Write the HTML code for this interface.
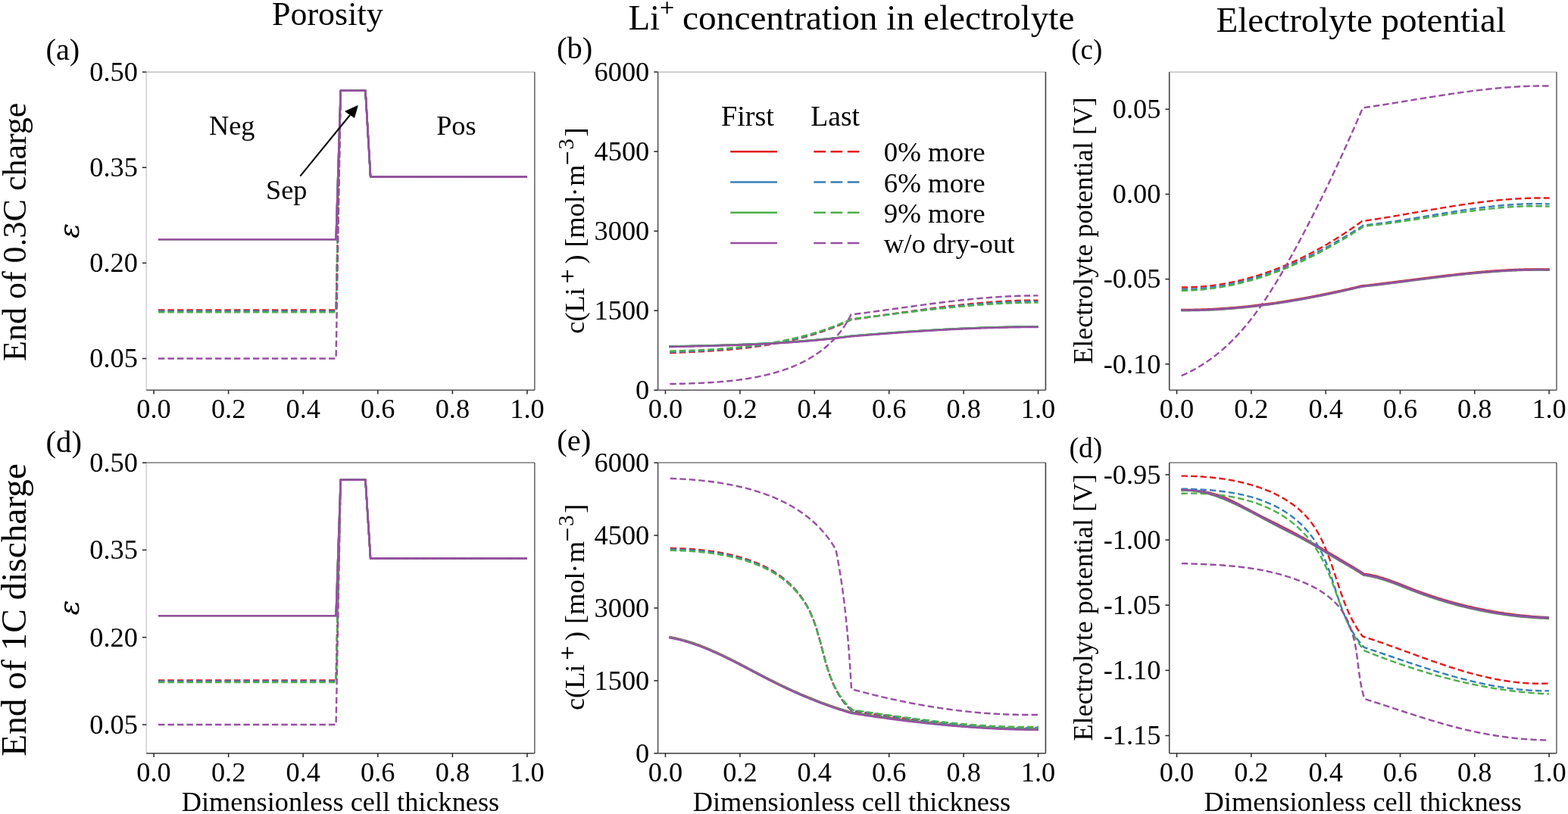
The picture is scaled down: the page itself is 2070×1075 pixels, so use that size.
<!DOCTYPE html><html><head><meta charset="utf-8"><title>Figure</title>
<style>html,body{margin:0;padding:0;background:#fff;}svg{display:block;}</style></head><body>
<svg width="2070" height="1075" viewBox="0 0 2070 1075">
<rect width="2070" height="1075" fill="#fff"/>
<path d="M208.97,316.09 L443.59,316.09 L449.70,119.82 L482.42,119.82 L489.13,233.43 L695.94,233.43" fill="none" stroke="#e41a1c" stroke-width="2.4" stroke-linejoin="round"/>
<path d="M208.97,409.42 L443.59,409.42 L449.70,119.82 L482.42,119.82 L489.13,233.43 L695.94,233.43" fill="none" stroke="#e41a1c" stroke-width="2.4" stroke-linejoin="round" stroke-dasharray="8.4 4.1"/>
<path d="M208.97,316.09 L443.59,316.09 L449.70,119.82 L482.42,119.82 L489.13,233.43 L695.94,233.43" fill="none" stroke="#377eb8" stroke-width="2.4" stroke-linejoin="round"/>
<path d="M208.97,410.85 L443.59,410.85 L449.70,119.82 L482.42,119.82 L489.13,233.43 L695.94,233.43" fill="none" stroke="#377eb8" stroke-width="2.4" stroke-linejoin="round" stroke-dasharray="8.4 4.1"/>
<path d="M208.97,316.09 L443.59,316.09 L449.70,119.82 L482.42,119.82 L489.13,233.43 L695.94,233.43" fill="none" stroke="#4daf4a" stroke-width="2.4" stroke-linejoin="round"/>
<path d="M208.97,412.37 L443.59,412.37 L449.70,119.82 L482.42,119.82 L489.13,233.43 L695.94,233.43" fill="none" stroke="#4daf4a" stroke-width="2.4" stroke-linejoin="round" stroke-dasharray="8.4 4.1"/>
<path d="M208.97,316.09 L443.59,316.09 L449.70,119.82 L482.42,119.82 L489.13,233.43 L695.94,233.43" fill="none" stroke="#984ea3" stroke-width="2.4" stroke-linejoin="round"/>
<path d="M208.97,473.50 L443.59,473.50 L449.70,119.82 L482.42,119.82 L489.13,233.43 L695.94,233.43" fill="none" stroke="#984ea3" stroke-width="2.4" stroke-linejoin="round" stroke-dasharray="8.4 4.1"/>
<path d="M208.97,813.11 L443.59,813.11 L449.70,633.70 L482.42,633.70 L489.13,737.55 L695.94,737.55" fill="none" stroke="#e41a1c" stroke-width="2.4" stroke-linejoin="round"/>
<path d="M208.97,898.43 L443.59,898.43 L449.70,633.70 L482.42,633.70 L489.13,737.55 L695.94,737.55" fill="none" stroke="#e41a1c" stroke-width="2.4" stroke-linejoin="round" stroke-dasharray="8.4 4.1"/>
<path d="M208.97,813.11 L443.59,813.11 L449.70,633.70 L482.42,633.70 L489.13,737.55 L695.94,737.55" fill="none" stroke="#377eb8" stroke-width="2.4" stroke-linejoin="round"/>
<path d="M208.97,899.73 L443.59,899.73 L449.70,633.70 L482.42,633.70 L489.13,737.55 L695.94,737.55" fill="none" stroke="#377eb8" stroke-width="2.4" stroke-linejoin="round" stroke-dasharray="8.4 4.1"/>
<path d="M208.97,813.11 L443.59,813.11 L449.70,633.70 L482.42,633.70 L489.13,737.55 L695.94,737.55" fill="none" stroke="#4daf4a" stroke-width="2.4" stroke-linejoin="round"/>
<path d="M208.97,901.12 L443.59,901.12 L449.70,633.70 L482.42,633.70 L489.13,737.55 L695.94,737.55" fill="none" stroke="#4daf4a" stroke-width="2.4" stroke-linejoin="round" stroke-dasharray="8.4 4.1"/>
<path d="M208.97,813.11 L443.59,813.11 L449.70,633.70 L482.42,633.70 L489.13,737.55 L695.94,737.55" fill="none" stroke="#984ea3" stroke-width="2.4" stroke-linejoin="round"/>
<path d="M208.97,957.00 L443.59,957.00 L449.70,633.70 L482.42,633.70 L489.13,737.55 L695.94,737.55" fill="none" stroke="#984ea3" stroke-width="2.4" stroke-linejoin="round" stroke-dasharray="8.4 4.1"/>
<path d="M883.10,457.60 L885.11,457.56 L887.12,457.52 L889.13,457.49 L891.14,457.45 L893.15,457.41 L895.16,457.37 L897.17,457.33 L899.19,457.29 L901.20,457.25 L903.21,457.21 L905.22,457.17 L907.23,457.13 L909.24,457.08 L911.25,457.04 L913.26,457.00 L915.27,456.95 L917.29,456.91 L919.30,456.87 L921.31,456.82 L923.32,456.77 L925.33,456.73 L927.34,456.68 L929.36,456.63 L931.37,456.58 L933.38,456.53 L935.39,456.48 L937.40,456.43 L939.41,456.38 L941.42,456.32 L943.44,456.27 L945.45,456.21 L947.46,456.16 L949.47,456.10 L951.48,456.04 L953.49,455.98 L955.51,455.92 L957.52,455.86 L959.53,455.79 L961.54,455.73 L963.55,455.66 L965.56,455.60 L967.57,455.53 L969.59,455.46 L971.60,455.39 L973.61,455.32 L975.62,455.24 L977.63,455.17 L979.64,455.09 L981.65,455.01 L983.66,454.93 L985.67,454.85 L987.68,454.77 L989.69,454.68 L991.70,454.60 L993.71,454.51 L995.72,454.42 L997.73,454.33 L999.74,454.24 L1001.75,454.14 L1003.76,454.05 L1005.77,453.95 L1007.78,453.85 L1009.79,453.75 L1011.80,453.64 L1013.81,453.54 L1015.82,453.43 L1017.83,453.32 L1019.84,453.21 L1021.85,453.09 L1023.85,452.98 L1025.86,452.86 L1027.87,452.74 L1029.88,452.62 L1031.89,452.49 L1033.89,452.36 L1035.90,452.23 L1037.91,452.10 L1039.92,451.97 L1041.92,451.83 L1043.93,451.70 L1045.94,451.55 L1047.94,451.41 L1049.95,451.27 L1051.95,451.12 L1053.96,450.97 L1055.97,450.81 L1057.97,450.66 L1059.98,450.50 L1061.98,450.34 L1063.98,450.18 L1065.99,450.01 L1067.99,449.84 L1070.00,449.67 L1072.00,449.49 L1074.00,449.32 L1076.01,449.14 L1078.01,448.95 L1080.01,448.77 L1082.02,448.58 L1084.02,448.39 L1086.02,448.19 L1088.02,448.00 L1090.02,447.80 L1092.02,447.59 L1094.02,447.39 L1096.02,447.18 L1098.03,446.96 L1100.02,446.75 L1102.02,446.53 L1104.02,446.31 L1106.02,446.08 L1108.02,445.85 L1110.02,445.62 L1112.02,445.38 L1114.02,445.15 L1116.01,444.90 L1118.01,444.66 L1120.01,444.41 L1122.00,444.16 L1124.00,443.90 L1124.00,443.90 L1126.00,443.73 L1128.00,443.56 L1130.00,443.39 L1132.00,443.22 L1134.00,443.05 L1136.00,442.89 L1138.00,442.72 L1140.00,442.55 L1142.00,442.39 L1144.00,442.22 L1146.00,442.06 L1148.00,441.90 L1150.00,441.74 L1152.00,441.57 L1154.01,441.41 L1156.01,441.26 L1158.01,441.10 L1160.01,440.94 L1162.01,440.78 L1164.01,440.63 L1166.01,440.47 L1168.01,440.32 L1170.01,440.17 L1172.02,440.02 L1174.02,439.86 L1176.02,439.72 L1178.02,439.57 L1180.02,439.42 L1182.02,439.27 L1184.03,439.13 L1186.03,438.98 L1188.03,438.84 L1190.03,438.69 L1192.04,438.55 L1194.04,438.41 L1196.04,438.27 L1198.04,438.14 L1200.04,438.00 L1202.05,437.86 L1204.05,437.73 L1206.05,437.59 L1208.06,437.46 L1210.06,437.33 L1212.06,437.20 L1214.06,437.07 L1216.07,436.94 L1218.07,436.81 L1220.07,436.69 L1222.08,436.56 L1224.08,436.44 L1226.08,436.32 L1228.09,436.20 L1230.09,436.08 L1232.09,435.96 L1234.10,435.85 L1236.10,435.73 L1238.11,435.62 L1240.11,435.50 L1242.11,435.39 L1244.12,435.28 L1246.12,435.17 L1248.13,435.06 L1250.13,434.96 L1252.13,434.85 L1254.14,434.75 L1256.14,434.65 L1258.15,434.55 L1260.15,434.45 L1262.16,434.35 L1264.16,434.26 L1266.17,434.16 L1268.17,434.07 L1270.17,433.98 L1272.18,433.89 L1274.18,433.80 L1276.19,433.71 L1278.20,433.62 L1280.20,433.54 L1282.21,433.46 L1284.21,433.37 L1286.22,433.30 L1288.22,433.22 L1290.23,433.14 L1292.23,433.07 L1294.24,432.99 L1296.24,432.92 L1298.25,432.85 L1300.26,432.78 L1302.26,432.72 L1304.27,432.65 L1306.27,432.59 L1308.28,432.53 L1310.29,432.47 L1312.29,432.41 L1314.30,432.35 L1316.30,432.30 L1318.31,432.24 L1320.32,432.19 L1322.32,432.14 L1324.33,432.09 L1326.34,432.05 L1328.34,432.00 L1330.35,431.96 L1332.36,431.92 L1334.36,431.88 L1336.37,431.84 L1338.38,431.81 L1340.39,431.77 L1342.39,431.74 L1344.40,431.71 L1346.41,431.68 L1348.42,431.66 L1350.42,431.63 L1352.43,431.61 L1354.44,431.59 L1356.45,431.57 L1358.45,431.56 L1360.46,431.54 L1362.47,431.53 L1364.48,431.52 L1366.48,431.51 L1368.49,431.50 L1370.50,431.50" fill="none" stroke="#e41a1c" stroke-width="2.4" stroke-linejoin="round"/>
<path d="M884.30,466.00 L886.29,465.93 L888.28,465.86 L890.28,465.79 L892.28,465.71 L894.27,465.64 L896.27,465.56 L898.27,465.48 L900.27,465.40 L902.28,465.32 L904.28,465.24 L906.29,465.16 L908.29,465.07 L910.30,464.98 L912.31,464.89 L914.32,464.80 L916.33,464.70 L918.34,464.61 L920.35,464.51 L922.36,464.41 L924.37,464.30 L926.39,464.19 L928.40,464.08 L930.42,463.97 L932.43,463.85 L934.45,463.73 L936.46,463.61 L938.48,463.48 L940.50,463.36 L942.51,463.22 L944.53,463.09 L946.55,462.94 L948.57,462.80 L950.58,462.65 L952.60,462.50 L954.62,462.34 L956.64,462.18 L958.65,462.02 L960.67,461.85 L962.69,461.68 L964.70,461.50 L966.72,461.31 L968.73,461.13 L970.75,460.93 L972.76,460.74 L974.78,460.53 L976.79,460.33 L978.80,460.11 L980.81,459.89 L982.82,459.67 L984.83,459.44 L986.84,459.20 L988.85,458.96 L990.86,458.72 L992.87,458.46 L994.87,458.21 L996.88,457.94 L998.88,457.67 L1000.88,457.39 L1002.88,457.11 L1004.88,456.82 L1006.88,456.52 L1008.87,456.22 L1010.87,455.90 L1012.86,455.59 L1014.85,455.26 L1016.84,454.93 L1018.83,454.59 L1020.82,454.24 L1022.80,453.89 L1024.78,453.53 L1026.77,453.16 L1028.74,452.78 L1030.72,452.40 L1032.70,452.01 L1034.67,451.61 L1036.64,451.20 L1038.61,450.78 L1040.57,450.36 L1042.54,449.92 L1044.50,449.48 L1046.46,449.03 L1048.42,448.57 L1050.37,448.11 L1052.32,447.63 L1054.27,447.14 L1056.22,446.65 L1058.16,446.15 L1060.10,445.63 L1062.04,445.11 L1063.98,444.58 L1065.91,444.04 L1067.84,443.49 L1069.77,442.93 L1071.69,442.36 L1073.61,441.78 L1075.53,441.19 L1077.44,440.59 L1079.35,439.97 L1081.26,439.35 L1083.16,438.72 L1085.06,438.08 L1086.96,437.43 L1088.85,436.76 L1090.74,436.09 L1092.63,435.41 L1094.51,434.71 L1096.39,434.00 L1098.27,433.29 L1100.14,432.56 L1102.01,431.81 L1103.87,431.06 L1105.73,430.30 L1107.59,429.52 L1109.44,428.74 L1111.29,427.94 L1113.13,427.13 L1114.97,426.30 L1116.81,425.47 L1118.64,424.62 L1120.46,423.76 L1122.28,422.89 L1124.10,422.00 L1124.10,422.00 L1126.10,421.74 L1128.09,421.48 L1130.09,421.21 L1132.08,420.95 L1134.08,420.68 L1136.08,420.41 L1138.07,420.14 L1140.07,419.87 L1142.06,419.60 L1144.06,419.32 L1146.06,419.05 L1148.05,418.77 L1150.05,418.49 L1152.04,418.22 L1154.04,417.94 L1156.03,417.66 L1158.03,417.38 L1160.03,417.10 L1162.02,416.81 L1164.02,416.53 L1166.01,416.25 L1168.01,415.97 L1170.01,415.68 L1172.00,415.40 L1174.00,415.11 L1175.99,414.83 L1177.99,414.54 L1179.99,414.26 L1181.98,413.98 L1183.98,413.69 L1185.97,413.41 L1187.97,413.12 L1189.97,412.84 L1191.96,412.56 L1193.96,412.27 L1195.96,411.99 L1197.95,411.71 L1199.95,411.43 L1201.95,411.15 L1203.94,410.87 L1205.94,410.59 L1207.94,410.31 L1209.94,410.03 L1211.93,409.76 L1213.93,409.48 L1215.93,409.21 L1217.93,408.93 L1219.93,408.66 L1221.92,408.39 L1223.92,408.12 L1225.92,407.86 L1227.92,407.59 L1229.92,407.32 L1231.92,407.06 L1233.92,406.80 L1235.92,406.54 L1237.91,406.28 L1239.91,406.03 L1241.91,405.78 L1243.91,405.52 L1245.91,405.27 L1247.91,405.03 L1249.92,404.78 L1251.92,404.54 L1253.92,404.30 L1255.92,404.06 L1257.92,403.82 L1259.92,403.59 L1261.92,403.36 L1263.93,403.13 L1265.93,402.91 L1267.93,402.69 L1269.93,402.47 L1271.94,402.25 L1273.94,402.04 L1275.95,401.83 L1277.95,401.62 L1279.95,401.42 L1281.96,401.22 L1283.96,401.02 L1285.97,400.82 L1287.97,400.63 L1289.98,400.45 L1291.99,400.26 L1293.99,400.08 L1296.00,399.91 L1298.01,399.74 L1300.01,399.57 L1302.02,399.40 L1304.03,399.24 L1306.04,399.09 L1308.04,398.93 L1310.05,398.79 L1312.06,398.64 L1314.07,398.50 L1316.08,398.37 L1318.09,398.24 L1320.10,398.11 L1322.11,397.99 L1324.13,397.87 L1326.14,397.76 L1328.15,397.65 L1330.16,397.55 L1332.18,397.45 L1334.19,397.36 L1336.20,397.27 L1338.22,397.19 L1340.23,397.11 L1342.25,397.04 L1344.26,396.97 L1346.28,396.91 L1348.29,396.85 L1350.31,396.80 L1352.33,396.75 L1354.34,396.71 L1356.36,396.68 L1358.38,396.65 L1360.40,396.63 L1362.42,396.61 L1364.44,396.60 L1366.46,396.59 L1368.48,396.59 L1370.50,396.60" fill="none" stroke="#e41a1c" stroke-width="2.4" stroke-linejoin="round" stroke-dasharray="8.4 4.1"/>
<path d="M883.10,457.40 L885.11,457.36 L887.12,457.32 L889.13,457.29 L891.14,457.25 L893.15,457.21 L895.16,457.17 L897.17,457.13 L899.19,457.09 L901.20,457.05 L903.21,457.01 L905.22,456.97 L907.23,456.93 L909.24,456.88 L911.25,456.84 L913.26,456.80 L915.27,456.75 L917.29,456.71 L919.30,456.67 L921.31,456.62 L923.32,456.57 L925.33,456.53 L927.34,456.48 L929.36,456.43 L931.37,456.38 L933.38,456.33 L935.39,456.28 L937.40,456.23 L939.41,456.18 L941.42,456.12 L943.44,456.07 L945.45,456.01 L947.46,455.96 L949.47,455.90 L951.48,455.84 L953.49,455.78 L955.51,455.72 L957.52,455.66 L959.53,455.59 L961.54,455.53 L963.55,455.46 L965.56,455.40 L967.57,455.33 L969.59,455.26 L971.60,455.19 L973.61,455.12 L975.62,455.04 L977.63,454.97 L979.64,454.89 L981.65,454.81 L983.66,454.73 L985.67,454.65 L987.68,454.57 L989.69,454.48 L991.70,454.40 L993.71,454.31 L995.72,454.22 L997.73,454.13 L999.74,454.04 L1001.75,453.94 L1003.76,453.85 L1005.77,453.75 L1007.78,453.65 L1009.79,453.55 L1011.80,453.44 L1013.81,453.34 L1015.82,453.23 L1017.83,453.12 L1019.84,453.01 L1021.85,452.89 L1023.85,452.78 L1025.86,452.66 L1027.87,452.54 L1029.88,452.42 L1031.89,452.29 L1033.89,452.16 L1035.90,452.03 L1037.91,451.90 L1039.92,451.77 L1041.92,451.63 L1043.93,451.50 L1045.94,451.35 L1047.94,451.21 L1049.95,451.07 L1051.95,450.92 L1053.96,450.77 L1055.97,450.61 L1057.97,450.46 L1059.98,450.30 L1061.98,450.14 L1063.98,449.98 L1065.99,449.81 L1067.99,449.64 L1070.00,449.47 L1072.00,449.29 L1074.00,449.12 L1076.01,448.94 L1078.01,448.75 L1080.01,448.57 L1082.02,448.38 L1084.02,448.19 L1086.02,447.99 L1088.02,447.80 L1090.02,447.60 L1092.02,447.39 L1094.02,447.19 L1096.02,446.98 L1098.03,446.76 L1100.02,446.55 L1102.02,446.33 L1104.02,446.11 L1106.02,445.88 L1108.02,445.65 L1110.02,445.42 L1112.02,445.18 L1114.02,444.95 L1116.01,444.70 L1118.01,444.46 L1120.01,444.21 L1122.00,443.96 L1124.00,443.70 L1124.00,443.70 L1126.00,443.53 L1128.00,443.36 L1130.00,443.19 L1132.00,443.02 L1134.00,442.85 L1136.00,442.69 L1138.00,442.52 L1140.00,442.35 L1142.00,442.19 L1144.00,442.02 L1146.00,441.86 L1148.00,441.70 L1150.00,441.54 L1152.00,441.37 L1154.01,441.21 L1156.01,441.06 L1158.01,440.90 L1160.01,440.74 L1162.01,440.58 L1164.01,440.43 L1166.01,440.27 L1168.01,440.12 L1170.01,439.97 L1172.02,439.82 L1174.02,439.66 L1176.02,439.52 L1178.02,439.37 L1180.02,439.22 L1182.02,439.07 L1184.03,438.93 L1186.03,438.78 L1188.03,438.64 L1190.03,438.49 L1192.04,438.35 L1194.04,438.21 L1196.04,438.07 L1198.04,437.94 L1200.04,437.80 L1202.05,437.66 L1204.05,437.53 L1206.05,437.39 L1208.06,437.26 L1210.06,437.13 L1212.06,437.00 L1214.06,436.87 L1216.07,436.74 L1218.07,436.61 L1220.07,436.49 L1222.08,436.36 L1224.08,436.24 L1226.08,436.12 L1228.09,436.00 L1230.09,435.88 L1232.09,435.76 L1234.10,435.65 L1236.10,435.53 L1238.11,435.42 L1240.11,435.30 L1242.11,435.19 L1244.12,435.08 L1246.12,434.97 L1248.13,434.86 L1250.13,434.76 L1252.13,434.65 L1254.14,434.55 L1256.14,434.45 L1258.15,434.35 L1260.15,434.25 L1262.16,434.15 L1264.16,434.06 L1266.17,433.96 L1268.17,433.87 L1270.17,433.78 L1272.18,433.69 L1274.18,433.60 L1276.19,433.51 L1278.20,433.42 L1280.20,433.34 L1282.21,433.26 L1284.21,433.17 L1286.22,433.10 L1288.22,433.02 L1290.23,432.94 L1292.23,432.87 L1294.24,432.79 L1296.24,432.72 L1298.25,432.65 L1300.26,432.58 L1302.26,432.52 L1304.27,432.45 L1306.27,432.39 L1308.28,432.33 L1310.29,432.27 L1312.29,432.21 L1314.30,432.15 L1316.30,432.10 L1318.31,432.04 L1320.32,431.99 L1322.32,431.94 L1324.33,431.89 L1326.34,431.85 L1328.34,431.80 L1330.35,431.76 L1332.36,431.72 L1334.36,431.68 L1336.37,431.64 L1338.38,431.61 L1340.39,431.57 L1342.39,431.54 L1344.40,431.51 L1346.41,431.48 L1348.42,431.46 L1350.42,431.43 L1352.43,431.41 L1354.44,431.39 L1356.45,431.37 L1358.45,431.36 L1360.46,431.34 L1362.47,431.33 L1364.48,431.32 L1366.48,431.31 L1368.49,431.30 L1370.50,431.30" fill="none" stroke="#377eb8" stroke-width="2.4" stroke-linejoin="round"/>
<path d="M884.30,464.80 L886.29,464.74 L888.29,464.68 L890.28,464.62 L892.28,464.56 L894.28,464.49 L896.27,464.42 L898.27,464.36 L900.28,464.29 L902.28,464.21 L904.28,464.14 L906.29,464.06 L908.29,463.98 L910.30,463.90 L912.30,463.82 L914.31,463.73 L916.32,463.65 L918.33,463.56 L920.34,463.46 L922.35,463.36 L924.36,463.27 L926.37,463.16 L928.39,463.06 L930.40,462.95 L932.41,462.84 L934.43,462.72 L936.44,462.60 L938.45,462.48 L940.47,462.35 L942.48,462.22 L944.50,462.09 L946.51,461.95 L948.53,461.81 L950.54,461.67 L952.55,461.52 L954.57,461.36 L956.58,461.21 L958.60,461.04 L960.61,460.88 L962.62,460.70 L964.64,460.53 L966.65,460.35 L968.66,460.16 L970.67,459.97 L972.69,459.77 L974.70,459.57 L976.71,459.37 L978.72,459.15 L980.72,458.94 L982.73,458.72 L984.74,458.49 L986.75,458.25 L988.75,458.01 L990.75,457.77 L992.76,457.52 L994.76,457.26 L996.76,457.00 L998.76,456.73 L1000.76,456.45 L1002.76,456.17 L1004.75,455.88 L1006.75,455.58 L1008.74,455.28 L1010.74,454.97 L1012.73,454.66 L1014.72,454.33 L1016.70,454.01 L1018.69,453.67 L1020.67,453.33 L1022.66,452.97 L1024.64,452.62 L1026.62,452.25 L1028.59,451.88 L1030.57,451.50 L1032.54,451.11 L1034.52,450.71 L1036.49,450.31 L1038.45,449.89 L1040.42,449.47 L1042.38,449.05 L1044.34,448.61 L1046.30,448.16 L1048.26,447.71 L1050.21,447.25 L1052.16,446.78 L1054.11,446.30 L1056.06,445.81 L1058.00,445.31 L1059.95,444.81 L1061.89,444.29 L1063.82,443.77 L1065.76,443.24 L1067.69,442.69 L1069.61,442.14 L1071.54,441.58 L1073.46,441.01 L1075.38,440.43 L1077.30,439.84 L1079.21,439.24 L1081.12,438.63 L1083.03,438.01 L1084.93,437.38 L1086.83,436.74 L1088.73,436.09 L1090.63,435.42 L1092.52,434.75 L1094.40,434.07 L1096.29,433.38 L1098.17,432.68 L1100.05,431.96 L1101.92,431.24 L1103.79,430.50 L1105.65,429.75 L1107.52,428.99 L1109.38,428.22 L1111.23,427.44 L1113.08,426.65 L1114.93,425.85 L1116.77,425.03 L1118.61,424.20 L1120.44,423.37 L1122.27,422.51 L1124.10,421.65 L1124.10,421.65 L1126.10,421.40 L1128.09,421.16 L1130.09,420.91 L1132.09,420.66 L1134.08,420.41 L1136.08,420.16 L1138.08,419.91 L1140.07,419.65 L1142.07,419.40 L1144.07,419.14 L1146.06,418.88 L1148.06,418.63 L1150.06,418.37 L1152.05,418.11 L1154.05,417.85 L1156.05,417.59 L1158.05,417.33 L1160.04,417.07 L1162.04,416.80 L1164.04,416.54 L1166.03,416.28 L1168.03,416.01 L1170.03,415.75 L1172.02,415.49 L1174.02,415.22 L1176.02,414.96 L1178.01,414.70 L1180.01,414.43 L1182.01,414.17 L1184.01,413.90 L1186.00,413.64 L1188.00,413.38 L1190.00,413.11 L1192.00,412.85 L1193.99,412.59 L1195.99,412.33 L1197.99,412.07 L1199.99,411.81 L1201.98,411.55 L1203.98,411.29 L1205.98,411.03 L1207.98,410.77 L1209.98,410.52 L1211.98,410.26 L1213.97,410.01 L1215.97,409.76 L1217.97,409.50 L1219.97,409.25 L1221.97,409.00 L1223.97,408.75 L1225.97,408.51 L1227.97,408.26 L1229.97,408.02 L1231.97,407.78 L1233.97,407.54 L1235.97,407.30 L1237.97,407.06 L1239.97,406.82 L1241.97,406.59 L1243.97,406.36 L1245.97,406.13 L1247.97,405.90 L1249.97,405.67 L1251.97,405.45 L1253.98,405.23 L1255.98,405.01 L1257.98,404.79 L1259.98,404.58 L1261.98,404.37 L1263.99,404.16 L1265.99,403.95 L1267.99,403.74 L1270.00,403.54 L1272.00,403.34 L1274.00,403.15 L1276.01,402.95 L1278.01,402.76 L1280.01,402.57 L1282.02,402.39 L1284.02,402.21 L1286.03,402.03 L1288.03,401.85 L1290.04,401.68 L1292.05,401.51 L1294.05,401.35 L1296.06,401.19 L1298.06,401.03 L1300.07,400.87 L1302.08,400.72 L1304.09,400.57 L1306.09,400.43 L1308.10,400.29 L1310.11,400.15 L1312.12,400.02 L1314.13,399.89 L1316.13,399.76 L1318.14,399.64 L1320.15,399.52 L1322.16,399.41 L1324.17,399.30 L1326.18,399.20 L1328.20,399.10 L1330.21,399.00 L1332.22,398.91 L1334.23,398.83 L1336.24,398.74 L1338.25,398.67 L1340.27,398.59 L1342.28,398.52 L1344.29,398.46 L1346.31,398.40 L1348.32,398.35 L1350.34,398.30 L1352.35,398.26 L1354.37,398.22 L1356.38,398.19 L1358.40,398.16 L1360.41,398.13 L1362.43,398.12 L1364.45,398.10 L1366.46,398.10 L1368.48,398.10 L1370.50,398.10" fill="none" stroke="#377eb8" stroke-width="2.4" stroke-linejoin="round" stroke-dasharray="8.4 4.1"/>
<path d="M883.10,457.50 L885.11,457.46 L887.12,457.42 L889.13,457.39 L891.14,457.35 L893.15,457.31 L895.16,457.27 L897.17,457.23 L899.19,457.19 L901.20,457.15 L903.21,457.11 L905.22,457.07 L907.23,457.03 L909.24,456.98 L911.25,456.94 L913.26,456.90 L915.27,456.85 L917.29,456.81 L919.30,456.77 L921.31,456.72 L923.32,456.67 L925.33,456.63 L927.34,456.58 L929.36,456.53 L931.37,456.48 L933.38,456.43 L935.39,456.38 L937.40,456.33 L939.41,456.28 L941.42,456.22 L943.44,456.17 L945.45,456.11 L947.46,456.06 L949.47,456.00 L951.48,455.94 L953.49,455.88 L955.51,455.82 L957.52,455.76 L959.53,455.69 L961.54,455.63 L963.55,455.56 L965.56,455.50 L967.57,455.43 L969.59,455.36 L971.60,455.29 L973.61,455.22 L975.62,455.14 L977.63,455.07 L979.64,454.99 L981.65,454.91 L983.66,454.83 L985.67,454.75 L987.68,454.67 L989.69,454.58 L991.70,454.50 L993.71,454.41 L995.72,454.32 L997.73,454.23 L999.74,454.14 L1001.75,454.04 L1003.76,453.95 L1005.77,453.85 L1007.78,453.75 L1009.79,453.65 L1011.80,453.54 L1013.81,453.44 L1015.82,453.33 L1017.83,453.22 L1019.84,453.11 L1021.85,452.99 L1023.85,452.88 L1025.86,452.76 L1027.87,452.64 L1029.88,452.52 L1031.89,452.39 L1033.89,452.26 L1035.90,452.13 L1037.91,452.00 L1039.92,451.87 L1041.92,451.73 L1043.93,451.60 L1045.94,451.45 L1047.94,451.31 L1049.95,451.17 L1051.95,451.02 L1053.96,450.87 L1055.97,450.71 L1057.97,450.56 L1059.98,450.40 L1061.98,450.24 L1063.98,450.08 L1065.99,449.91 L1067.99,449.74 L1070.00,449.57 L1072.00,449.39 L1074.00,449.22 L1076.01,449.04 L1078.01,448.85 L1080.01,448.67 L1082.02,448.48 L1084.02,448.29 L1086.02,448.09 L1088.02,447.90 L1090.02,447.70 L1092.02,447.49 L1094.02,447.29 L1096.02,447.08 L1098.03,446.86 L1100.02,446.65 L1102.02,446.43 L1104.02,446.21 L1106.02,445.98 L1108.02,445.75 L1110.02,445.52 L1112.02,445.28 L1114.02,445.05 L1116.01,444.80 L1118.01,444.56 L1120.01,444.31 L1122.00,444.06 L1124.00,443.80 L1124.00,443.80 L1126.00,443.63 L1128.00,443.46 L1130.00,443.29 L1132.00,443.12 L1134.00,442.95 L1136.00,442.79 L1138.00,442.62 L1140.00,442.45 L1142.00,442.29 L1144.00,442.12 L1146.00,441.96 L1148.00,441.80 L1150.00,441.64 L1152.00,441.47 L1154.01,441.31 L1156.01,441.16 L1158.01,441.00 L1160.01,440.84 L1162.01,440.68 L1164.01,440.53 L1166.01,440.37 L1168.01,440.22 L1170.01,440.07 L1172.02,439.92 L1174.02,439.76 L1176.02,439.62 L1178.02,439.47 L1180.02,439.32 L1182.02,439.17 L1184.03,439.03 L1186.03,438.88 L1188.03,438.74 L1190.03,438.59 L1192.04,438.45 L1194.04,438.31 L1196.04,438.17 L1198.04,438.04 L1200.04,437.90 L1202.05,437.76 L1204.05,437.63 L1206.05,437.49 L1208.06,437.36 L1210.06,437.23 L1212.06,437.10 L1214.06,436.97 L1216.07,436.84 L1218.07,436.71 L1220.07,436.59 L1222.08,436.46 L1224.08,436.34 L1226.08,436.22 L1228.09,436.10 L1230.09,435.98 L1232.09,435.86 L1234.10,435.75 L1236.10,435.63 L1238.11,435.52 L1240.11,435.40 L1242.11,435.29 L1244.12,435.18 L1246.12,435.07 L1248.13,434.96 L1250.13,434.86 L1252.13,434.75 L1254.14,434.65 L1256.14,434.55 L1258.15,434.45 L1260.15,434.35 L1262.16,434.25 L1264.16,434.16 L1266.17,434.06 L1268.17,433.97 L1270.17,433.88 L1272.18,433.79 L1274.18,433.70 L1276.19,433.61 L1278.20,433.52 L1280.20,433.44 L1282.21,433.36 L1284.21,433.27 L1286.22,433.20 L1288.22,433.12 L1290.23,433.04 L1292.23,432.97 L1294.24,432.89 L1296.24,432.82 L1298.25,432.75 L1300.26,432.68 L1302.26,432.62 L1304.27,432.55 L1306.27,432.49 L1308.28,432.43 L1310.29,432.37 L1312.29,432.31 L1314.30,432.25 L1316.30,432.20 L1318.31,432.14 L1320.32,432.09 L1322.32,432.04 L1324.33,431.99 L1326.34,431.95 L1328.34,431.90 L1330.35,431.86 L1332.36,431.82 L1334.36,431.78 L1336.37,431.74 L1338.38,431.71 L1340.39,431.67 L1342.39,431.64 L1344.40,431.61 L1346.41,431.58 L1348.42,431.56 L1350.42,431.53 L1352.43,431.51 L1354.44,431.49 L1356.45,431.47 L1358.45,431.46 L1360.46,431.44 L1362.47,431.43 L1364.48,431.42 L1366.48,431.41 L1368.49,431.40 L1370.50,431.40" fill="none" stroke="#4daf4a" stroke-width="2.4" stroke-linejoin="round"/>
<path d="M884.30,463.60 L886.29,463.55 L888.29,463.50 L890.28,463.45 L892.28,463.40 L894.28,463.35 L896.28,463.29 L898.28,463.23 L900.28,463.17 L902.28,463.10 L904.28,463.04 L906.29,462.97 L908.29,462.90 L910.30,462.83 L912.30,462.75 L914.31,462.67 L916.32,462.59 L918.32,462.50 L920.33,462.42 L922.34,462.33 L924.35,462.23 L926.36,462.13 L928.37,462.03 L930.38,461.93 L932.39,461.82 L934.40,461.71 L936.42,461.60 L938.43,461.48 L940.44,461.35 L942.45,461.23 L944.46,461.10 L946.47,460.96 L948.49,460.83 L950.50,460.68 L952.51,460.54 L954.52,460.38 L956.53,460.23 L958.55,460.07 L960.56,459.90 L962.57,459.73 L964.58,459.56 L966.59,459.38 L968.60,459.19 L970.61,459.01 L972.61,458.81 L974.62,458.61 L976.63,458.41 L978.63,458.20 L980.64,457.98 L982.65,457.76 L984.65,457.53 L986.65,457.30 L988.66,457.06 L990.66,456.82 L992.66,456.57 L994.66,456.31 L996.66,456.05 L998.65,455.78 L1000.65,455.51 L1002.65,455.23 L1004.64,454.94 L1006.63,454.65 L1008.62,454.35 L1010.61,454.04 L1012.60,453.73 L1014.59,453.41 L1016.57,453.08 L1018.56,452.74 L1020.54,452.40 L1022.52,452.05 L1024.50,451.70 L1026.48,451.34 L1028.46,450.97 L1030.43,450.59 L1032.40,450.20 L1034.37,449.81 L1036.34,449.41 L1038.31,449.00 L1040.27,448.59 L1042.23,448.16 L1044.20,447.73 L1046.15,447.29 L1048.11,446.84 L1050.06,446.39 L1052.02,445.92 L1053.97,445.45 L1055.91,444.97 L1057.86,444.48 L1059.80,443.98 L1061.74,443.47 L1063.68,442.95 L1065.61,442.43 L1067.54,441.89 L1069.47,441.35 L1071.40,440.80 L1073.33,440.24 L1075.25,439.67 L1077.17,439.09 L1079.08,438.50 L1081.00,437.90 L1082.91,437.29 L1084.81,436.67 L1086.72,436.04 L1088.62,435.40 L1090.52,434.76 L1092.41,434.10 L1094.30,433.43 L1096.19,432.75 L1098.08,432.06 L1099.96,431.36 L1101.84,430.65 L1103.71,429.93 L1105.58,429.20 L1107.45,428.46 L1109.32,427.71 L1111.18,426.95 L1113.03,426.18 L1114.89,425.39 L1116.74,424.60 L1118.58,423.79 L1120.43,422.97 L1122.27,422.14 L1124.10,421.30 L1124.10,421.30 L1126.10,421.07 L1128.10,420.84 L1130.09,420.61 L1132.09,420.38 L1134.09,420.14 L1136.09,419.91 L1138.08,419.67 L1140.08,419.44 L1142.08,419.20 L1144.08,418.96 L1146.07,418.72 L1148.07,418.48 L1150.07,418.24 L1152.07,418.00 L1154.06,417.76 L1156.06,417.52 L1158.06,417.28 L1160.06,417.04 L1162.05,416.79 L1164.05,416.55 L1166.05,416.31 L1168.05,416.06 L1170.05,415.82 L1172.04,415.58 L1174.04,415.33 L1176.04,415.09 L1178.04,414.85 L1180.04,414.60 L1182.03,414.36 L1184.03,414.12 L1186.03,413.87 L1188.03,413.63 L1190.03,413.39 L1192.03,413.15 L1194.02,412.91 L1196.02,412.67 L1198.02,412.43 L1200.02,412.19 L1202.02,411.95 L1204.02,411.71 L1206.02,411.48 L1208.02,411.24 L1210.02,411.00 L1212.02,410.77 L1214.01,410.54 L1216.01,410.31 L1218.01,410.07 L1220.01,409.84 L1222.01,409.62 L1224.01,409.39 L1226.01,409.16 L1228.01,408.94 L1230.01,408.71 L1232.02,408.49 L1234.02,408.27 L1236.02,408.05 L1238.02,407.84 L1240.02,407.62 L1242.02,407.41 L1244.02,407.19 L1246.02,406.98 L1248.02,406.77 L1250.03,406.57 L1252.03,406.36 L1254.03,406.16 L1256.03,405.96 L1258.03,405.76 L1260.04,405.57 L1262.04,405.37 L1264.04,405.18 L1266.05,404.99 L1268.05,404.80 L1270.05,404.62 L1272.06,404.44 L1274.06,404.26 L1276.06,404.08 L1278.07,403.91 L1280.07,403.73 L1282.08,403.57 L1284.08,403.40 L1286.09,403.24 L1288.09,403.08 L1290.10,402.92 L1292.10,402.76 L1294.11,402.61 L1296.11,402.46 L1298.12,402.32 L1300.12,402.18 L1302.13,402.04 L1304.14,401.90 L1306.14,401.77 L1308.15,401.64 L1310.16,401.51 L1312.17,401.39 L1314.17,401.27 L1316.18,401.16 L1318.19,401.05 L1320.20,400.94 L1322.21,400.84 L1324.22,400.74 L1326.23,400.64 L1328.24,400.55 L1330.25,400.46 L1332.26,400.38 L1334.27,400.29 L1336.28,400.22 L1338.29,400.15 L1340.30,400.08 L1342.31,400.02 L1344.32,399.96 L1346.33,399.90 L1348.35,399.85 L1350.36,399.80 L1352.37,399.76 L1354.38,399.73 L1356.40,399.69 L1358.41,399.67 L1360.43,399.64 L1362.44,399.62 L1364.45,399.61 L1366.47,399.60 L1368.48,399.60 L1370.50,399.60" fill="none" stroke="#4daf4a" stroke-width="2.4" stroke-linejoin="round" stroke-dasharray="8.4 4.1"/>
<path d="M883.10,458.10 L885.11,458.06 L887.12,458.02 L889.13,457.99 L891.14,457.95 L893.15,457.91 L895.16,457.87 L897.17,457.83 L899.19,457.79 L901.20,457.75 L903.21,457.71 L905.22,457.67 L907.23,457.63 L909.24,457.58 L911.25,457.54 L913.26,457.50 L915.27,457.45 L917.29,457.41 L919.30,457.37 L921.31,457.32 L923.32,457.27 L925.33,457.23 L927.34,457.18 L929.36,457.13 L931.37,457.08 L933.38,457.03 L935.39,456.98 L937.40,456.93 L939.41,456.88 L941.42,456.82 L943.44,456.77 L945.45,456.71 L947.46,456.66 L949.47,456.60 L951.48,456.54 L953.49,456.48 L955.51,456.42 L957.52,456.36 L959.53,456.29 L961.54,456.23 L963.55,456.16 L965.56,456.10 L967.57,456.03 L969.59,455.96 L971.60,455.89 L973.61,455.82 L975.62,455.74 L977.63,455.67 L979.64,455.59 L981.65,455.51 L983.66,455.43 L985.67,455.35 L987.68,455.27 L989.69,455.18 L991.70,455.10 L993.71,455.01 L995.72,454.92 L997.73,454.83 L999.74,454.74 L1001.75,454.64 L1003.76,454.55 L1005.77,454.45 L1007.78,454.35 L1009.79,454.25 L1011.80,454.14 L1013.81,454.04 L1015.82,453.93 L1017.83,453.82 L1019.84,453.71 L1021.85,453.59 L1023.85,453.48 L1025.86,453.36 L1027.87,453.24 L1029.88,453.12 L1031.89,452.99 L1033.89,452.86 L1035.90,452.73 L1037.91,452.60 L1039.92,452.47 L1041.92,452.33 L1043.93,452.20 L1045.94,452.05 L1047.94,451.91 L1049.95,451.77 L1051.95,451.62 L1053.96,451.47 L1055.97,451.31 L1057.97,451.16 L1059.98,451.00 L1061.98,450.84 L1063.98,450.68 L1065.99,450.51 L1067.99,450.34 L1070.00,450.17 L1072.00,449.99 L1074.00,449.82 L1076.01,449.64 L1078.01,449.45 L1080.01,449.27 L1082.02,449.08 L1084.02,448.89 L1086.02,448.69 L1088.02,448.50 L1090.02,448.30 L1092.02,448.09 L1094.02,447.89 L1096.02,447.68 L1098.03,447.46 L1100.02,447.25 L1102.02,447.03 L1104.02,446.81 L1106.02,446.58 L1108.02,446.35 L1110.02,446.12 L1112.02,445.88 L1114.02,445.65 L1116.01,445.40 L1118.01,445.16 L1120.01,444.91 L1122.00,444.66 L1124.00,444.40 L1124.00,444.40 L1126.00,444.23 L1128.00,444.06 L1130.00,443.89 L1132.00,443.72 L1134.00,443.55 L1136.00,443.39 L1138.00,443.22 L1140.00,443.05 L1142.00,442.89 L1144.00,442.72 L1146.00,442.56 L1148.00,442.40 L1150.00,442.24 L1152.00,442.07 L1154.01,441.91 L1156.01,441.76 L1158.01,441.60 L1160.01,441.44 L1162.01,441.28 L1164.01,441.13 L1166.01,440.97 L1168.01,440.82 L1170.01,440.67 L1172.02,440.52 L1174.02,440.36 L1176.02,440.22 L1178.02,440.07 L1180.02,439.92 L1182.02,439.77 L1184.03,439.63 L1186.03,439.48 L1188.03,439.34 L1190.03,439.19 L1192.04,439.05 L1194.04,438.91 L1196.04,438.77 L1198.04,438.64 L1200.04,438.50 L1202.05,438.36 L1204.05,438.23 L1206.05,438.09 L1208.06,437.96 L1210.06,437.83 L1212.06,437.70 L1214.06,437.57 L1216.07,437.44 L1218.07,437.31 L1220.07,437.19 L1222.08,437.06 L1224.08,436.94 L1226.08,436.82 L1228.09,436.70 L1230.09,436.58 L1232.09,436.46 L1234.10,436.35 L1236.10,436.23 L1238.11,436.12 L1240.11,436.00 L1242.11,435.89 L1244.12,435.78 L1246.12,435.67 L1248.13,435.56 L1250.13,435.46 L1252.13,435.35 L1254.14,435.25 L1256.14,435.15 L1258.15,435.05 L1260.15,434.95 L1262.16,434.85 L1264.16,434.76 L1266.17,434.66 L1268.17,434.57 L1270.17,434.48 L1272.18,434.39 L1274.18,434.30 L1276.19,434.21 L1278.20,434.12 L1280.20,434.04 L1282.21,433.96 L1284.21,433.87 L1286.22,433.80 L1288.22,433.72 L1290.23,433.64 L1292.23,433.57 L1294.24,433.49 L1296.24,433.42 L1298.25,433.35 L1300.26,433.28 L1302.26,433.22 L1304.27,433.15 L1306.27,433.09 L1308.28,433.03 L1310.29,432.97 L1312.29,432.91 L1314.30,432.85 L1316.30,432.80 L1318.31,432.74 L1320.32,432.69 L1322.32,432.64 L1324.33,432.59 L1326.34,432.55 L1328.34,432.50 L1330.35,432.46 L1332.36,432.42 L1334.36,432.38 L1336.37,432.34 L1338.38,432.31 L1340.39,432.27 L1342.39,432.24 L1344.40,432.21 L1346.41,432.18 L1348.42,432.16 L1350.42,432.13 L1352.43,432.11 L1354.44,432.09 L1356.45,432.07 L1358.45,432.06 L1360.46,432.04 L1362.47,432.03 L1364.48,432.02 L1366.48,432.01 L1368.49,432.00 L1370.50,432.00" fill="none" stroke="#984ea3" stroke-width="2.4" stroke-linejoin="round"/>
<path d="M884.30,507.10 L886.18,507.06 L888.06,507.01 L889.96,506.97 L891.86,506.92 L893.77,506.88 L895.69,506.83 L897.61,506.78 L899.55,506.73 L901.49,506.68 L903.44,506.62 L905.39,506.57 L907.35,506.51 L909.32,506.44 L911.29,506.38 L913.27,506.31 L915.26,506.24 L917.25,506.17 L919.25,506.09 L921.25,506.00 L923.25,505.92 L925.26,505.83 L927.28,505.73 L929.29,505.63 L931.32,505.53 L933.34,505.42 L935.37,505.30 L937.40,505.18 L939.44,505.05 L941.47,504.92 L943.51,504.78 L945.55,504.64 L947.60,504.48 L949.64,504.33 L951.69,504.16 L953.73,503.99 L955.78,503.81 L957.83,503.62 L959.88,503.42 L961.93,503.22 L963.98,503.01 L966.03,502.79 L968.08,502.56 L970.12,502.32 L972.17,502.08 L974.22,501.82 L976.26,501.55 L978.30,501.28 L980.34,501.00 L982.38,500.70 L984.42,500.40 L986.45,500.08 L988.48,499.75 L990.51,499.42 L992.53,499.07 L994.55,498.71 L996.57,498.34 L998.58,497.96 L1000.59,497.56 L1002.59,497.16 L1004.59,496.74 L1006.58,496.31 L1008.57,495.87 L1010.56,495.41 L1012.53,494.94 L1014.50,494.46 L1016.47,493.96 L1018.43,493.45 L1020.38,492.93 L1022.32,492.39 L1024.26,491.84 L1026.19,491.27 L1028.11,490.69 L1030.03,490.09 L1031.94,489.48 L1033.83,488.86 L1035.72,488.21 L1037.60,487.55 L1039.48,486.88 L1041.34,486.19 L1043.19,485.48 L1045.04,484.76 L1046.87,484.02 L1048.69,483.27 L1050.50,482.49 L1052.31,481.70 L1054.10,480.89 L1055.88,480.06 L1057.64,479.22 L1059.40,478.36 L1061.15,477.48 L1062.88,476.58 L1064.60,475.66 L1066.31,474.72 L1068.00,473.76 L1069.68,472.79 L1071.35,471.79 L1073.01,470.78 L1074.65,469.74 L1076.27,468.69 L1077.89,467.61 L1079.48,466.51 L1081.07,465.40 L1082.64,464.26 L1084.19,463.10 L1085.73,461.92 L1087.25,460.71 L1088.76,459.49 L1090.25,458.24 L1091.72,456.97 L1093.18,455.68 L1094.62,454.37 L1096.04,453.03 L1097.45,451.67 L1098.83,450.29 L1100.20,448.88 L1101.56,447.45 L1102.89,445.99 L1104.21,444.52 L1105.50,443.01 L1106.78,441.49 L1108.04,439.93 L1109.28,438.36 L1110.50,436.75 L1111.70,435.13 L1112.87,433.47 L1114.03,431.80 L1115.17,430.09 L1116.29,428.36 L1117.38,426.60 L1118.46,424.82 L1119.51,423.01 L1120.54,421.17 L1121.55,419.31 L1122.54,417.42 L1123.50,415.50 L1123.50,415.50 L1125.49,415.25 L1127.47,415.00 L1129.46,414.75 L1131.44,414.49 L1133.43,414.24 L1135.41,413.98 L1137.40,413.72 L1139.38,413.46 L1141.37,413.20 L1143.35,412.94 L1145.34,412.67 L1147.32,412.41 L1149.31,412.14 L1151.29,411.87 L1153.28,411.60 L1155.26,411.33 L1157.25,411.06 L1159.23,410.79 L1161.22,410.52 L1163.20,410.25 L1165.19,409.97 L1167.17,409.70 L1169.16,409.43 L1171.15,409.15 L1173.13,408.88 L1175.12,408.60 L1177.10,408.32 L1179.09,408.05 L1181.07,407.77 L1183.06,407.50 L1185.04,407.22 L1187.03,406.94 L1189.01,406.67 L1191.00,406.39 L1192.98,406.12 L1194.97,405.84 L1196.96,405.57 L1198.94,405.29 L1200.93,405.02 L1202.91,404.75 L1204.90,404.48 L1206.89,404.20 L1208.87,403.93 L1210.86,403.66 L1212.85,403.39 L1214.83,403.13 L1216.82,402.86 L1218.81,402.59 L1220.79,402.33 L1222.78,402.06 L1224.77,401.80 L1226.76,401.54 L1228.74,401.28 L1230.73,401.02 L1232.72,400.77 L1234.71,400.51 L1236.70,400.26 L1238.68,400.01 L1240.67,399.76 L1242.66,399.51 L1244.65,399.26 L1246.64,399.02 L1248.63,398.78 L1250.62,398.54 L1252.61,398.30 L1254.60,398.06 L1256.59,397.83 L1258.58,397.60 L1260.57,397.37 L1262.56,397.15 L1264.55,396.92 L1266.54,396.70 L1268.53,396.48 L1270.53,396.27 L1272.52,396.06 L1274.51,395.85 L1276.50,395.64 L1278.50,395.44 L1280.49,395.23 L1282.48,395.04 L1284.47,394.84 L1286.47,394.65 L1288.46,394.46 L1290.46,394.28 L1292.45,394.10 L1294.45,393.92 L1296.44,393.75 L1298.44,393.58 L1300.43,393.41 L1302.43,393.25 L1304.42,393.09 L1306.42,392.93 L1308.42,392.78 L1310.42,392.64 L1312.41,392.49 L1314.41,392.35 L1316.41,392.22 L1318.41,392.09 L1320.41,391.96 L1322.41,391.84 L1324.41,391.72 L1326.41,391.61 L1328.41,391.50 L1330.41,391.40 L1332.41,391.30 L1334.41,391.21 L1336.41,391.12 L1338.41,391.03 L1340.41,390.95 L1342.42,390.88 L1344.42,390.81 L1346.42,390.74 L1348.43,390.69 L1350.43,390.63 L1352.44,390.58 L1354.44,390.54 L1356.45,390.50 L1358.45,390.47 L1360.46,390.45 L1362.47,390.42 L1364.48,390.41 L1366.48,390.40 L1368.49,390.40 L1370.50,390.40" fill="none" stroke="#984ea3" stroke-width="2.4" stroke-linejoin="round" stroke-dasharray="8.4 4.1"/>
<path d="M1559.10,408.90 L1561.11,408.91 L1563.12,408.92 L1565.14,408.92 L1567.15,408.91 L1569.16,408.90 L1571.17,408.88 L1573.18,408.86 L1575.19,408.83 L1577.20,408.80 L1579.21,408.76 L1581.21,408.72 L1583.22,408.67 L1585.23,408.61 L1587.24,408.55 L1589.24,408.49 L1591.25,408.41 L1593.26,408.34 L1595.26,408.26 L1597.27,408.17 L1599.27,408.08 L1601.27,407.98 L1603.28,407.88 L1605.28,407.77 L1607.28,407.65 L1609.29,407.54 L1611.29,407.41 L1613.29,407.28 L1615.29,407.15 L1617.29,407.01 L1619.29,406.87 L1621.29,406.72 L1623.29,406.57 L1625.29,406.41 L1627.29,406.25 L1629.29,406.08 L1631.28,405.91 L1633.28,405.73 L1635.28,405.55 L1637.27,405.36 L1639.27,405.17 L1641.26,404.98 L1643.26,404.78 L1645.25,404.57 L1647.25,404.36 L1649.24,404.15 L1651.23,403.93 L1653.23,403.71 L1655.22,403.48 L1657.21,403.25 L1659.20,403.02 L1661.19,402.78 L1663.18,402.53 L1665.17,402.28 L1667.16,402.03 L1669.15,401.77 L1671.13,401.51 L1673.12,401.25 L1675.11,400.98 L1677.09,400.71 L1679.08,400.43 L1681.07,400.15 L1683.05,399.86 L1685.03,399.57 L1687.02,399.28 L1689.00,398.98 L1690.98,398.68 L1692.97,398.38 L1694.95,398.07 L1696.93,397.76 L1698.91,397.44 L1700.89,397.12 L1702.87,396.80 L1704.85,396.47 L1706.83,396.14 L1708.80,395.80 L1710.78,395.46 L1712.76,395.12 L1714.73,394.78 L1716.71,394.43 L1718.68,394.08 L1720.66,393.72 L1722.63,393.36 L1724.61,393.00 L1726.58,392.64 L1728.55,392.27 L1730.52,391.89 L1732.49,391.52 L1734.46,391.14 L1736.43,390.76 L1738.40,390.37 L1740.37,389.99 L1742.34,389.59 L1744.31,389.20 L1746.27,388.80 L1748.24,388.40 L1750.21,388.00 L1752.17,387.59 L1754.14,387.18 L1756.10,386.77 L1758.06,386.36 L1760.03,385.94 L1761.99,385.52 L1763.95,385.09 L1765.91,384.67 L1767.87,384.24 L1769.83,383.81 L1771.79,383.37 L1773.75,382.94 L1775.71,382.50 L1777.66,382.06 L1779.62,381.61 L1781.58,381.16 L1783.53,380.71 L1785.49,380.26 L1787.44,379.81 L1789.39,379.35 L1791.35,378.89 L1793.30,378.43 L1795.25,377.97 L1797.20,377.50 L1797.20,377.50 L1799.20,377.28 L1801.20,377.05 L1803.20,376.83 L1805.19,376.60 L1807.19,376.37 L1809.19,376.13 L1811.19,375.90 L1813.19,375.66 L1815.18,375.43 L1817.18,375.19 L1819.18,374.95 L1821.18,374.71 L1823.17,374.46 L1825.17,374.22 L1827.17,373.97 L1829.16,373.73 L1831.16,373.48 L1833.16,373.23 L1835.15,372.98 L1837.15,372.73 L1839.15,372.48 L1841.14,372.23 L1843.14,371.97 L1845.14,371.72 L1847.13,371.47 L1849.13,371.21 L1851.13,370.96 L1853.12,370.70 L1855.12,370.45 L1857.12,370.19 L1859.11,369.94 L1861.11,369.68 L1863.10,369.43 L1865.10,369.17 L1867.10,368.92 L1869.09,368.66 L1871.09,368.41 L1873.09,368.16 L1875.08,367.90 L1877.08,367.65 L1879.08,367.40 L1881.07,367.15 L1883.07,366.90 L1885.07,366.65 L1887.07,366.40 L1889.06,366.15 L1891.06,365.90 L1893.06,365.66 L1895.05,365.41 L1897.05,365.17 L1899.05,364.93 L1901.05,364.69 L1903.05,364.45 L1905.04,364.21 L1907.04,363.97 L1909.04,363.74 L1911.04,363.51 L1913.04,363.27 L1915.04,363.05 L1917.04,362.82 L1919.04,362.59 L1921.04,362.37 L1923.03,362.15 L1925.03,361.93 L1927.03,361.71 L1929.04,361.50 L1931.04,361.29 L1933.04,361.08 L1935.04,360.87 L1937.04,360.67 L1939.04,360.47 L1941.04,360.27 L1943.04,360.07 L1945.05,359.88 L1947.05,359.69 L1949.05,359.50 L1951.05,359.32 L1953.06,359.14 L1955.06,358.96 L1957.06,358.79 L1959.07,358.62 L1961.07,358.45 L1963.08,358.29 L1965.08,358.13 L1967.09,357.97 L1969.09,357.82 L1971.10,357.67 L1973.10,357.53 L1975.11,357.39 L1977.12,357.25 L1979.13,357.12 L1981.13,356.99 L1983.14,356.87 L1985.15,356.75 L1987.16,356.63 L1989.17,356.52 L1991.18,356.41 L1993.19,356.31 L1995.20,356.22 L1997.21,356.12 L1999.22,356.04 L2001.23,355.95 L2003.24,355.87 L2005.26,355.80 L2007.27,355.73 L2009.28,355.67 L2011.29,355.61 L2013.31,355.56 L2015.32,355.51 L2017.34,355.47 L2019.35,355.44 L2021.37,355.41 L2023.39,355.38 L2025.40,355.36 L2027.42,355.35 L2029.44,355.34 L2031.46,355.34 L2033.48,355.35 L2035.50,355.36 L2037.52,355.37 L2039.54,355.39 L2041.56,355.42 L2043.58,355.46 L2045.60,355.50" fill="none" stroke="#e41a1c" stroke-width="2.4" stroke-linejoin="round"/>
<path d="M1559.80,379.50 L1561.83,379.51 L1563.85,379.50 L1565.87,379.48 L1567.89,379.44 L1569.91,379.39 L1571.93,379.33 L1573.94,379.25 L1575.95,379.17 L1577.96,379.07 L1579.97,378.95 L1581.98,378.82 L1583.98,378.68 L1585.98,378.53 L1587.98,378.36 L1589.98,378.19 L1591.97,377.99 L1593.97,377.79 L1595.96,377.57 L1597.95,377.34 L1599.93,377.10 L1601.92,376.85 L1603.90,376.58 L1605.88,376.31 L1607.86,376.02 L1609.83,375.71 L1611.80,375.40 L1613.77,375.08 L1615.74,374.74 L1617.70,374.39 L1619.67,374.03 L1621.63,373.66 L1623.58,373.27 L1625.54,372.88 L1627.49,372.47 L1629.44,372.05 L1631.39,371.62 L1633.33,371.18 L1635.28,370.73 L1637.21,370.27 L1639.15,369.79 L1641.08,369.31 L1643.02,368.81 L1644.94,368.31 L1646.87,367.79 L1648.79,367.26 L1650.71,366.72 L1652.63,366.18 L1654.54,365.62 L1656.45,365.05 L1658.36,364.47 L1660.27,363.88 L1662.17,363.28 L1664.07,362.67 L1665.96,362.05 L1667.86,361.42 L1669.75,360.78 L1671.64,360.13 L1673.52,359.47 L1675.40,358.80 L1677.28,358.13 L1679.15,357.44 L1681.02,356.74 L1682.89,356.03 L1684.76,355.32 L1686.62,354.59 L1688.48,353.86 L1690.33,353.12 L1692.18,352.36 L1694.03,351.60 L1695.88,350.83 L1697.72,350.05 L1699.56,349.27 L1701.39,348.47 L1703.22,347.66 L1705.05,346.85 L1706.88,346.03 L1708.70,345.20 L1710.51,344.36 L1712.33,343.51 L1714.14,342.66 L1715.95,341.80 L1717.75,340.92 L1719.55,340.04 L1721.34,339.16 L1723.14,338.26 L1724.92,337.36 L1726.71,336.45 L1728.49,335.53 L1730.27,334.61 L1732.04,333.67 L1733.81,332.73 L1735.57,331.79 L1737.34,330.83 L1739.09,329.87 L1740.85,328.90 L1742.60,327.92 L1744.34,326.94 L1746.09,325.95 L1747.82,324.95 L1749.56,323.95 L1751.29,322.94 L1753.01,321.92 L1754.74,320.90 L1756.45,319.87 L1758.17,318.83 L1759.88,317.79 L1761.58,316.74 L1763.28,315.68 L1764.98,314.62 L1766.67,313.55 L1768.36,312.48 L1770.05,311.40 L1771.73,310.31 L1773.40,309.22 L1775.07,308.12 L1776.74,307.02 L1778.40,305.91 L1780.06,304.80 L1781.71,303.68 L1783.36,302.55 L1785.01,301.42 L1786.65,300.29 L1788.28,299.15 L1789.91,298.00 L1791.54,296.85 L1793.16,295.70 L1794.78,294.53 L1796.39,293.37 L1798.00,292.20 L1798.00,292.20 L1799.99,291.91 L1801.98,291.62 L1803.97,291.33 L1805.96,291.03 L1807.95,290.73 L1809.94,290.43 L1811.93,290.12 L1813.92,289.81 L1815.90,289.50 L1817.89,289.19 L1819.88,288.87 L1821.87,288.55 L1823.86,288.23 L1825.84,287.91 L1827.83,287.58 L1829.82,287.26 L1831.80,286.93 L1833.79,286.60 L1835.78,286.26 L1837.76,285.93 L1839.75,285.59 L1841.74,285.26 L1843.72,284.92 L1845.71,284.58 L1847.70,284.24 L1849.68,283.90 L1851.67,283.55 L1853.66,283.21 L1855.64,282.87 L1857.63,282.52 L1859.61,282.18 L1861.60,281.83 L1863.59,281.49 L1865.57,281.14 L1867.56,280.79 L1869.54,280.45 L1871.53,280.10 L1873.52,279.76 L1875.50,279.41 L1877.49,279.07 L1879.48,278.72 L1881.46,278.38 L1883.45,278.03 L1885.44,277.69 L1887.42,277.35 L1889.41,277.01 L1891.40,276.67 L1893.38,276.33 L1895.37,275.99 L1897.36,275.66 L1899.35,275.32 L1901.34,274.99 L1903.32,274.66 L1905.31,274.33 L1907.30,274.00 L1909.29,273.68 L1911.28,273.36 L1913.27,273.03 L1915.26,272.72 L1917.25,272.40 L1919.24,272.09 L1921.23,271.77 L1923.22,271.47 L1925.21,271.16 L1927.20,270.86 L1929.20,270.56 L1931.19,270.26 L1933.18,269.97 L1935.17,269.67 L1937.17,269.39 L1939.16,269.10 L1941.15,268.82 L1943.15,268.55 L1945.14,268.27 L1947.14,268.01 L1949.13,267.74 L1951.13,267.48 L1953.13,267.22 L1955.12,266.97 L1957.12,266.72 L1959.12,266.48 L1961.12,266.24 L1963.11,266.00 L1965.11,265.77 L1967.11,265.55 L1969.11,265.33 L1971.12,265.11 L1973.12,264.90 L1975.12,264.70 L1977.12,264.50 L1979.12,264.31 L1981.13,264.12 L1983.13,263.93 L1985.14,263.76 L1987.14,263.59 L1989.15,263.42 L1991.15,263.26 L1993.16,263.11 L1995.17,262.96 L1997.18,262.82 L1999.19,262.69 L2001.20,262.56 L2003.21,262.44 L2005.22,262.32 L2007.23,262.22 L2009.24,262.12 L2011.26,262.02 L2013.27,261.94 L2015.28,261.86 L2017.30,261.78 L2019.32,261.72 L2021.33,261.66 L2023.35,261.61 L2025.37,261.57 L2027.39,261.54 L2029.41,261.51 L2031.43,261.49 L2033.45,261.48 L2035.47,261.48 L2037.50,261.49 L2039.52,261.50 L2041.55,261.53 L2043.57,261.56 L2045.60,261.60" fill="none" stroke="#e41a1c" stroke-width="2.4" stroke-linejoin="round" stroke-dasharray="8.4 4.1"/>
<path d="M1559.10,409.60 L1561.11,409.61 L1563.12,409.62 L1565.14,409.62 L1567.15,409.61 L1569.16,409.60 L1571.17,409.58 L1573.18,409.56 L1575.19,409.53 L1577.20,409.50 L1579.21,409.46 L1581.21,409.42 L1583.22,409.37 L1585.23,409.31 L1587.24,409.25 L1589.24,409.19 L1591.25,409.11 L1593.26,409.04 L1595.26,408.96 L1597.27,408.87 L1599.27,408.78 L1601.27,408.68 L1603.28,408.58 L1605.28,408.47 L1607.28,408.35 L1609.29,408.24 L1611.29,408.11 L1613.29,407.98 L1615.29,407.85 L1617.29,407.71 L1619.29,407.57 L1621.29,407.42 L1623.29,407.27 L1625.29,407.11 L1627.29,406.95 L1629.29,406.78 L1631.28,406.61 L1633.28,406.43 L1635.28,406.25 L1637.27,406.06 L1639.27,405.87 L1641.26,405.68 L1643.26,405.48 L1645.25,405.27 L1647.25,405.06 L1649.24,404.85 L1651.23,404.63 L1653.23,404.41 L1655.22,404.18 L1657.21,403.95 L1659.20,403.72 L1661.19,403.48 L1663.18,403.23 L1665.17,402.98 L1667.16,402.73 L1669.15,402.47 L1671.13,402.21 L1673.12,401.95 L1675.11,401.68 L1677.09,401.41 L1679.08,401.13 L1681.07,400.85 L1683.05,400.56 L1685.03,400.27 L1687.02,399.98 L1689.00,399.68 L1690.98,399.38 L1692.97,399.08 L1694.95,398.77 L1696.93,398.46 L1698.91,398.14 L1700.89,397.82 L1702.87,397.50 L1704.85,397.17 L1706.83,396.84 L1708.80,396.50 L1710.78,396.16 L1712.76,395.82 L1714.73,395.48 L1716.71,395.13 L1718.68,394.78 L1720.66,394.42 L1722.63,394.06 L1724.61,393.70 L1726.58,393.34 L1728.55,392.97 L1730.52,392.59 L1732.49,392.22 L1734.46,391.84 L1736.43,391.46 L1738.40,391.07 L1740.37,390.69 L1742.34,390.29 L1744.31,389.90 L1746.27,389.50 L1748.24,389.10 L1750.21,388.70 L1752.17,388.29 L1754.14,387.88 L1756.10,387.47 L1758.06,387.06 L1760.03,386.64 L1761.99,386.22 L1763.95,385.79 L1765.91,385.37 L1767.87,384.94 L1769.83,384.51 L1771.79,384.07 L1773.75,383.64 L1775.71,383.20 L1777.66,382.76 L1779.62,382.31 L1781.58,381.86 L1783.53,381.41 L1785.49,380.96 L1787.44,380.51 L1789.39,380.05 L1791.35,379.59 L1793.30,379.13 L1795.25,378.67 L1797.20,378.20 L1797.20,378.20 L1799.20,377.98 L1801.20,377.75 L1803.20,377.53 L1805.19,377.30 L1807.19,377.07 L1809.19,376.83 L1811.19,376.60 L1813.19,376.36 L1815.18,376.13 L1817.18,375.89 L1819.18,375.65 L1821.18,375.41 L1823.17,375.16 L1825.17,374.92 L1827.17,374.67 L1829.16,374.43 L1831.16,374.18 L1833.16,373.93 L1835.15,373.68 L1837.15,373.43 L1839.15,373.18 L1841.14,372.93 L1843.14,372.67 L1845.14,372.42 L1847.13,372.17 L1849.13,371.91 L1851.13,371.66 L1853.12,371.40 L1855.12,371.15 L1857.12,370.89 L1859.11,370.64 L1861.11,370.38 L1863.10,370.13 L1865.10,369.87 L1867.10,369.62 L1869.09,369.36 L1871.09,369.11 L1873.09,368.86 L1875.08,368.60 L1877.08,368.35 L1879.08,368.10 L1881.07,367.85 L1883.07,367.60 L1885.07,367.35 L1887.07,367.10 L1889.06,366.85 L1891.06,366.60 L1893.06,366.36 L1895.05,366.11 L1897.05,365.87 L1899.05,365.63 L1901.05,365.39 L1903.05,365.15 L1905.04,364.91 L1907.04,364.67 L1909.04,364.44 L1911.04,364.21 L1913.04,363.97 L1915.04,363.75 L1917.04,363.52 L1919.04,363.29 L1921.04,363.07 L1923.03,362.85 L1925.03,362.63 L1927.03,362.41 L1929.04,362.20 L1931.04,361.99 L1933.04,361.78 L1935.04,361.57 L1937.04,361.37 L1939.04,361.17 L1941.04,360.97 L1943.04,360.77 L1945.05,360.58 L1947.05,360.39 L1949.05,360.20 L1951.05,360.02 L1953.06,359.84 L1955.06,359.66 L1957.06,359.49 L1959.07,359.32 L1961.07,359.15 L1963.08,358.99 L1965.08,358.83 L1967.09,358.67 L1969.09,358.52 L1971.10,358.37 L1973.10,358.23 L1975.11,358.09 L1977.12,357.95 L1979.13,357.82 L1981.13,357.69 L1983.14,357.57 L1985.15,357.45 L1987.16,357.33 L1989.17,357.22 L1991.18,357.11 L1993.19,357.01 L1995.20,356.92 L1997.21,356.82 L1999.22,356.74 L2001.23,356.65 L2003.24,356.57 L2005.26,356.50 L2007.27,356.43 L2009.28,356.37 L2011.29,356.31 L2013.31,356.26 L2015.32,356.21 L2017.34,356.17 L2019.35,356.14 L2021.37,356.11 L2023.39,356.08 L2025.40,356.06 L2027.42,356.05 L2029.44,356.04 L2031.46,356.04 L2033.48,356.05 L2035.50,356.06 L2037.52,356.07 L2039.54,356.09 L2041.56,356.12 L2043.58,356.16 L2045.60,356.20" fill="none" stroke="#377eb8" stroke-width="2.4" stroke-linejoin="round"/>
<path d="M1559.80,382.10 L1561.84,382.08 L1563.88,382.05 L1565.91,382.01 L1567.94,381.95 L1569.97,381.88 L1572.00,381.80 L1574.02,381.70 L1576.04,381.59 L1578.06,381.47 L1580.08,381.34 L1582.09,381.19 L1584.10,381.03 L1586.11,380.86 L1588.12,380.67 L1590.12,380.48 L1592.12,380.27 L1594.11,380.05 L1596.11,379.81 L1598.10,379.57 L1600.09,379.31 L1602.07,379.04 L1604.06,378.76 L1606.04,378.47 L1608.02,378.17 L1609.99,377.85 L1611.96,377.52 L1613.93,377.19 L1615.90,376.84 L1617.86,376.48 L1619.83,376.10 L1621.78,375.72 L1623.74,375.33 L1625.69,374.92 L1627.64,374.51 L1629.59,374.08 L1631.54,373.65 L1633.48,373.20 L1635.42,372.74 L1637.35,372.27 L1639.29,371.80 L1641.22,371.31 L1643.15,370.81 L1645.07,370.30 L1647.00,369.78 L1648.92,369.25 L1650.83,368.72 L1652.75,368.17 L1654.66,367.61 L1656.57,367.04 L1658.47,366.46 L1660.38,365.88 L1662.28,365.28 L1664.17,364.68 L1666.07,364.06 L1667.96,363.44 L1669.85,362.81 L1671.74,362.17 L1673.62,361.52 L1675.50,360.86 L1677.38,360.19 L1679.25,359.51 L1681.13,358.83 L1683.00,358.13 L1684.86,357.43 L1686.73,356.72 L1688.59,356.00 L1690.44,355.27 L1692.30,354.54 L1694.15,353.80 L1696.00,353.05 L1697.85,352.29 L1699.69,351.52 L1701.53,350.75 L1703.37,349.96 L1705.21,349.17 L1707.04,348.38 L1708.87,347.57 L1710.70,346.76 L1712.52,345.94 L1714.34,345.12 L1716.16,344.28 L1717.97,343.44 L1719.79,342.59 L1721.60,341.74 L1723.40,340.88 L1725.21,340.01 L1727.01,339.14 L1728.80,338.26 L1730.60,337.37 L1732.39,336.48 L1734.18,335.58 L1735.97,334.67 L1737.75,333.76 L1739.53,332.84 L1741.31,331.92 L1743.08,330.99 L1744.86,330.05 L1746.62,329.11 L1748.39,328.16 L1750.15,327.21 L1751.91,326.25 L1753.67,325.29 L1755.42,324.32 L1757.18,323.34 L1758.92,322.36 L1760.67,321.38 L1762.41,320.39 L1764.15,319.39 L1765.89,318.39 L1767.62,317.39 L1769.35,316.38 L1771.08,315.37 L1772.81,314.35 L1774.53,313.33 L1776.25,312.30 L1777.96,311.27 L1779.67,310.23 L1781.38,309.19 L1783.09,308.15 L1784.80,307.10 L1786.50,306.05 L1788.20,304.99 L1789.89,303.93 L1791.58,302.87 L1793.27,301.80 L1794.96,300.73 L1796.64,299.66 L1798.32,298.58 L1800.00,297.50 L1800.00,297.50 L1802.00,297.30 L1804.00,297.08 L1806.00,296.87 L1808.00,296.64 L1809.99,296.42 L1811.99,296.18 L1813.99,295.94 L1815.98,295.70 L1817.98,295.45 L1819.97,295.20 L1821.97,294.94 L1823.96,294.68 L1825.95,294.41 L1827.95,294.14 L1829.94,293.87 L1831.93,293.59 L1833.92,293.31 L1835.91,293.02 L1837.90,292.73 L1839.89,292.44 L1841.88,292.14 L1843.87,291.85 L1845.86,291.54 L1847.85,291.24 L1849.84,290.93 L1851.83,290.62 L1853.82,290.31 L1855.81,289.99 L1857.80,289.68 L1859.78,289.36 L1861.77,289.04 L1863.76,288.71 L1865.75,288.39 L1867.73,288.06 L1869.72,287.74 L1871.71,287.41 L1873.69,287.08 L1875.68,286.75 L1877.67,286.42 L1879.65,286.09 L1881.64,285.75 L1883.62,285.42 L1885.61,285.09 L1887.60,284.76 L1889.58,284.42 L1891.57,284.09 L1893.56,283.76 L1895.54,283.42 L1897.53,283.09 L1899.51,282.76 L1901.50,282.43 L1903.49,282.10 L1905.47,281.77 L1907.46,281.45 L1909.45,281.12 L1911.43,280.80 L1913.42,280.47 L1915.41,280.15 L1917.40,279.83 L1919.38,279.52 L1921.37,279.20 L1923.36,278.89 L1925.35,278.58 L1927.34,278.27 L1929.33,277.97 L1931.31,277.66 L1933.30,277.36 L1935.29,277.07 L1937.28,276.78 L1939.27,276.49 L1941.26,276.20 L1943.26,275.92 L1945.25,275.64 L1947.24,275.37 L1949.23,275.10 L1951.22,274.83 L1953.22,274.57 L1955.21,274.31 L1957.20,274.06 L1959.20,273.81 L1961.19,273.56 L1963.19,273.33 L1965.19,273.09 L1967.18,272.86 L1969.18,272.64 L1971.18,272.42 L1973.17,272.21 L1975.17,272.01 L1977.17,271.81 L1979.17,271.61 L1981.17,271.43 L1983.17,271.24 L1985.18,271.07 L1987.18,270.90 L1989.18,270.74 L1991.19,270.59 L1993.19,270.44 L1995.20,270.30 L1997.20,270.16 L1999.21,270.04 L2001.22,269.92 L2003.22,269.81 L2005.23,269.71 L2007.24,269.61 L2009.25,269.53 L2011.26,269.45 L2013.28,269.38 L2015.29,269.32 L2017.30,269.26 L2019.32,269.22 L2021.34,269.18 L2023.35,269.16 L2025.37,269.14 L2027.39,269.13 L2029.41,269.13 L2031.43,269.14 L2033.45,269.16 L2035.47,269.20 L2037.50,269.24 L2039.52,269.29 L2041.55,269.35 L2043.57,269.42 L2045.60,269.50" fill="none" stroke="#377eb8" stroke-width="2.4" stroke-linejoin="round" stroke-dasharray="8.4 4.1"/>
<path d="M1559.10,410.20 L1561.11,410.21 L1563.12,410.22 L1565.14,410.22 L1567.15,410.21 L1569.16,410.20 L1571.17,410.18 L1573.18,410.16 L1575.19,410.13 L1577.20,410.10 L1579.21,410.06 L1581.21,410.02 L1583.22,409.97 L1585.23,409.91 L1587.24,409.85 L1589.24,409.79 L1591.25,409.71 L1593.26,409.64 L1595.26,409.56 L1597.27,409.47 L1599.27,409.38 L1601.27,409.28 L1603.28,409.18 L1605.28,409.07 L1607.28,408.95 L1609.29,408.84 L1611.29,408.71 L1613.29,408.58 L1615.29,408.45 L1617.29,408.31 L1619.29,408.17 L1621.29,408.02 L1623.29,407.87 L1625.29,407.71 L1627.29,407.55 L1629.29,407.38 L1631.28,407.21 L1633.28,407.03 L1635.28,406.85 L1637.27,406.66 L1639.27,406.47 L1641.26,406.28 L1643.26,406.08 L1645.25,405.87 L1647.25,405.66 L1649.24,405.45 L1651.23,405.23 L1653.23,405.01 L1655.22,404.78 L1657.21,404.55 L1659.20,404.32 L1661.19,404.08 L1663.18,403.83 L1665.17,403.58 L1667.16,403.33 L1669.15,403.07 L1671.13,402.81 L1673.12,402.55 L1675.11,402.28 L1677.09,402.01 L1679.08,401.73 L1681.07,401.45 L1683.05,401.16 L1685.03,400.87 L1687.02,400.58 L1689.00,400.28 L1690.98,399.98 L1692.97,399.68 L1694.95,399.37 L1696.93,399.06 L1698.91,398.74 L1700.89,398.42 L1702.87,398.10 L1704.85,397.77 L1706.83,397.44 L1708.80,397.10 L1710.78,396.76 L1712.76,396.42 L1714.73,396.08 L1716.71,395.73 L1718.68,395.38 L1720.66,395.02 L1722.63,394.66 L1724.61,394.30 L1726.58,393.94 L1728.55,393.57 L1730.52,393.19 L1732.49,392.82 L1734.46,392.44 L1736.43,392.06 L1738.40,391.67 L1740.37,391.29 L1742.34,390.89 L1744.31,390.50 L1746.27,390.10 L1748.24,389.70 L1750.21,389.30 L1752.17,388.89 L1754.14,388.48 L1756.10,388.07 L1758.06,387.66 L1760.03,387.24 L1761.99,386.82 L1763.95,386.39 L1765.91,385.97 L1767.87,385.54 L1769.83,385.11 L1771.79,384.67 L1773.75,384.24 L1775.71,383.80 L1777.66,383.36 L1779.62,382.91 L1781.58,382.46 L1783.53,382.01 L1785.49,381.56 L1787.44,381.11 L1789.39,380.65 L1791.35,380.19 L1793.30,379.73 L1795.25,379.27 L1797.20,378.80 L1797.20,378.80 L1799.20,378.58 L1801.20,378.35 L1803.20,378.13 L1805.19,377.90 L1807.19,377.67 L1809.19,377.43 L1811.19,377.20 L1813.19,376.96 L1815.18,376.73 L1817.18,376.49 L1819.18,376.25 L1821.18,376.01 L1823.17,375.76 L1825.17,375.52 L1827.17,375.27 L1829.16,375.03 L1831.16,374.78 L1833.16,374.53 L1835.15,374.28 L1837.15,374.03 L1839.15,373.78 L1841.14,373.53 L1843.14,373.27 L1845.14,373.02 L1847.13,372.77 L1849.13,372.51 L1851.13,372.26 L1853.12,372.00 L1855.12,371.75 L1857.12,371.49 L1859.11,371.24 L1861.11,370.98 L1863.10,370.73 L1865.10,370.47 L1867.10,370.22 L1869.09,369.96 L1871.09,369.71 L1873.09,369.46 L1875.08,369.20 L1877.08,368.95 L1879.08,368.70 L1881.07,368.45 L1883.07,368.20 L1885.07,367.95 L1887.07,367.70 L1889.06,367.45 L1891.06,367.20 L1893.06,366.96 L1895.05,366.71 L1897.05,366.47 L1899.05,366.23 L1901.05,365.99 L1903.05,365.75 L1905.04,365.51 L1907.04,365.27 L1909.04,365.04 L1911.04,364.81 L1913.04,364.57 L1915.04,364.35 L1917.04,364.12 L1919.04,363.89 L1921.04,363.67 L1923.03,363.45 L1925.03,363.23 L1927.03,363.01 L1929.04,362.80 L1931.04,362.59 L1933.04,362.38 L1935.04,362.17 L1937.04,361.97 L1939.04,361.77 L1941.04,361.57 L1943.04,361.37 L1945.05,361.18 L1947.05,360.99 L1949.05,360.80 L1951.05,360.62 L1953.06,360.44 L1955.06,360.26 L1957.06,360.09 L1959.07,359.92 L1961.07,359.75 L1963.08,359.59 L1965.08,359.43 L1967.09,359.27 L1969.09,359.12 L1971.10,358.97 L1973.10,358.83 L1975.11,358.69 L1977.12,358.55 L1979.13,358.42 L1981.13,358.29 L1983.14,358.17 L1985.15,358.05 L1987.16,357.93 L1989.17,357.82 L1991.18,357.71 L1993.19,357.61 L1995.20,357.52 L1997.21,357.42 L1999.22,357.34 L2001.23,357.25 L2003.24,357.17 L2005.26,357.10 L2007.27,357.03 L2009.28,356.97 L2011.29,356.91 L2013.31,356.86 L2015.32,356.81 L2017.34,356.77 L2019.35,356.74 L2021.37,356.71 L2023.39,356.68 L2025.40,356.66 L2027.42,356.65 L2029.44,356.64 L2031.46,356.64 L2033.48,356.65 L2035.50,356.66 L2037.52,356.67 L2039.54,356.69 L2041.56,356.72 L2043.58,356.76 L2045.60,356.80" fill="none" stroke="#4daf4a" stroke-width="2.4" stroke-linejoin="round"/>
<path d="M1559.80,383.80 L1561.84,383.77 L1563.89,383.74 L1565.93,383.68 L1567.97,383.62 L1570.00,383.54 L1572.03,383.45 L1574.06,383.35 L1576.09,383.23 L1578.12,383.11 L1580.14,382.97 L1582.16,382.82 L1584.18,382.65 L1586.19,382.47 L1588.20,382.29 L1590.21,382.08 L1592.22,381.87 L1594.23,381.65 L1596.23,381.41 L1598.23,381.16 L1600.23,380.90 L1602.22,380.63 L1604.21,380.35 L1606.20,380.05 L1608.19,379.75 L1610.17,379.43 L1612.16,379.10 L1614.13,378.76 L1616.11,378.41 L1618.08,378.05 L1620.06,377.68 L1622.02,377.29 L1623.99,376.90 L1625.95,376.49 L1627.91,376.08 L1629.87,375.65 L1631.83,375.22 L1633.78,374.77 L1635.73,374.31 L1637.67,373.84 L1639.62,373.36 L1641.56,372.88 L1643.50,372.38 L1645.44,371.87 L1647.37,371.35 L1649.30,370.82 L1651.23,370.28 L1653.15,369.74 L1655.07,369.18 L1656.99,368.61 L1658.91,368.04 L1660.82,367.45 L1662.74,366.85 L1664.64,366.25 L1666.55,365.64 L1668.45,365.01 L1670.35,364.38 L1672.25,363.74 L1674.14,363.09 L1676.04,362.43 L1677.92,361.76 L1679.81,361.09 L1681.69,360.40 L1683.57,359.71 L1685.45,359.01 L1687.32,358.30 L1689.20,357.58 L1691.06,356.85 L1692.93,356.11 L1694.79,355.37 L1696.65,354.62 L1698.51,353.86 L1700.36,353.09 L1702.22,352.32 L1704.06,351.53 L1705.91,350.74 L1707.75,349.94 L1709.59,349.14 L1711.43,348.32 L1713.26,347.50 L1715.09,346.68 L1716.92,345.84 L1718.74,345.00 L1720.56,344.15 L1722.38,343.29 L1724.20,342.43 L1726.01,341.56 L1727.82,340.68 L1729.63,339.79 L1731.43,338.90 L1733.23,338.00 L1735.03,337.10 L1736.82,336.19 L1738.61,335.27 L1740.40,334.35 L1742.18,333.42 L1743.97,332.48 L1745.75,331.54 L1747.52,330.59 L1749.29,329.64 L1751.06,328.68 L1752.83,327.71 L1754.59,326.74 L1756.35,325.76 L1758.11,324.78 L1759.86,323.79 L1761.62,322.80 L1763.36,321.80 L1765.11,320.80 L1766.85,319.79 L1768.59,318.77 L1770.32,317.75 L1772.05,316.73 L1773.78,315.70 L1775.51,314.66 L1777.23,313.62 L1778.95,312.58 L1780.66,311.53 L1782.38,310.47 L1784.09,309.41 L1785.79,308.35 L1787.49,307.28 L1789.19,306.21 L1790.89,305.14 L1792.58,304.06 L1794.27,302.97 L1795.96,301.89 L1797.64,300.79 L1799.32,299.70 L1801.00,298.60 L1801.00,298.60 L1802.99,298.41 L1804.98,298.22 L1806.97,298.02 L1808.96,297.82 L1810.95,297.61 L1812.94,297.40 L1814.92,297.18 L1816.91,296.95 L1818.90,296.73 L1820.88,296.49 L1822.87,296.25 L1824.86,296.01 L1826.84,295.77 L1828.83,295.52 L1830.81,295.26 L1832.80,295.00 L1834.78,294.74 L1836.76,294.48 L1838.75,294.21 L1840.73,293.94 L1842.71,293.66 L1844.70,293.38 L1846.68,293.10 L1848.66,292.82 L1850.64,292.53 L1852.62,292.24 L1854.61,291.95 L1856.59,291.66 L1858.57,291.36 L1860.55,291.06 L1862.53,290.76 L1864.51,290.46 L1866.49,290.16 L1868.47,289.85 L1870.45,289.55 L1872.43,289.24 L1874.41,288.93 L1876.39,288.62 L1878.37,288.31 L1880.35,288.00 L1882.33,287.69 L1884.31,287.38 L1886.29,287.07 L1888.27,286.75 L1890.25,286.44 L1892.23,286.13 L1894.21,285.82 L1896.19,285.51 L1898.17,285.19 L1900.15,284.88 L1902.13,284.57 L1904.11,284.26 L1906.09,283.96 L1908.07,283.65 L1910.05,283.34 L1912.03,283.04 L1914.01,282.74 L1915.99,282.43 L1917.97,282.14 L1919.95,281.84 L1921.94,281.54 L1923.92,281.25 L1925.90,280.96 L1927.88,280.67 L1929.86,280.38 L1931.85,280.10 L1933.83,279.82 L1935.81,279.54 L1937.79,279.27 L1939.78,279.00 L1941.76,278.73 L1943.75,278.46 L1945.73,278.20 L1947.71,277.94 L1949.70,277.69 L1951.68,277.44 L1953.67,277.20 L1955.66,276.95 L1957.64,276.72 L1959.63,276.49 L1961.62,276.26 L1963.60,276.03 L1965.59,275.82 L1967.58,275.60 L1969.57,275.40 L1971.56,275.19 L1973.55,275.00 L1975.54,274.80 L1977.53,274.62 L1979.52,274.44 L1981.51,274.26 L1983.51,274.10 L1985.50,273.93 L1987.49,273.78 L1989.49,273.63 L1991.48,273.49 L1993.48,273.35 L1995.47,273.22 L1997.47,273.10 L1999.47,272.99 L2001.47,272.88 L2003.46,272.78 L2005.46,272.68 L2007.46,272.60 L2009.46,272.52 L2011.46,272.45 L2013.47,272.39 L2015.47,272.34 L2017.47,272.29 L2019.48,272.25 L2021.48,272.23 L2023.49,272.21 L2025.49,272.20 L2027.50,272.19 L2029.51,272.20 L2031.52,272.22 L2033.53,272.24 L2035.54,272.28 L2037.55,272.32 L2039.56,272.38 L2041.57,272.44 L2043.59,272.52 L2045.60,272.60" fill="none" stroke="#4daf4a" stroke-width="2.4" stroke-linejoin="round" stroke-dasharray="8.4 4.1"/>
<path d="M1559.10,409.90 L1561.11,409.91 L1563.12,409.92 L1565.14,409.92 L1567.15,409.91 L1569.16,409.90 L1571.17,409.88 L1573.18,409.86 L1575.19,409.83 L1577.20,409.80 L1579.21,409.76 L1581.21,409.72 L1583.22,409.67 L1585.23,409.61 L1587.24,409.55 L1589.24,409.49 L1591.25,409.41 L1593.26,409.34 L1595.26,409.26 L1597.27,409.17 L1599.27,409.08 L1601.27,408.98 L1603.28,408.88 L1605.28,408.77 L1607.28,408.65 L1609.29,408.54 L1611.29,408.41 L1613.29,408.28 L1615.29,408.15 L1617.29,408.01 L1619.29,407.87 L1621.29,407.72 L1623.29,407.57 L1625.29,407.41 L1627.29,407.25 L1629.29,407.08 L1631.28,406.91 L1633.28,406.73 L1635.28,406.55 L1637.27,406.36 L1639.27,406.17 L1641.26,405.98 L1643.26,405.78 L1645.25,405.57 L1647.25,405.36 L1649.24,405.15 L1651.23,404.93 L1653.23,404.71 L1655.22,404.48 L1657.21,404.25 L1659.20,404.02 L1661.19,403.78 L1663.18,403.53 L1665.17,403.28 L1667.16,403.03 L1669.15,402.77 L1671.13,402.51 L1673.12,402.25 L1675.11,401.98 L1677.09,401.71 L1679.08,401.43 L1681.07,401.15 L1683.05,400.86 L1685.03,400.57 L1687.02,400.28 L1689.00,399.98 L1690.98,399.68 L1692.97,399.38 L1694.95,399.07 L1696.93,398.76 L1698.91,398.44 L1700.89,398.12 L1702.87,397.80 L1704.85,397.47 L1706.83,397.14 L1708.80,396.80 L1710.78,396.46 L1712.76,396.12 L1714.73,395.78 L1716.71,395.43 L1718.68,395.08 L1720.66,394.72 L1722.63,394.36 L1724.61,394.00 L1726.58,393.64 L1728.55,393.27 L1730.52,392.89 L1732.49,392.52 L1734.46,392.14 L1736.43,391.76 L1738.40,391.37 L1740.37,390.99 L1742.34,390.59 L1744.31,390.20 L1746.27,389.80 L1748.24,389.40 L1750.21,389.00 L1752.17,388.59 L1754.14,388.18 L1756.10,387.77 L1758.06,387.36 L1760.03,386.94 L1761.99,386.52 L1763.95,386.09 L1765.91,385.67 L1767.87,385.24 L1769.83,384.81 L1771.79,384.37 L1773.75,383.94 L1775.71,383.50 L1777.66,383.06 L1779.62,382.61 L1781.58,382.16 L1783.53,381.71 L1785.49,381.26 L1787.44,380.81 L1789.39,380.35 L1791.35,379.89 L1793.30,379.43 L1795.25,378.97 L1797.20,378.50 L1797.20,378.50 L1799.20,378.28 L1801.20,378.05 L1803.20,377.83 L1805.19,377.60 L1807.19,377.37 L1809.19,377.13 L1811.19,376.90 L1813.19,376.66 L1815.18,376.43 L1817.18,376.19 L1819.18,375.95 L1821.18,375.71 L1823.17,375.46 L1825.17,375.22 L1827.17,374.97 L1829.16,374.73 L1831.16,374.48 L1833.16,374.23 L1835.15,373.98 L1837.15,373.73 L1839.15,373.48 L1841.14,373.23 L1843.14,372.97 L1845.14,372.72 L1847.13,372.47 L1849.13,372.21 L1851.13,371.96 L1853.12,371.70 L1855.12,371.45 L1857.12,371.19 L1859.11,370.94 L1861.11,370.68 L1863.10,370.43 L1865.10,370.17 L1867.10,369.92 L1869.09,369.66 L1871.09,369.41 L1873.09,369.16 L1875.08,368.90 L1877.08,368.65 L1879.08,368.40 L1881.07,368.15 L1883.07,367.90 L1885.07,367.65 L1887.07,367.40 L1889.06,367.15 L1891.06,366.90 L1893.06,366.66 L1895.05,366.41 L1897.05,366.17 L1899.05,365.93 L1901.05,365.69 L1903.05,365.45 L1905.04,365.21 L1907.04,364.97 L1909.04,364.74 L1911.04,364.51 L1913.04,364.27 L1915.04,364.05 L1917.04,363.82 L1919.04,363.59 L1921.04,363.37 L1923.03,363.15 L1925.03,362.93 L1927.03,362.71 L1929.04,362.50 L1931.04,362.29 L1933.04,362.08 L1935.04,361.87 L1937.04,361.67 L1939.04,361.47 L1941.04,361.27 L1943.04,361.07 L1945.05,360.88 L1947.05,360.69 L1949.05,360.50 L1951.05,360.32 L1953.06,360.14 L1955.06,359.96 L1957.06,359.79 L1959.07,359.62 L1961.07,359.45 L1963.08,359.29 L1965.08,359.13 L1967.09,358.97 L1969.09,358.82 L1971.10,358.67 L1973.10,358.53 L1975.11,358.39 L1977.12,358.25 L1979.13,358.12 L1981.13,357.99 L1983.14,357.87 L1985.15,357.75 L1987.16,357.63 L1989.17,357.52 L1991.18,357.41 L1993.19,357.31 L1995.20,357.22 L1997.21,357.12 L1999.22,357.04 L2001.23,356.95 L2003.24,356.87 L2005.26,356.80 L2007.27,356.73 L2009.28,356.67 L2011.29,356.61 L2013.31,356.56 L2015.32,356.51 L2017.34,356.47 L2019.35,356.44 L2021.37,356.41 L2023.39,356.38 L2025.40,356.36 L2027.42,356.35 L2029.44,356.34 L2031.46,356.34 L2033.48,356.35 L2035.50,356.36 L2037.52,356.37 L2039.54,356.39 L2041.56,356.42 L2043.58,356.46 L2045.60,356.50" fill="none" stroke="#984ea3" stroke-width="2.4" stroke-linejoin="round"/>
<path d="M1559.81,496.11 L1561.66,495.30 L1563.51,494.47 L1565.34,493.62 L1567.17,492.76 L1568.97,491.88 L1570.77,490.99 L1572.55,490.07 L1574.32,489.14 L1576.07,488.20 L1577.82,487.24 L1579.55,486.26 L1581.27,485.27 L1582.97,484.26 L1584.67,483.23 L1586.35,482.19 L1588.02,481.14 L1589.68,480.07 L1591.33,478.98 L1592.96,477.88 L1594.59,476.77 L1596.20,475.64 L1597.80,474.50 L1599.39,473.34 L1600.97,472.17 L1602.53,470.98 L1604.09,469.78 L1605.63,468.57 L1607.17,467.35 L1608.69,466.11 L1610.21,464.86 L1611.71,463.59 L1613.20,462.32 L1614.68,461.03 L1616.16,459.73 L1617.62,458.41 L1619.07,457.09 L1620.51,455.75 L1621.94,454.40 L1623.36,453.04 L1624.78,451.67 L1626.18,450.29 L1627.57,448.89 L1628.96,447.49 L1630.33,446.07 L1631.70,444.64 L1633.06,443.21 L1634.40,441.76 L1635.74,440.30 L1637.07,438.83 L1638.39,437.36 L1639.71,435.87 L1641.01,434.37 L1642.31,432.87 L1643.60,431.35 L1644.87,429.83 L1646.15,428.30 L1647.41,426.76 L1648.66,425.21 L1649.91,423.65 L1651.15,422.08 L1652.39,420.51 L1653.61,418.93 L1654.83,417.34 L1656.04,415.74 L1657.24,414.14 L1658.44,412.52 L1659.62,410.90 L1660.81,409.28 L1661.98,407.65 L1663.15,406.01 L1664.31,404.36 L1665.47,402.71 L1666.61,401.05 L1667.76,399.39 L1668.89,397.72 L1670.02,396.04 L1671.15,394.36 L1672.26,392.67 L1673.38,390.98 L1674.48,389.29 L1675.58,387.58 L1676.68,385.88 L1677.77,384.17 L1678.85,382.45 L1679.93,380.73 L1681.00,379.01 L1682.07,377.28 L1683.13,375.55 L1684.19,373.82 L1685.24,372.08 L1686.29,370.34 L1687.34,368.59 L1688.38,366.85 L1689.41,365.10 L1690.44,363.34 L1691.47,361.59 L1692.49,359.83 L1693.51,358.07 L1694.52,356.31 L1695.53,354.55 L1696.54,352.78 L1697.54,351.02 L1698.54,349.25 L1699.54,347.48 L1700.53,345.71 L1701.52,343.94 L1702.51,342.17 L1703.49,340.39 L1704.47,338.62 L1705.45,336.85 L1706.42,335.08 L1707.39,333.30 L1708.36,331.53 L1709.33,329.76 L1710.29,327.98 L1711.26,326.21 L1712.21,324.44 L1713.17,322.67 L1714.12,320.90 L1715.07,319.12 L1716.02,317.35 L1716.97,315.58 L1717.91,313.81 L1718.85,312.03 L1719.79,310.26 L1720.73,308.49 L1721.66,306.72 L1722.59,304.94 L1723.52,303.17 L1724.45,301.40 L1725.37,299.62 L1726.30,297.85 L1727.22,296.08 L1728.13,294.30 L1729.05,292.53 L1729.96,290.75 L1730.87,288.98 L1731.78,287.20 L1732.69,285.43 L1733.59,283.65 L1734.50,281.88 L1735.40,280.10 L1736.30,278.32 L1737.19,276.54 L1738.09,274.77 L1738.98,272.99 L1739.87,271.21 L1740.76,269.43 L1741.64,267.65 L1742.53,265.87 L1743.41,264.09 L1744.29,262.30 L1745.17,260.52 L1746.04,258.74 L1746.92,256.95 L1747.79,255.17 L1748.66,253.38 L1749.53,251.60 L1750.40,249.81 L1751.27,248.02 L1752.13,246.24 L1752.99,244.45 L1753.85,242.66 L1754.71,240.87 L1755.57,239.07 L1756.42,237.28 L1757.28,235.49 L1758.13,233.69 L1758.98,231.90 L1759.83,230.10 L1760.68,228.31 L1761.52,226.51 L1762.37,224.71 L1763.21,222.91 L1764.05,221.11 L1764.89,219.30 L1765.73,217.50 L1766.57,215.70 L1767.40,213.89 L1768.24,212.09 L1769.07,210.28 L1769.90,208.47 L1770.73,206.66 L1771.56,204.85 L1772.39,203.03 L1773.22,201.22 L1774.04,199.41 L1774.87,197.59 L1775.69,195.77 L1776.51,193.95 L1777.33,192.13 L1778.15,190.31 L1778.97,188.49 L1779.78,186.66 L1780.60,184.84 L1781.42,183.01 L1782.23,181.18 L1783.04,179.35 L1783.85,177.52 L1784.66,175.68 L1785.47,173.85 L1786.28,172.01 L1787.09,170.17 L1787.90,168.33 L1788.70,166.49 L1789.51,164.65 L1790.31,162.81 L1791.11,160.96 L1791.92,159.11 L1792.72,157.26 L1793.52,155.41 L1794.32,153.56 L1795.12,151.70 L1795.92,149.85 L1796.71,147.99 L1797.51,146.13 L1798.31,144.26 L1799.10,142.40 L1799.10,142.40 L1801.09,142.12 L1803.08,141.83 L1805.06,141.54 L1807.05,141.24 L1809.04,140.95 L1811.03,140.65 L1813.02,140.35 L1815.00,140.05 L1816.99,139.74 L1818.98,139.44 L1820.96,139.13 L1822.95,138.82 L1824.94,138.51 L1826.92,138.20 L1828.91,137.88 L1830.90,137.57 L1832.88,137.25 L1834.87,136.93 L1836.86,136.61 L1838.84,136.29 L1840.83,135.97 L1842.82,135.65 L1844.80,135.33 L1846.79,135.01 L1848.77,134.68 L1850.76,134.36 L1852.75,134.04 L1854.73,133.71 L1856.72,133.39 L1858.71,133.06 L1860.69,132.73 L1862.68,132.41 L1864.66,132.08 L1866.65,131.76 L1868.64,131.43 L1870.62,131.11 L1872.61,130.79 L1874.60,130.46 L1876.58,130.14 L1878.57,129.82 L1880.56,129.49 L1882.55,129.17 L1884.53,128.85 L1886.52,128.53 L1888.51,128.22 L1890.50,127.90 L1892.48,127.58 L1894.47,127.27 L1896.46,126.96 L1898.45,126.64 L1900.44,126.33 L1902.43,126.03 L1904.42,125.72 L1906.41,125.41 L1908.40,125.11 L1910.39,124.81 L1912.38,124.51 L1914.37,124.22 L1916.36,123.92 L1918.35,123.63 L1920.34,123.34 L1922.33,123.05 L1924.32,122.77 L1926.31,122.49 L1928.30,122.21 L1930.30,121.93 L1932.29,121.66 L1934.28,121.38 L1936.28,121.12 L1938.27,120.85 L1940.26,120.59 L1942.26,120.33 L1944.25,120.08 L1946.25,119.83 L1948.24,119.58 L1950.24,119.34 L1952.24,119.10 L1954.23,118.86 L1956.23,118.63 L1958.23,118.40 L1960.22,118.17 L1962.22,117.95 L1964.22,117.74 L1966.22,117.53 L1968.22,117.32 L1970.22,117.12 L1972.22,116.92 L1974.22,116.72 L1976.22,116.53 L1978.22,116.35 L1980.23,116.17 L1982.23,116.00 L1984.23,115.83 L1986.24,115.66 L1988.24,115.50 L1990.25,115.35 L1992.25,115.20 L1994.26,115.06 L1996.26,114.92 L1998.27,114.79 L2000.28,114.66 L2002.29,114.54 L2004.29,114.43 L2006.30,114.32 L2008.31,114.22 L2010.32,114.12 L2012.34,114.03 L2014.35,113.95 L2016.36,113.87 L2018.37,113.80 L2020.39,113.73 L2022.40,113.68 L2024.41,113.62 L2026.43,113.58 L2028.45,113.54 L2030.46,113.51 L2032.48,113.49 L2034.50,113.47 L2036.52,113.46 L2038.54,113.46 L2040.56,113.47 L2042.58,113.48 L2044.60,113.50" fill="none" stroke="#984ea3" stroke-width="2.4" stroke-linejoin="round" stroke-dasharray="8.4 4.1"/>
<path d="M883.40,841.00 L885.37,841.35 L887.33,841.72 L889.28,842.11 L891.23,842.52 L893.17,842.95 L895.11,843.40 L897.04,843.87 L898.97,844.36 L900.90,844.87 L902.82,845.39 L904.73,845.93 L906.64,846.49 L908.55,847.06 L910.45,847.65 L912.34,848.25 L914.24,848.87 L916.12,849.51 L918.01,850.16 L919.89,850.83 L921.76,851.50 L923.64,852.20 L925.51,852.90 L927.37,853.62 L929.23,854.35 L931.09,855.10 L932.95,855.85 L934.80,856.62 L936.65,857.40 L938.49,858.19 L940.33,858.98 L942.17,859.79 L944.01,860.61 L945.84,861.44 L947.67,862.28 L949.50,863.12 L951.33,863.98 L953.15,864.84 L954.97,865.71 L956.79,866.59 L958.61,867.47 L960.42,868.36 L962.24,869.26 L964.05,870.16 L965.86,871.07 L967.66,871.98 L969.47,872.90 L971.27,873.82 L973.07,874.74 L974.88,875.67 L976.68,876.61 L978.47,877.54 L980.27,878.48 L982.07,879.42 L983.86,880.36 L985.66,881.30 L987.45,882.25 L989.24,883.19 L991.04,884.14 L992.83,885.08 L994.62,886.03 L996.41,886.97 L998.20,887.92 L999.99,888.86 L1001.78,889.80 L1003.57,890.74 L1005.36,891.67 L1007.15,892.61 L1008.95,893.54 L1010.74,894.46 L1012.53,895.38 L1014.32,896.30 L1016.11,897.21 L1017.91,898.12 L1019.70,899.03 L1021.49,899.93 L1023.29,900.82 L1025.09,901.71 L1026.89,902.59 L1028.68,903.47 L1030.48,904.34 L1032.29,905.21 L1034.09,906.08 L1035.89,906.93 L1037.70,907.79 L1039.51,908.64 L1041.32,909.48 L1043.13,910.31 L1044.94,911.15 L1046.76,911.97 L1048.58,912.79 L1050.40,913.61 L1052.22,914.42 L1054.04,915.22 L1055.87,916.02 L1057.70,916.81 L1059.53,917.60 L1061.37,918.38 L1063.20,919.16 L1065.04,919.93 L1066.89,920.69 L1068.73,921.45 L1070.58,922.20 L1072.44,922.95 L1074.29,923.69 L1076.15,924.42 L1078.02,925.15 L1079.88,925.87 L1081.75,926.59 L1083.63,927.30 L1085.51,928.00 L1087.39,928.70 L1089.27,929.39 L1091.16,930.07 L1093.06,930.75 L1094.96,931.42 L1096.86,932.09 L1098.77,932.75 L1100.68,933.40 L1102.59,934.04 L1104.52,934.68 L1106.44,935.31 L1108.37,935.94 L1110.31,936.56 L1112.25,937.17 L1114.19,937.78 L1116.14,938.37 L1118.10,938.97 L1120.06,939.55 L1122.03,940.13 L1124.00,940.70 L1124.00,940.70 L1125.98,941.01 L1127.96,941.31 L1129.93,941.62 L1131.91,941.92 L1133.89,942.23 L1135.87,942.53 L1137.85,942.83 L1139.83,943.12 L1141.81,943.42 L1143.79,943.71 L1145.77,944.00 L1147.75,944.30 L1149.73,944.58 L1151.71,944.87 L1153.69,945.16 L1155.67,945.44 L1157.65,945.72 L1159.63,946.00 L1161.62,946.28 L1163.60,946.56 L1165.58,946.83 L1167.56,947.10 L1169.55,947.38 L1171.53,947.65 L1173.51,947.91 L1175.50,948.18 L1177.48,948.44 L1179.46,948.70 L1181.45,948.96 L1183.43,949.22 L1185.42,949.48 L1187.40,949.73 L1189.38,949.98 L1191.37,950.23 L1193.35,950.48 L1195.34,950.72 L1197.33,950.97 L1199.31,951.21 L1201.30,951.45 L1203.28,951.69 L1205.27,951.92 L1207.26,952.15 L1209.25,952.38 L1211.23,952.61 L1213.22,952.84 L1215.21,953.06 L1217.20,953.29 L1219.18,953.51 L1221.17,953.72 L1223.16,953.94 L1225.15,954.15 L1227.14,954.36 L1229.13,954.57 L1231.12,954.78 L1233.11,954.98 L1235.10,955.18 L1237.09,955.38 L1239.08,955.58 L1241.07,955.77 L1243.06,955.97 L1245.05,956.16 L1247.04,956.34 L1249.03,956.53 L1251.02,956.71 L1253.01,956.89 L1255.01,957.07 L1257.00,957.24 L1258.99,957.41 L1260.98,957.58 L1262.98,957.75 L1264.97,957.92 L1266.96,958.08 L1268.96,958.24 L1270.95,958.40 L1272.94,958.55 L1274.94,958.70 L1276.93,958.85 L1278.93,959.00 L1280.92,959.14 L1282.92,959.28 L1284.91,959.42 L1286.91,959.56 L1288.90,959.69 L1290.90,959.82 L1292.89,959.95 L1294.89,960.07 L1296.89,960.19 L1298.88,960.31 L1300.88,960.43 L1302.88,960.54 L1304.88,960.65 L1306.87,960.76 L1308.87,960.86 L1310.87,960.97 L1312.87,961.06 L1314.86,961.16 L1316.86,961.25 L1318.86,961.34 L1320.86,961.43 L1322.86,961.51 L1324.86,961.60 L1326.86,961.67 L1328.86,961.75 L1330.86,961.82 L1332.86,961.89 L1334.86,961.96 L1336.86,962.02 L1338.86,962.08 L1340.86,962.14 L1342.86,962.19 L1344.86,962.24 L1346.87,962.29 L1348.87,962.33 L1350.87,962.37 L1352.87,962.41 L1354.87,962.44 L1356.88,962.47 L1358.88,962.50 L1360.88,962.53 L1362.89,962.55 L1364.89,962.57 L1366.89,962.58 L1368.90,962.59 L1370.90,962.60" fill="none" stroke="#e41a1c" stroke-width="2.4" stroke-linejoin="round"/>
<path d="M884.80,724.00 L886.75,724.03 L888.70,724.07 L890.67,724.12 L892.64,724.17 L894.61,724.23 L896.60,724.30 L898.58,724.37 L900.58,724.46 L902.58,724.55 L904.58,724.65 L906.59,724.76 L908.61,724.88 L910.63,725.01 L912.65,725.15 L914.67,725.30 L916.70,725.46 L918.73,725.62 L920.76,725.80 L922.80,725.99 L924.83,726.19 L926.87,726.40 L928.91,726.62 L930.95,726.86 L932.98,727.10 L935.02,727.36 L937.06,727.63 L939.10,727.91 L941.13,728.20 L943.17,728.51 L945.20,728.82 L947.23,729.16 L949.26,729.50 L951.28,729.86 L953.30,730.23 L955.32,730.62 L957.33,731.02 L959.34,731.44 L961.35,731.86 L963.35,732.31 L965.34,732.77 L967.33,733.24 L969.31,733.73 L971.29,734.24 L973.26,734.76 L975.22,735.30 L977.18,735.85 L979.13,736.42 L981.06,737.01 L983.00,737.61 L984.92,738.23 L986.83,738.87 L988.74,739.53 L990.63,740.20 L992.51,740.89 L994.39,741.60 L996.25,742.33 L998.10,743.07 L999.94,743.84 L1001.77,744.62 L1003.59,745.43 L1005.39,746.25 L1007.18,747.09 L1008.96,747.95 L1010.72,748.84 L1012.48,749.74 L1014.21,750.66 L1015.93,751.60 L1017.64,752.57 L1019.33,753.55 L1021.01,754.56 L1022.67,755.59 L1024.31,756.64 L1025.94,757.71 L1027.55,758.81 L1029.14,759.92 L1030.72,761.06 L1032.27,762.23 L1033.81,763.41 L1035.33,764.62 L1036.83,765.85 L1038.32,767.10 L1039.78,768.38 L1041.22,769.68 L1042.64,771.00 L1044.04,772.35 L1045.42,773.71 L1046.78,775.10 L1048.12,776.51 L1049.43,777.94 L1050.72,779.39 L1051.99,780.86 L1053.24,782.35 L1054.46,783.86 L1055.66,785.39 L1056.84,786.94 L1057.99,788.51 L1059.11,790.09 L1060.21,791.70 L1061.29,793.32 L1062.34,794.97 L1063.36,796.63 L1064.36,798.31 L1065.33,800.00 L1066.27,801.72 L1067.18,803.45 L1068.07,805.20 L1068.93,806.96 L1069.77,808.74 L1070.58,810.53 L1071.37,812.34 L1072.13,814.16 L1072.88,816.00 L1073.60,817.84 L1074.30,819.70 L1074.99,821.57 L1075.66,823.45 L1076.31,825.35 L1076.94,827.25 L1077.56,829.16 L1078.17,831.08 L1078.76,833.00 L1079.35,834.94 L1079.92,836.88 L1080.48,838.83 L1081.03,840.78 L1081.58,842.74 L1082.11,844.70 L1082.64,846.67 L1083.17,848.64 L1083.69,850.61 L1084.21,852.59 L1084.73,854.57 L1085.25,856.54 L1085.76,858.52 L1086.28,860.50 L1086.80,862.48 L1087.32,864.46 L1087.84,866.43 L1088.37,868.40 L1088.91,870.37 L1089.45,872.34 L1090.00,874.30 L1090.55,876.26 L1091.12,878.21 L1091.70,880.16 L1092.29,882.10 L1092.89,884.03 L1093.51,885.96 L1094.13,887.88 L1094.78,889.78 L1095.44,891.68 L1096.12,893.57 L1096.82,895.45 L1097.53,897.32 L1098.27,899.18 L1099.02,901.02 L1099.80,902.86 L1100.60,904.68 L1101.43,906.48 L1102.28,908.27 L1103.16,910.05 L1104.06,911.81 L1105.00,913.55 L1105.96,915.28 L1106.95,916.99 L1107.97,918.68 L1109.02,920.36 L1110.11,922.01 L1111.23,923.65 L1112.38,925.26 L1113.57,926.86 L1114.80,928.43 L1116.07,929.98 L1117.37,931.51 L1118.71,933.02 L1120.10,934.50 L1121.52,935.96 L1122.99,937.39 L1124.50,938.80 L1124.50,938.80 L1126.49,939.07 L1128.49,939.34 L1130.48,939.62 L1132.48,939.89 L1134.47,940.17 L1136.46,940.45 L1138.46,940.73 L1140.45,941.02 L1142.44,941.30 L1144.44,941.59 L1146.43,941.87 L1148.42,942.16 L1150.42,942.45 L1152.41,942.74 L1154.40,943.03 L1156.40,943.32 L1158.39,943.61 L1160.38,943.90 L1162.38,944.20 L1164.37,944.49 L1166.36,944.78 L1168.36,945.08 L1170.35,945.37 L1172.34,945.66 L1174.34,945.96 L1176.33,946.25 L1178.33,946.55 L1180.32,946.84 L1182.31,947.13 L1184.31,947.43 L1186.30,947.72 L1188.30,948.01 L1190.29,948.30 L1192.28,948.60 L1194.28,948.89 L1196.27,949.18 L1198.27,949.46 L1200.26,949.75 L1202.26,950.04 L1204.25,950.32 L1206.25,950.61 L1208.24,950.89 L1210.24,951.17 L1212.23,951.45 L1214.23,951.73 L1216.23,952.01 L1218.22,952.28 L1220.22,952.56 L1222.22,952.83 L1224.21,953.10 L1226.21,953.37 L1228.21,953.63 L1230.20,953.90 L1232.20,954.16 L1234.20,954.42 L1236.20,954.68 L1238.20,954.93 L1240.19,955.18 L1242.19,955.43 L1244.19,955.68 L1246.19,955.92 L1248.19,956.16 L1250.19,956.40 L1252.19,956.64 L1254.19,956.87 L1256.19,957.10 L1258.19,957.32 L1260.20,957.55 L1262.20,957.76 L1264.20,957.98 L1266.20,958.19 L1268.20,958.40 L1270.21,958.61 L1272.21,958.81 L1274.21,959.00 L1276.22,959.20 L1278.22,959.39 L1280.23,959.57 L1282.23,959.75 L1284.24,959.93 L1286.24,960.10 L1288.25,960.27 L1290.26,960.43 L1292.26,960.59 L1294.27,960.74 L1296.28,960.89 L1298.29,961.04 L1300.29,961.18 L1302.30,961.31 L1304.31,961.44 L1306.32,961.57 L1308.33,961.69 L1310.34,961.80 L1312.35,961.91 L1314.37,962.01 L1316.38,962.11 L1318.39,962.21 L1320.40,962.29 L1322.42,962.37 L1324.43,962.45 L1326.45,962.52 L1328.46,962.58 L1330.48,962.64 L1332.49,962.69 L1334.51,962.74 L1336.53,962.77 L1338.54,962.81 L1340.56,962.83 L1342.58,962.85 L1344.60,962.87 L1346.62,962.87 L1348.64,962.87 L1350.66,962.86 L1352.68,962.85 L1354.70,962.83 L1356.73,962.80 L1358.75,962.77 L1360.77,962.72 L1362.80,962.67 L1364.82,962.62 L1366.85,962.55 L1368.87,962.48 L1370.90,962.40" fill="none" stroke="#e41a1c" stroke-width="2.4" stroke-linejoin="round" stroke-dasharray="8.4 4.1"/>
<path d="M883.40,841.40 L885.37,841.75 L887.33,842.12 L889.28,842.51 L891.23,842.92 L893.17,843.35 L895.11,843.80 L897.04,844.27 L898.97,844.76 L900.90,845.27 L902.82,845.79 L904.73,846.33 L906.64,846.89 L908.55,847.46 L910.45,848.05 L912.34,848.65 L914.24,849.27 L916.12,849.91 L918.01,850.56 L919.89,851.23 L921.76,851.90 L923.64,852.60 L925.51,853.30 L927.37,854.02 L929.23,854.75 L931.09,855.50 L932.95,856.25 L934.80,857.02 L936.65,857.80 L938.49,858.59 L940.33,859.38 L942.17,860.19 L944.01,861.01 L945.84,861.84 L947.67,862.68 L949.50,863.52 L951.33,864.38 L953.15,865.24 L954.97,866.11 L956.79,866.99 L958.61,867.87 L960.42,868.76 L962.24,869.66 L964.05,870.56 L965.86,871.47 L967.66,872.38 L969.47,873.30 L971.27,874.22 L973.07,875.14 L974.88,876.07 L976.68,877.01 L978.47,877.94 L980.27,878.88 L982.07,879.82 L983.86,880.76 L985.66,881.70 L987.45,882.65 L989.24,883.59 L991.04,884.54 L992.83,885.48 L994.62,886.43 L996.41,887.37 L998.20,888.32 L999.99,889.26 L1001.78,890.20 L1003.57,891.14 L1005.36,892.07 L1007.15,893.01 L1008.95,893.94 L1010.74,894.86 L1012.53,895.78 L1014.32,896.70 L1016.11,897.61 L1017.91,898.52 L1019.70,899.43 L1021.49,900.33 L1023.29,901.22 L1025.09,902.11 L1026.89,902.99 L1028.68,903.87 L1030.48,904.74 L1032.29,905.61 L1034.09,906.48 L1035.89,907.33 L1037.70,908.19 L1039.51,909.04 L1041.32,909.88 L1043.13,910.71 L1044.94,911.55 L1046.76,912.37 L1048.58,913.19 L1050.40,914.01 L1052.22,914.82 L1054.04,915.62 L1055.87,916.42 L1057.70,917.21 L1059.53,918.00 L1061.37,918.78 L1063.20,919.56 L1065.04,920.33 L1066.89,921.09 L1068.73,921.85 L1070.58,922.60 L1072.44,923.35 L1074.29,924.09 L1076.15,924.82 L1078.02,925.55 L1079.88,926.27 L1081.75,926.99 L1083.63,927.70 L1085.51,928.40 L1087.39,929.10 L1089.27,929.79 L1091.16,930.47 L1093.06,931.15 L1094.96,931.82 L1096.86,932.49 L1098.77,933.15 L1100.68,933.80 L1102.59,934.44 L1104.52,935.08 L1106.44,935.71 L1108.37,936.34 L1110.31,936.96 L1112.25,937.57 L1114.19,938.18 L1116.14,938.77 L1118.10,939.37 L1120.06,939.95 L1122.03,940.53 L1124.00,941.10 L1124.00,941.10 L1125.98,941.41 L1127.96,941.71 L1129.93,942.02 L1131.91,942.32 L1133.89,942.63 L1135.87,942.93 L1137.85,943.23 L1139.83,943.52 L1141.81,943.82 L1143.79,944.11 L1145.77,944.40 L1147.75,944.70 L1149.73,944.98 L1151.71,945.27 L1153.69,945.56 L1155.67,945.84 L1157.65,946.12 L1159.63,946.40 L1161.62,946.68 L1163.60,946.96 L1165.58,947.23 L1167.56,947.50 L1169.55,947.78 L1171.53,948.05 L1173.51,948.31 L1175.50,948.58 L1177.48,948.84 L1179.46,949.10 L1181.45,949.36 L1183.43,949.62 L1185.42,949.88 L1187.40,950.13 L1189.38,950.38 L1191.37,950.63 L1193.35,950.88 L1195.34,951.12 L1197.33,951.37 L1199.31,951.61 L1201.30,951.85 L1203.28,952.09 L1205.27,952.32 L1207.26,952.55 L1209.25,952.78 L1211.23,953.01 L1213.22,953.24 L1215.21,953.46 L1217.20,953.69 L1219.18,953.91 L1221.17,954.12 L1223.16,954.34 L1225.15,954.55 L1227.14,954.76 L1229.13,954.97 L1231.12,955.18 L1233.11,955.38 L1235.10,955.58 L1237.09,955.78 L1239.08,955.98 L1241.07,956.17 L1243.06,956.37 L1245.05,956.56 L1247.04,956.74 L1249.03,956.93 L1251.02,957.11 L1253.01,957.29 L1255.01,957.47 L1257.00,957.64 L1258.99,957.81 L1260.98,957.98 L1262.98,958.15 L1264.97,958.32 L1266.96,958.48 L1268.96,958.64 L1270.95,958.80 L1272.94,958.95 L1274.94,959.10 L1276.93,959.25 L1278.93,959.40 L1280.92,959.54 L1282.92,959.68 L1284.91,959.82 L1286.91,959.96 L1288.90,960.09 L1290.90,960.22 L1292.89,960.35 L1294.89,960.47 L1296.89,960.59 L1298.88,960.71 L1300.88,960.83 L1302.88,960.94 L1304.88,961.05 L1306.87,961.16 L1308.87,961.26 L1310.87,961.37 L1312.87,961.46 L1314.86,961.56 L1316.86,961.65 L1318.86,961.74 L1320.86,961.83 L1322.86,961.91 L1324.86,962.00 L1326.86,962.07 L1328.86,962.15 L1330.86,962.22 L1332.86,962.29 L1334.86,962.36 L1336.86,962.42 L1338.86,962.48 L1340.86,962.54 L1342.86,962.59 L1344.86,962.64 L1346.87,962.69 L1348.87,962.73 L1350.87,962.77 L1352.87,962.81 L1354.87,962.84 L1356.88,962.87 L1358.88,962.90 L1360.88,962.93 L1362.89,962.95 L1364.89,962.97 L1366.89,962.98 L1368.90,962.99 L1370.90,963.00" fill="none" stroke="#377eb8" stroke-width="2.4" stroke-linejoin="round"/>
<path d="M884.80,725.40 L886.74,725.44 L888.69,725.48 L890.65,725.53 L892.61,725.58 L894.58,725.64 L896.56,725.71 L898.55,725.79 L900.54,725.87 L902.54,725.97 L904.54,726.07 L906.55,726.18 L908.56,726.30 L910.58,726.42 L912.60,726.56 L914.63,726.71 L916.66,726.86 L918.69,727.03 L920.72,727.21 L922.76,727.39 L924.80,727.59 L926.84,727.80 L928.88,728.01 L930.92,728.24 L932.97,728.49 L935.01,728.74 L937.05,729.00 L939.09,729.28 L941.13,729.57 L943.17,729.87 L945.21,730.18 L947.25,730.51 L949.28,730.85 L951.32,731.21 L953.34,731.57 L955.37,731.95 L957.39,732.35 L959.41,732.76 L961.42,733.18 L963.43,733.62 L965.43,734.08 L967.43,734.55 L969.42,735.03 L971.41,735.53 L973.39,736.04 L975.36,736.58 L977.32,737.12 L979.28,737.69 L981.23,738.27 L983.17,738.87 L985.10,739.48 L987.02,740.12 L988.94,740.77 L990.84,741.43 L992.74,742.12 L994.62,742.82 L996.49,743.55 L998.35,744.29 L1000.20,745.05 L1002.04,745.83 L1003.87,746.62 L1005.68,747.44 L1007.48,748.28 L1009.27,749.14 L1011.04,750.02 L1012.80,750.92 L1014.54,751.83 L1016.27,752.77 L1017.99,753.74 L1019.69,754.72 L1021.37,755.72 L1023.04,756.75 L1024.69,757.79 L1026.32,758.86 L1027.94,759.96 L1029.54,761.07 L1031.12,762.21 L1032.69,763.37 L1034.23,764.55 L1035.76,765.76 L1037.26,766.99 L1038.75,768.25 L1040.22,769.52 L1041.66,770.82 L1043.09,772.14 L1044.49,773.49 L1045.88,774.85 L1047.24,776.24 L1048.58,777.65 L1049.89,779.08 L1051.19,780.53 L1052.46,782.01 L1053.70,783.50 L1054.93,785.01 L1056.13,786.54 L1057.30,788.10 L1058.45,789.67 L1059.57,791.26 L1060.67,792.87 L1061.74,794.50 L1062.79,796.14 L1063.81,797.81 L1064.80,799.49 L1065.76,801.19 L1066.70,802.91 L1067.61,804.65 L1068.49,806.40 L1069.34,808.17 L1070.17,809.95 L1070.98,811.75 L1071.76,813.56 L1072.52,815.39 L1073.25,817.23 L1073.97,819.08 L1074.67,820.94 L1075.35,822.82 L1076.01,824.71 L1076.66,826.60 L1077.29,828.51 L1077.90,830.42 L1078.50,832.35 L1079.09,834.28 L1079.67,836.22 L1080.24,838.16 L1080.80,840.11 L1081.35,842.07 L1081.89,844.03 L1082.43,846.00 L1082.96,847.97 L1083.49,849.94 L1084.01,851.92 L1084.53,853.89 L1085.05,855.87 L1085.57,857.85 L1086.08,859.83 L1086.61,861.81 L1087.13,863.79 L1087.65,865.77 L1088.19,867.74 L1088.72,869.71 L1089.26,871.68 L1089.81,873.65 L1090.37,875.61 L1090.94,877.56 L1091.52,879.51 L1092.11,881.45 L1092.71,883.39 L1093.33,885.32 L1093.96,887.24 L1094.60,889.15 L1095.27,891.05 L1095.94,892.95 L1096.64,894.83 L1097.36,896.70 L1098.10,898.56 L1098.86,900.41 L1099.64,902.24 L1100.44,904.06 L1101.27,905.87 L1102.13,907.67 L1103.01,909.44 L1103.91,911.21 L1104.85,912.95 L1105.82,914.68 L1106.81,916.39 L1107.84,918.09 L1108.90,919.76 L1109.99,921.42 L1111.12,923.06 L1112.28,924.67 L1113.48,926.27 L1114.72,927.84 L1115.99,929.39 L1117.31,930.92 L1118.66,932.43 L1120.06,933.91 L1121.49,935.36 L1122.97,936.79 L1124.50,938.20 L1124.50,938.20 L1126.49,938.48 L1128.49,938.75 L1130.48,939.03 L1132.47,939.31 L1134.46,939.60 L1136.46,939.88 L1138.45,940.16 L1140.44,940.45 L1142.43,940.73 L1144.43,941.02 L1146.42,941.30 L1148.41,941.59 L1150.41,941.87 L1152.40,942.16 L1154.39,942.45 L1156.38,942.73 L1158.38,943.02 L1160.37,943.31 L1162.36,943.59 L1164.36,943.88 L1166.35,944.17 L1168.35,944.45 L1170.34,944.74 L1172.33,945.03 L1174.33,945.31 L1176.32,945.60 L1178.31,945.88 L1180.31,946.16 L1182.30,946.45 L1184.30,946.73 L1186.29,947.01 L1188.29,947.29 L1190.28,947.57 L1192.28,947.85 L1194.27,948.13 L1196.27,948.41 L1198.26,948.68 L1200.26,948.96 L1202.26,949.23 L1204.25,949.50 L1206.25,949.77 L1208.24,950.04 L1210.24,950.31 L1212.24,950.57 L1214.23,950.84 L1216.23,951.10 L1218.23,951.36 L1220.23,951.62 L1222.22,951.88 L1224.22,952.13 L1226.22,952.38 L1228.22,952.63 L1230.22,952.88 L1232.21,953.13 L1234.21,953.37 L1236.21,953.61 L1238.21,953.85 L1240.21,954.09 L1242.21,954.33 L1244.21,954.56 L1246.21,954.79 L1248.21,955.01 L1250.21,955.24 L1252.22,955.46 L1254.22,955.67 L1256.22,955.89 L1258.22,956.10 L1260.22,956.31 L1262.23,956.51 L1264.23,956.72 L1266.23,956.91 L1268.24,957.11 L1270.24,957.30 L1272.24,957.49 L1274.25,957.68 L1276.25,957.86 L1278.26,958.03 L1280.26,958.21 L1282.27,958.38 L1284.27,958.55 L1286.28,958.71 L1288.29,958.87 L1290.29,959.02 L1292.30,959.17 L1294.31,959.32 L1296.32,959.46 L1298.33,959.60 L1300.33,959.73 L1302.34,959.86 L1304.35,959.98 L1306.36,960.10 L1308.37,960.22 L1310.38,960.33 L1312.39,960.43 L1314.41,960.53 L1316.42,960.63 L1318.43,960.72 L1320.44,960.81 L1322.46,960.89 L1324.47,960.96 L1326.48,961.03 L1328.50,961.10 L1330.51,961.16 L1332.53,961.21 L1334.54,961.26 L1336.56,961.31 L1338.57,961.35 L1340.59,961.38 L1342.61,961.40 L1344.63,961.43 L1346.64,961.44 L1348.66,961.45 L1350.68,961.45 L1352.70,961.45 L1354.72,961.44 L1356.74,961.43 L1358.76,961.41 L1360.79,961.38 L1362.81,961.35 L1364.83,961.31 L1366.85,961.26 L1368.88,961.21 L1370.90,961.15" fill="none" stroke="#377eb8" stroke-width="2.4" stroke-linejoin="round" stroke-dasharray="8.4 4.1"/>
<path d="M883.40,841.70 L885.37,842.05 L887.33,842.42 L889.28,842.81 L891.23,843.22 L893.17,843.65 L895.11,844.10 L897.04,844.57 L898.97,845.06 L900.90,845.57 L902.82,846.09 L904.73,846.63 L906.64,847.19 L908.55,847.76 L910.45,848.35 L912.34,848.95 L914.24,849.57 L916.12,850.21 L918.01,850.86 L919.89,851.53 L921.76,852.20 L923.64,852.90 L925.51,853.60 L927.37,854.32 L929.23,855.05 L931.09,855.80 L932.95,856.55 L934.80,857.32 L936.65,858.10 L938.49,858.89 L940.33,859.68 L942.17,860.49 L944.01,861.31 L945.84,862.14 L947.67,862.98 L949.50,863.82 L951.33,864.68 L953.15,865.54 L954.97,866.41 L956.79,867.29 L958.61,868.17 L960.42,869.06 L962.24,869.96 L964.05,870.86 L965.86,871.77 L967.66,872.68 L969.47,873.60 L971.27,874.52 L973.07,875.44 L974.88,876.37 L976.68,877.31 L978.47,878.24 L980.27,879.18 L982.07,880.12 L983.86,881.06 L985.66,882.00 L987.45,882.95 L989.24,883.89 L991.04,884.84 L992.83,885.78 L994.62,886.73 L996.41,887.67 L998.20,888.62 L999.99,889.56 L1001.78,890.50 L1003.57,891.44 L1005.36,892.37 L1007.15,893.31 L1008.95,894.24 L1010.74,895.16 L1012.53,896.08 L1014.32,897.00 L1016.11,897.91 L1017.91,898.82 L1019.70,899.73 L1021.49,900.63 L1023.29,901.52 L1025.09,902.41 L1026.89,903.29 L1028.68,904.17 L1030.48,905.04 L1032.29,905.91 L1034.09,906.78 L1035.89,907.63 L1037.70,908.49 L1039.51,909.34 L1041.32,910.18 L1043.13,911.01 L1044.94,911.85 L1046.76,912.67 L1048.58,913.49 L1050.40,914.31 L1052.22,915.12 L1054.04,915.92 L1055.87,916.72 L1057.70,917.51 L1059.53,918.30 L1061.37,919.08 L1063.20,919.86 L1065.04,920.63 L1066.89,921.39 L1068.73,922.15 L1070.58,922.90 L1072.44,923.65 L1074.29,924.39 L1076.15,925.12 L1078.02,925.85 L1079.88,926.57 L1081.75,927.29 L1083.63,928.00 L1085.51,928.70 L1087.39,929.40 L1089.27,930.09 L1091.16,930.77 L1093.06,931.45 L1094.96,932.12 L1096.86,932.79 L1098.77,933.45 L1100.68,934.10 L1102.59,934.74 L1104.52,935.38 L1106.44,936.01 L1108.37,936.64 L1110.31,937.26 L1112.25,937.87 L1114.19,938.48 L1116.14,939.07 L1118.10,939.67 L1120.06,940.25 L1122.03,940.83 L1124.00,941.40 L1124.00,941.40 L1125.98,941.71 L1127.96,942.01 L1129.93,942.32 L1131.91,942.62 L1133.89,942.93 L1135.87,943.23 L1137.85,943.53 L1139.83,943.82 L1141.81,944.12 L1143.79,944.41 L1145.77,944.70 L1147.75,945.00 L1149.73,945.28 L1151.71,945.57 L1153.69,945.86 L1155.67,946.14 L1157.65,946.42 L1159.63,946.70 L1161.62,946.98 L1163.60,947.26 L1165.58,947.53 L1167.56,947.80 L1169.55,948.08 L1171.53,948.35 L1173.51,948.61 L1175.50,948.88 L1177.48,949.14 L1179.46,949.40 L1181.45,949.66 L1183.43,949.92 L1185.42,950.18 L1187.40,950.43 L1189.38,950.68 L1191.37,950.93 L1193.35,951.18 L1195.34,951.42 L1197.33,951.67 L1199.31,951.91 L1201.30,952.15 L1203.28,952.39 L1205.27,952.62 L1207.26,952.85 L1209.25,953.08 L1211.23,953.31 L1213.22,953.54 L1215.21,953.76 L1217.20,953.99 L1219.18,954.21 L1221.17,954.42 L1223.16,954.64 L1225.15,954.85 L1227.14,955.06 L1229.13,955.27 L1231.12,955.48 L1233.11,955.68 L1235.10,955.88 L1237.09,956.08 L1239.08,956.28 L1241.07,956.47 L1243.06,956.67 L1245.05,956.86 L1247.04,957.04 L1249.03,957.23 L1251.02,957.41 L1253.01,957.59 L1255.01,957.77 L1257.00,957.94 L1258.99,958.11 L1260.98,958.28 L1262.98,958.45 L1264.97,958.62 L1266.96,958.78 L1268.96,958.94 L1270.95,959.10 L1272.94,959.25 L1274.94,959.40 L1276.93,959.55 L1278.93,959.70 L1280.92,959.84 L1282.92,959.98 L1284.91,960.12 L1286.91,960.26 L1288.90,960.39 L1290.90,960.52 L1292.89,960.65 L1294.89,960.77 L1296.89,960.89 L1298.88,961.01 L1300.88,961.13 L1302.88,961.24 L1304.88,961.35 L1306.87,961.46 L1308.87,961.56 L1310.87,961.67 L1312.87,961.76 L1314.86,961.86 L1316.86,961.95 L1318.86,962.04 L1320.86,962.13 L1322.86,962.21 L1324.86,962.30 L1326.86,962.37 L1328.86,962.45 L1330.86,962.52 L1332.86,962.59 L1334.86,962.66 L1336.86,962.72 L1338.86,962.78 L1340.86,962.84 L1342.86,962.89 L1344.86,962.94 L1346.87,962.99 L1348.87,963.03 L1350.87,963.07 L1352.87,963.11 L1354.87,963.14 L1356.88,963.17 L1358.88,963.20 L1360.88,963.23 L1362.89,963.25 L1364.89,963.27 L1366.89,963.28 L1368.90,963.29 L1370.90,963.30" fill="none" stroke="#4daf4a" stroke-width="2.4" stroke-linejoin="round"/>
<path d="M884.80,726.80 L886.73,726.84 L888.67,726.89 L890.61,726.94 L892.57,727.00 L894.53,727.07 L896.50,727.14 L898.48,727.22 L900.47,727.30 L902.46,727.40 L904.45,727.50 L906.45,727.61 L908.46,727.73 L910.47,727.85 L912.49,727.99 L914.51,728.13 L916.53,728.29 L918.56,728.45 L920.59,728.62 L922.63,728.80 L924.66,729.00 L926.70,729.20 L928.74,729.41 L930.78,729.64 L932.82,729.87 L934.86,730.12 L936.90,730.38 L938.95,730.65 L940.99,730.93 L943.03,731.22 L945.07,731.53 L947.10,731.85 L949.14,732.18 L951.17,732.52 L953.20,732.88 L955.23,733.25 L957.25,733.64 L959.27,734.04 L961.28,734.45 L963.30,734.88 L965.30,735.32 L967.30,735.78 L969.30,736.26 L971.28,736.74 L973.27,737.25 L975.24,737.77 L977.21,738.31 L979.17,738.86 L981.12,739.43 L983.07,740.01 L985.01,740.62 L986.93,741.24 L988.85,741.87 L990.76,742.53 L992.66,743.20 L994.54,743.89 L996.42,744.60 L998.29,745.33 L1000.14,746.08 L1001.98,746.85 L1003.82,747.63 L1005.63,748.44 L1007.44,749.26 L1009.23,750.11 L1011.01,750.97 L1012.77,751.86 L1014.52,752.77 L1016.26,753.69 L1017.98,754.64 L1019.68,755.61 L1021.37,756.60 L1023.04,757.62 L1024.70,758.65 L1026.33,759.71 L1027.96,760.79 L1029.56,761.90 L1031.15,763.02 L1032.71,764.17 L1034.26,765.35 L1035.79,766.54 L1037.30,767.76 L1038.79,769.01 L1040.26,770.28 L1041.71,771.57 L1043.14,772.88 L1044.55,774.21 L1045.93,775.57 L1047.30,776.95 L1048.64,778.35 L1049.96,779.77 L1051.25,781.22 L1052.52,782.68 L1053.77,784.17 L1055.00,785.68 L1056.20,787.20 L1057.37,788.75 L1058.52,790.31 L1059.64,791.90 L1060.74,793.50 L1061.81,795.13 L1062.86,796.77 L1063.88,798.43 L1064.87,800.11 L1065.83,801.81 L1066.76,803.52 L1067.67,805.25 L1068.55,807.00 L1069.40,808.77 L1070.23,810.55 L1071.03,812.35 L1071.81,814.16 L1072.56,815.98 L1073.30,817.82 L1074.01,819.67 L1074.71,821.53 L1075.38,823.41 L1076.04,825.29 L1076.69,827.19 L1077.31,829.09 L1077.93,831.01 L1078.53,832.93 L1079.12,834.86 L1079.69,836.79 L1080.26,838.74 L1080.82,840.68 L1081.37,842.64 L1081.91,844.60 L1082.44,846.56 L1082.98,848.53 L1083.50,850.49 L1084.03,852.47 L1084.55,854.44 L1085.07,856.41 L1085.59,858.39 L1086.12,860.36 L1086.64,862.33 L1087.17,864.30 L1087.70,866.27 L1088.24,868.24 L1088.78,870.20 L1089.33,872.16 L1089.89,874.11 L1090.46,876.06 L1091.04,878.01 L1091.63,879.94 L1092.23,881.87 L1092.84,883.80 L1093.47,885.71 L1094.12,887.62 L1094.78,889.51 L1095.46,891.40 L1096.16,893.27 L1096.87,895.14 L1097.61,896.99 L1098.37,898.83 L1099.15,900.65 L1099.96,902.46 L1100.79,904.26 L1101.64,906.04 L1102.52,907.81 L1103.43,909.56 L1104.37,911.30 L1105.34,913.01 L1106.34,914.71 L1107.37,916.39 L1108.43,918.05 L1109.53,919.69 L1110.66,921.31 L1111.83,922.91 L1113.03,924.49 L1114.27,926.04 L1115.55,927.57 L1116.88,929.08 L1118.24,930.57 L1119.64,932.03 L1121.09,933.46 L1122.58,934.87 L1124.12,936.25 L1125.70,937.60 L1125.70,937.60 L1127.68,937.89 L1129.66,938.18 L1131.64,938.48 L1133.62,938.77 L1135.60,939.06 L1137.58,939.36 L1139.56,939.65 L1141.55,939.94 L1143.53,940.23 L1145.51,940.52 L1147.49,940.81 L1149.47,941.10 L1151.45,941.39 L1153.44,941.68 L1155.42,941.97 L1157.40,942.26 L1159.38,942.54 L1161.37,942.83 L1163.35,943.11 L1165.33,943.40 L1167.32,943.68 L1169.30,943.96 L1171.28,944.24 L1173.27,944.52 L1175.25,944.80 L1177.24,945.08 L1179.22,945.35 L1181.21,945.63 L1183.19,945.90 L1185.18,946.18 L1187.16,946.45 L1189.15,946.72 L1191.13,946.98 L1193.12,947.25 L1195.10,947.52 L1197.09,947.78 L1199.08,948.04 L1201.06,948.30 L1203.05,948.56 L1205.04,948.82 L1207.03,949.07 L1209.01,949.33 L1211.00,949.58 L1212.99,949.83 L1214.98,950.07 L1216.97,950.32 L1218.96,950.56 L1220.94,950.80 L1222.93,951.04 L1224.92,951.28 L1226.91,951.52 L1228.90,951.75 L1230.89,951.98 L1232.88,952.21 L1234.87,952.43 L1236.86,952.66 L1238.86,952.88 L1240.85,953.10 L1242.84,953.31 L1244.83,953.52 L1246.82,953.73 L1248.82,953.94 L1250.81,954.15 L1252.80,954.35 L1254.79,954.55 L1256.79,954.75 L1258.78,954.94 L1260.77,955.13 L1262.77,955.32 L1264.76,955.50 L1266.76,955.69 L1268.75,955.86 L1270.75,956.04 L1272.74,956.21 L1274.74,956.38 L1276.74,956.55 L1278.73,956.71 L1280.73,956.87 L1282.73,957.03 L1284.72,957.18 L1286.72,957.33 L1288.72,957.47 L1290.72,957.62 L1292.72,957.75 L1294.71,957.89 L1296.71,958.02 L1298.71,958.15 L1300.71,958.27 L1302.71,958.39 L1304.71,958.51 L1306.71,958.62 L1308.71,958.73 L1310.71,958.83 L1312.72,958.93 L1314.72,959.03 L1316.72,959.12 L1318.72,959.21 L1320.72,959.29 L1322.73,959.37 L1324.73,959.45 L1326.73,959.52 L1328.74,959.58 L1330.74,959.64 L1332.75,959.70 L1334.75,959.76 L1336.76,959.80 L1338.76,959.85 L1340.77,959.89 L1342.78,959.92 L1344.78,959.95 L1346.79,959.98 L1348.80,960.00 L1350.80,960.01 L1352.81,960.03 L1354.82,960.03 L1356.83,960.03 L1358.84,960.03 L1360.85,960.02 L1362.86,960.01 L1364.87,959.99 L1366.88,959.96 L1368.89,959.93 L1370.90,959.90" fill="none" stroke="#4daf4a" stroke-width="2.4" stroke-linejoin="round" stroke-dasharray="8.4 4.1"/>
<path d="M883.40,842.30 L885.37,842.65 L887.33,843.02 L889.28,843.41 L891.23,843.82 L893.17,844.25 L895.11,844.70 L897.04,845.17 L898.97,845.66 L900.90,846.17 L902.82,846.69 L904.73,847.23 L906.64,847.79 L908.55,848.36 L910.45,848.95 L912.34,849.55 L914.24,850.17 L916.12,850.81 L918.01,851.46 L919.89,852.13 L921.76,852.80 L923.64,853.50 L925.51,854.20 L927.37,854.92 L929.23,855.65 L931.09,856.40 L932.95,857.15 L934.80,857.92 L936.65,858.70 L938.49,859.49 L940.33,860.28 L942.17,861.09 L944.01,861.91 L945.84,862.74 L947.67,863.58 L949.50,864.42 L951.33,865.28 L953.15,866.14 L954.97,867.01 L956.79,867.89 L958.61,868.77 L960.42,869.66 L962.24,870.56 L964.05,871.46 L965.86,872.37 L967.66,873.28 L969.47,874.20 L971.27,875.12 L973.07,876.04 L974.88,876.97 L976.68,877.91 L978.47,878.84 L980.27,879.78 L982.07,880.72 L983.86,881.66 L985.66,882.60 L987.45,883.55 L989.24,884.49 L991.04,885.44 L992.83,886.38 L994.62,887.33 L996.41,888.27 L998.20,889.22 L999.99,890.16 L1001.78,891.10 L1003.57,892.04 L1005.36,892.97 L1007.15,893.91 L1008.95,894.84 L1010.74,895.76 L1012.53,896.68 L1014.32,897.60 L1016.11,898.51 L1017.91,899.42 L1019.70,900.33 L1021.49,901.23 L1023.29,902.12 L1025.09,903.01 L1026.89,903.89 L1028.68,904.77 L1030.48,905.64 L1032.29,906.51 L1034.09,907.38 L1035.89,908.23 L1037.70,909.09 L1039.51,909.94 L1041.32,910.78 L1043.13,911.61 L1044.94,912.45 L1046.76,913.27 L1048.58,914.09 L1050.40,914.91 L1052.22,915.72 L1054.04,916.52 L1055.87,917.32 L1057.70,918.11 L1059.53,918.90 L1061.37,919.68 L1063.20,920.46 L1065.04,921.23 L1066.89,921.99 L1068.73,922.75 L1070.58,923.50 L1072.44,924.25 L1074.29,924.99 L1076.15,925.72 L1078.02,926.45 L1079.88,927.17 L1081.75,927.89 L1083.63,928.60 L1085.51,929.30 L1087.39,930.00 L1089.27,930.69 L1091.16,931.37 L1093.06,932.05 L1094.96,932.72 L1096.86,933.39 L1098.77,934.05 L1100.68,934.70 L1102.59,935.34 L1104.52,935.98 L1106.44,936.61 L1108.37,937.24 L1110.31,937.86 L1112.25,938.47 L1114.19,939.08 L1116.14,939.67 L1118.10,940.27 L1120.06,940.85 L1122.03,941.43 L1124.00,942.00 L1124.00,942.00 L1125.98,942.31 L1127.96,942.61 L1129.93,942.92 L1131.91,943.22 L1133.89,943.53 L1135.87,943.83 L1137.85,944.13 L1139.83,944.42 L1141.81,944.72 L1143.79,945.01 L1145.77,945.30 L1147.75,945.60 L1149.73,945.88 L1151.71,946.17 L1153.69,946.46 L1155.67,946.74 L1157.65,947.02 L1159.63,947.30 L1161.62,947.58 L1163.60,947.86 L1165.58,948.13 L1167.56,948.40 L1169.55,948.68 L1171.53,948.95 L1173.51,949.21 L1175.50,949.48 L1177.48,949.74 L1179.46,950.00 L1181.45,950.26 L1183.43,950.52 L1185.42,950.78 L1187.40,951.03 L1189.38,951.28 L1191.37,951.53 L1193.35,951.78 L1195.34,952.02 L1197.33,952.27 L1199.31,952.51 L1201.30,952.75 L1203.28,952.99 L1205.27,953.22 L1207.26,953.45 L1209.25,953.68 L1211.23,953.91 L1213.22,954.14 L1215.21,954.36 L1217.20,954.59 L1219.18,954.81 L1221.17,955.02 L1223.16,955.24 L1225.15,955.45 L1227.14,955.66 L1229.13,955.87 L1231.12,956.08 L1233.11,956.28 L1235.10,956.48 L1237.09,956.68 L1239.08,956.88 L1241.07,957.07 L1243.06,957.27 L1245.05,957.46 L1247.04,957.64 L1249.03,957.83 L1251.02,958.01 L1253.01,958.19 L1255.01,958.37 L1257.00,958.54 L1258.99,958.71 L1260.98,958.88 L1262.98,959.05 L1264.97,959.22 L1266.96,959.38 L1268.96,959.54 L1270.95,959.70 L1272.94,959.85 L1274.94,960.00 L1276.93,960.15 L1278.93,960.30 L1280.92,960.44 L1282.92,960.58 L1284.91,960.72 L1286.91,960.86 L1288.90,960.99 L1290.90,961.12 L1292.89,961.25 L1294.89,961.37 L1296.89,961.49 L1298.88,961.61 L1300.88,961.73 L1302.88,961.84 L1304.88,961.95 L1306.87,962.06 L1308.87,962.16 L1310.87,962.27 L1312.87,962.36 L1314.86,962.46 L1316.86,962.55 L1318.86,962.64 L1320.86,962.73 L1322.86,962.81 L1324.86,962.90 L1326.86,962.97 L1328.86,963.05 L1330.86,963.12 L1332.86,963.19 L1334.86,963.26 L1336.86,963.32 L1338.86,963.38 L1340.86,963.44 L1342.86,963.49 L1344.86,963.54 L1346.87,963.59 L1348.87,963.63 L1350.87,963.67 L1352.87,963.71 L1354.87,963.74 L1356.88,963.77 L1358.88,963.80 L1360.88,963.83 L1362.89,963.85 L1364.89,963.87 L1366.89,963.88 L1368.90,963.89 L1370.90,963.90" fill="none" stroke="#984ea3" stroke-width="2.4" stroke-linejoin="round"/>
<path d="M884.80,631.90 L886.73,631.97 L888.66,632.04 L890.59,632.12 L892.53,632.20 L894.48,632.29 L896.44,632.39 L898.40,632.49 L900.36,632.59 L902.33,632.71 L904.30,632.83 L906.28,632.96 L908.27,633.09 L910.25,633.23 L912.24,633.38 L914.24,633.54 L916.23,633.70 L918.23,633.87 L920.24,634.05 L922.24,634.23 L924.25,634.43 L926.26,634.63 L928.28,634.84 L930.29,635.06 L932.31,635.29 L934.32,635.52 L936.34,635.77 L938.36,636.02 L940.38,636.29 L942.40,636.56 L944.42,636.84 L946.44,637.13 L948.46,637.43 L950.48,637.74 L952.50,638.07 L954.52,638.40 L956.54,638.74 L958.55,639.09 L960.57,639.45 L962.58,639.83 L964.59,640.21 L966.60,640.61 L968.61,641.01 L970.61,641.43 L972.61,641.86 L974.61,642.30 L976.60,642.75 L978.59,643.22 L980.58,643.69 L982.56,644.18 L984.54,644.68 L986.51,645.19 L988.48,645.72 L990.44,646.26 L992.40,646.81 L994.36,647.37 L996.31,647.95 L998.25,648.54 L1000.18,649.15 L1002.11,649.77 L1004.04,650.40 L1005.95,651.04 L1007.86,651.70 L1009.77,652.38 L1011.66,653.06 L1013.55,653.77 L1015.43,654.48 L1017.30,655.22 L1019.17,655.96 L1021.02,656.72 L1022.87,657.50 L1024.71,658.29 L1026.53,659.10 L1028.35,659.93 L1030.16,660.76 L1031.96,661.62 L1033.75,662.49 L1035.53,663.38 L1037.30,664.28 L1039.06,665.20 L1040.81,666.14 L1042.54,667.09 L1044.27,668.06 L1045.98,669.05 L1047.68,670.06 L1049.37,671.08 L1051.05,672.12 L1052.71,673.17 L1054.37,674.25 L1056.01,675.34 L1057.63,676.45 L1059.24,677.58 L1060.84,678.73 L1062.43,679.90 L1064.00,681.08 L1065.56,682.28 L1067.10,683.51 L1068.63,684.75 L1070.14,686.01 L1071.64,687.29 L1073.12,688.59 L1074.59,689.91 L1076.04,691.25 L1077.47,692.60 L1078.89,693.98 L1080.29,695.38 L1081.68,696.80 L1083.05,698.24 L1084.40,699.70 L1085.73,701.18 L1087.05,702.69 L1088.35,704.21 L1089.63,705.76 L1090.89,707.32 L1092.13,708.91 L1093.36,710.52 L1094.56,712.15 L1095.75,713.80 L1096.92,715.48 L1098.06,717.17 L1099.19,718.89 L1100.30,720.64 L1101.39,722.40 L1102.46,724.19 L1103.50,726.00 L1103.50,726.00 L1103.89,727.97 L1104.28,729.95 L1104.66,731.92 L1105.03,733.90 L1105.40,735.88 L1105.77,737.86 L1106.13,739.84 L1106.48,741.82 L1106.83,743.80 L1107.18,745.78 L1107.52,747.76 L1107.86,749.74 L1108.19,751.73 L1108.52,753.71 L1108.84,755.70 L1109.16,757.69 L1109.48,759.68 L1109.79,761.66 L1110.09,763.65 L1110.40,765.64 L1110.69,767.63 L1110.99,769.62 L1111.28,771.62 L1111.56,773.61 L1111.85,775.60 L1112.12,777.60 L1112.40,779.59 L1112.67,781.59 L1112.93,783.58 L1113.20,785.58 L1113.45,787.58 L1113.71,789.57 L1113.96,791.57 L1114.21,793.57 L1114.45,795.57 L1114.69,797.57 L1114.93,799.57 L1115.16,801.57 L1115.40,803.57 L1115.62,805.57 L1115.85,807.58 L1116.07,809.58 L1116.29,811.58 L1116.50,813.58 L1116.71,815.59 L1116.92,817.59 L1117.12,819.60 L1117.33,821.60 L1117.53,823.61 L1117.72,825.61 L1117.92,827.62 L1118.11,829.63 L1118.30,831.63 L1118.48,833.64 L1118.67,835.65 L1118.85,837.66 L1119.02,839.66 L1119.20,841.67 L1119.37,843.68 L1119.54,845.69 L1119.71,847.70 L1119.88,849.71 L1120.04,851.72 L1120.20,853.72 L1120.36,855.73 L1120.52,857.74 L1120.67,859.75 L1120.83,861.76 L1120.98,863.77 L1121.13,865.78 L1121.27,867.79 L1121.42,869.80 L1121.56,871.81 L1121.70,873.82 L1121.84,875.83 L1121.98,877.84 L1122.12,879.85 L1122.25,881.87 L1122.39,883.88 L1122.52,885.89 L1122.65,887.90 L1122.78,889.91 L1122.90,891.92 L1123.03,893.93 L1123.16,895.94 L1123.28,897.95 L1123.40,899.95 L1123.52,901.96 L1123.64,903.97 L1123.76,905.98 L1123.88,907.99 L1124.00,910.00 L1124.00,910.00 L1125.93,910.53 L1127.86,911.06 L1129.79,911.58 L1131.72,912.10 L1133.65,912.62 L1135.58,913.13 L1137.52,913.64 L1139.45,914.15 L1141.39,914.65 L1143.32,915.15 L1145.26,915.65 L1147.20,916.14 L1149.14,916.63 L1151.08,917.11 L1153.02,917.59 L1154.96,918.07 L1156.91,918.54 L1158.85,919.01 L1160.80,919.48 L1162.74,919.94 L1164.69,920.40 L1166.64,920.85 L1168.58,921.30 L1170.53,921.75 L1172.48,922.19 L1174.44,922.63 L1176.39,923.07 L1178.34,923.50 L1180.30,923.92 L1182.25,924.35 L1184.21,924.77 L1186.16,925.18 L1188.12,925.59 L1190.08,926.00 L1192.04,926.40 L1194.00,926.80 L1195.96,927.20 L1197.92,927.59 L1199.88,927.98 L1201.84,928.36 L1203.81,928.74 L1205.77,929.11 L1207.74,929.48 L1209.70,929.85 L1211.67,930.21 L1213.64,930.57 L1215.60,930.92 L1217.57,931.27 L1219.54,931.62 L1221.51,931.96 L1223.48,932.29 L1225.46,932.62 L1227.43,932.95 L1229.40,933.27 L1231.37,933.59 L1233.35,933.91 L1235.32,934.22 L1237.30,934.52 L1239.28,934.82 L1241.25,935.12 L1243.23,935.41 L1245.21,935.70 L1247.19,935.98 L1249.17,936.26 L1251.15,936.53 L1253.13,936.80 L1255.11,937.07 L1257.09,937.33 L1259.08,937.58 L1261.06,937.83 L1263.05,938.08 L1265.03,938.32 L1267.02,938.56 L1269.00,938.79 L1270.99,939.01 L1272.97,939.24 L1274.96,939.45 L1276.95,939.67 L1278.94,939.87 L1280.93,940.08 L1282.92,940.27 L1284.91,940.47 L1286.90,940.66 L1288.89,940.84 L1290.88,941.02 L1292.87,941.19 L1294.87,941.36 L1296.86,941.52 L1298.85,941.68 L1300.85,941.83 L1302.84,941.98 L1304.84,942.13 L1306.83,942.26 L1308.83,942.40 L1310.83,942.52 L1312.82,942.65 L1314.82,942.77 L1316.82,942.88 L1318.82,942.99 L1320.82,943.09 L1322.81,943.18 L1324.81,943.28 L1326.81,943.36 L1328.81,943.44 L1330.81,943.52 L1332.82,943.59 L1334.82,943.66 L1336.82,943.72 L1338.82,943.77 L1340.82,943.82 L1342.83,943.86 L1344.83,943.90 L1346.83,943.93 L1348.84,943.96 L1350.84,943.98 L1352.85,944.00 L1354.85,944.01 L1356.86,944.02 L1358.86,944.02 L1360.87,944.01 L1362.87,944.00 L1364.88,943.98 L1366.89,943.96 L1368.89,943.93 L1370.90,943.90" fill="none" stroke="#984ea3" stroke-width="2.4" stroke-linejoin="round" stroke-dasharray="8.4 4.1"/>
<path d="M1559.50,646.40 L1561.52,646.53 L1563.53,646.66 L1565.53,646.80 L1567.53,646.94 L1569.53,647.08 L1571.51,647.23 L1573.49,647.39 L1575.47,647.56 L1577.44,647.75 L1579.40,647.94 L1581.36,648.16 L1583.32,648.39 L1585.27,648.64 L1587.21,648.91 L1589.15,649.21 L1591.08,649.53 L1593.01,649.88 L1594.93,650.25 L1596.85,650.65 L1598.76,651.09 L1600.67,651.56 L1602.57,652.06 L1604.47,652.60 L1606.37,653.18 L1608.25,653.80 L1610.14,654.45 L1612.02,655.14 L1613.90,655.86 L1615.77,656.61 L1617.64,657.38 L1619.50,658.19 L1621.36,659.02 L1623.22,659.87 L1625.07,660.74 L1626.92,661.63 L1628.76,662.54 L1630.60,663.46 L1632.44,664.40 L1634.27,665.34 L1636.10,666.30 L1637.93,667.27 L1639.75,668.24 L1641.57,669.21 L1643.39,670.19 L1645.20,671.16 L1647.01,672.14 L1648.82,673.11 L1650.62,674.07 L1652.43,675.03 L1654.22,675.98 L1656.02,676.92 L1657.81,677.86 L1659.60,678.79 L1661.39,679.71 L1663.18,680.63 L1664.96,681.55 L1666.74,682.46 L1668.52,683.37 L1670.29,684.27 L1672.07,685.17 L1673.84,686.06 L1675.61,686.96 L1677.38,687.85 L1679.14,688.74 L1680.91,689.63 L1682.67,690.52 L1684.43,691.40 L1686.19,692.29 L1687.95,693.18 L1689.70,694.07 L1691.46,694.96 L1693.21,695.85 L1694.96,696.74 L1696.71,697.64 L1698.46,698.53 L1700.21,699.43 L1701.96,700.34 L1703.71,701.25 L1705.45,702.16 L1707.20,703.08 L1708.94,704.00 L1710.69,704.93 L1712.43,705.86 L1714.17,706.80 L1715.91,707.75 L1717.65,708.70 L1719.39,709.66 L1721.14,710.63 L1722.88,711.60 L1724.62,712.58 L1726.35,713.56 L1728.09,714.55 L1729.83,715.55 L1731.57,716.54 L1733.31,717.55 L1735.04,718.55 L1736.78,719.56 L1738.51,720.57 L1740.25,721.59 L1741.98,722.61 L1743.72,723.62 L1745.45,724.65 L1747.18,725.67 L1748.91,726.69 L1750.64,727.72 L1752.37,728.74 L1754.10,729.76 L1755.83,730.79 L1757.55,731.81 L1759.28,732.83 L1761.01,733.85 L1762.73,734.87 L1764.45,735.89 L1766.18,736.90 L1767.90,737.91 L1769.62,738.92 L1771.34,739.93 L1773.06,740.93 L1774.77,741.94 L1776.49,742.95 L1778.21,743.96 L1779.92,744.97 L1781.63,745.99 L1783.35,747.01 L1785.06,748.04 L1786.77,749.07 L1788.48,750.11 L1790.18,751.17 L1791.89,752.23 L1793.59,753.30 L1795.30,754.38 L1797.00,755.47 L1798.70,756.58 L1800.40,757.70 L1800.40,757.70 L1802.35,757.94 L1804.29,758.21 L1806.23,758.52 L1808.16,758.86 L1810.10,759.23 L1812.03,759.63 L1813.95,760.06 L1815.87,760.52 L1817.79,761.01 L1819.71,761.52 L1821.63,762.06 L1823.54,762.62 L1825.45,763.20 L1827.36,763.80 L1829.26,764.42 L1831.17,765.06 L1833.07,765.71 L1834.97,766.38 L1836.87,767.07 L1838.76,767.76 L1840.66,768.47 L1842.56,769.19 L1844.45,769.91 L1846.34,770.64 L1848.24,771.38 L1850.13,772.13 L1852.02,772.87 L1853.91,773.62 L1855.81,774.37 L1857.70,775.12 L1859.59,775.87 L1861.48,776.62 L1863.37,777.36 L1865.26,778.09 L1867.16,778.82 L1869.05,779.54 L1870.95,780.26 L1872.84,780.96 L1874.74,781.66 L1876.63,782.35 L1878.53,783.04 L1880.43,783.71 L1882.33,784.38 L1884.23,785.04 L1886.13,785.70 L1888.03,786.34 L1889.93,786.98 L1891.84,787.61 L1893.74,788.24 L1895.65,788.85 L1897.55,789.46 L1899.46,790.07 L1901.37,790.66 L1903.28,791.25 L1905.19,791.83 L1907.10,792.40 L1909.02,792.97 L1910.93,793.52 L1912.84,794.08 L1914.76,794.62 L1916.68,795.16 L1918.60,795.69 L1920.52,796.21 L1922.44,796.72 L1924.36,797.23 L1926.29,797.73 L1928.21,798.23 L1930.14,798.71 L1932.07,799.19 L1934.00,799.67 L1935.93,800.13 L1937.86,800.59 L1939.80,801.04 L1941.73,801.49 L1943.67,801.93 L1945.61,802.36 L1947.55,802.78 L1949.49,803.20 L1951.43,803.61 L1953.38,804.01 L1955.33,804.41 L1957.28,804.80 L1959.23,805.18 L1961.18,805.56 L1963.13,805.93 L1965.09,806.29 L1967.04,806.64 L1969.00,806.99 L1970.96,807.33 L1972.93,807.67 L1974.89,808.00 L1976.86,808.32 L1978.83,808.64 L1980.80,808.94 L1982.77,809.25 L1984.74,809.54 L1986.72,809.83 L1988.70,810.11 L1990.68,810.39 L1992.66,810.66 L1994.65,810.92 L1996.63,811.18 L1998.62,811.42 L2000.61,811.67 L2002.61,811.90 L2004.60,812.13 L2006.60,812.36 L2008.60,812.57 L2010.60,812.79 L2012.60,812.99 L2014.61,813.19 L2016.62,813.38 L2018.63,813.56 L2020.64,813.74 L2022.66,813.92 L2024.68,814.08 L2026.70,814.24 L2028.72,814.39 L2030.75,814.54 L2032.78,814.68 L2034.81,814.82 L2036.84,814.95 L2038.88,815.07 L2040.92,815.19 L2042.96,815.30 L2045.00,815.40" fill="none" stroke="#e41a1c" stroke-width="2.4" stroke-linejoin="round"/>
<path d="M1559.50,628.60 L1561.44,628.61 L1563.39,628.62 L1565.35,628.65 L1567.31,628.68 L1569.29,628.72 L1571.27,628.77 L1573.25,628.83 L1575.24,628.90 L1577.24,628.98 L1579.24,629.07 L1581.25,629.17 L1583.26,629.28 L1585.27,629.40 L1587.29,629.54 L1589.32,629.68 L1591.34,629.83 L1593.37,630.00 L1595.40,630.17 L1597.44,630.36 L1599.47,630.56 L1601.51,630.77 L1603.55,630.99 L1605.58,631.23 L1607.62,631.47 L1609.66,631.73 L1611.70,632.01 L1613.74,632.29 L1615.77,632.59 L1617.81,632.90 L1619.84,633.23 L1621.87,633.56 L1623.90,633.92 L1625.93,634.28 L1627.95,634.66 L1629.97,635.05 L1631.98,635.46 L1634.00,635.88 L1636.00,636.32 L1638.00,636.77 L1640.00,637.24 L1641.99,637.72 L1643.98,638.22 L1645.96,638.73 L1647.93,639.26 L1649.89,639.80 L1651.85,640.36 L1653.80,640.93 L1655.74,641.53 L1657.68,642.13 L1659.60,642.76 L1661.52,643.40 L1663.43,644.06 L1665.32,644.73 L1667.21,645.42 L1669.09,646.13 L1670.95,646.86 L1672.81,647.61 L1674.65,648.37 L1676.48,649.15 L1678.30,649.95 L1680.10,650.77 L1681.90,651.60 L1683.68,652.45 L1685.44,653.33 L1687.20,654.22 L1688.93,655.13 L1690.66,656.06 L1692.37,657.01 L1694.06,657.98 L1695.74,658.97 L1697.40,659.98 L1699.04,661.01 L1700.67,662.06 L1702.28,663.13 L1703.88,664.22 L1705.45,665.33 L1707.01,666.47 L1708.55,667.62 L1710.07,668.79 L1711.57,669.99 L1713.05,671.21 L1714.51,672.45 L1715.95,673.71 L1717.38,674.99 L1718.78,676.30 L1720.15,677.63 L1721.51,678.98 L1722.85,680.35 L1724.16,681.75 L1725.45,683.17 L1726.72,684.61 L1727.96,686.08 L1729.18,687.57 L1730.38,689.08 L1731.55,690.62 L1732.69,692.18 L1733.82,693.77 L1734.91,695.38 L1735.99,697.01 L1737.04,698.66 L1738.06,700.34 L1739.07,702.03 L1740.06,703.75 L1741.02,705.48 L1741.96,707.23 L1742.89,709.00 L1743.79,710.79 L1744.68,712.59 L1745.55,714.41 L1746.41,716.24 L1747.24,718.09 L1748.07,719.95 L1748.87,721.82 L1749.67,723.70 L1750.45,725.59 L1751.21,727.50 L1751.97,729.41 L1752.71,731.33 L1753.44,733.26 L1754.16,735.20 L1754.88,737.14 L1755.58,739.09 L1756.27,741.04 L1756.96,743.00 L1757.64,744.96 L1758.31,746.92 L1758.98,748.89 L1759.64,750.85 L1760.30,752.82 L1760.95,754.79 L1761.60,756.75 L1762.25,758.72 L1762.89,760.68 L1763.54,762.65 L1764.18,764.61 L1764.82,766.57 L1765.46,768.53 L1766.11,770.49 L1766.76,772.44 L1767.40,774.39 L1768.06,776.33 L1768.71,778.27 L1769.37,780.21 L1770.04,782.14 L1770.71,784.07 L1771.39,785.99 L1772.07,787.90 L1772.76,789.81 L1773.46,791.71 L1774.17,793.60 L1774.89,795.48 L1775.62,797.36 L1776.36,799.23 L1777.11,801.09 L1777.87,802.94 L1778.64,804.78 L1779.43,806.61 L1780.24,808.43 L1781.05,810.24 L1781.89,812.03 L1782.73,813.82 L1783.60,815.59 L1784.48,817.35 L1785.38,819.10 L1786.30,820.84 L1787.24,822.56 L1788.20,824.27 L1789.17,825.96 L1790.17,827.64 L1791.19,829.31 L1792.24,830.95 L1793.30,832.59 L1794.39,834.20 L1795.51,835.80 L1796.64,837.39 L1797.81,838.95 L1799.00,840.50 L1799.00,840.50 L1800.90,841.10 L1802.81,841.72 L1804.71,842.33 L1806.61,842.95 L1808.51,843.58 L1810.41,844.21 L1812.31,844.84 L1814.21,845.48 L1816.11,846.13 L1818.00,846.78 L1819.90,847.43 L1821.79,848.08 L1823.69,848.74 L1825.58,849.40 L1827.48,850.07 L1829.37,850.74 L1831.27,851.41 L1833.16,852.08 L1835.05,852.76 L1836.94,853.43 L1838.84,854.11 L1840.73,854.80 L1842.62,855.48 L1844.51,856.16 L1846.40,856.85 L1848.29,857.54 L1850.19,858.23 L1852.08,858.92 L1853.97,859.61 L1855.86,860.30 L1857.75,860.99 L1859.64,861.68 L1861.53,862.37 L1863.43,863.06 L1865.32,863.75 L1867.21,864.44 L1869.10,865.13 L1871.00,865.82 L1872.89,866.51 L1874.78,867.20 L1876.68,867.88 L1878.57,868.56 L1880.47,869.25 L1882.36,869.93 L1884.26,870.60 L1886.16,871.28 L1888.05,871.95 L1889.95,872.62 L1891.85,873.29 L1893.75,873.95 L1895.65,874.61 L1897.55,875.27 L1899.45,875.93 L1901.36,876.58 L1903.26,877.23 L1905.17,877.87 L1907.07,878.51 L1908.98,879.14 L1910.89,879.77 L1912.80,880.40 L1914.71,881.02 L1916.62,881.63 L1918.53,882.24 L1920.44,882.85 L1922.36,883.45 L1924.28,884.04 L1926.19,884.63 L1928.11,885.21 L1930.03,885.78 L1931.95,886.35 L1933.88,886.92 L1935.80,887.47 L1937.73,888.02 L1939.66,888.56 L1941.59,889.09 L1943.52,889.62 L1945.45,890.14 L1947.39,890.65 L1949.32,891.15 L1951.26,891.65 L1953.20,892.14 L1955.14,892.61 L1957.09,893.08 L1959.03,893.54 L1960.98,893.99 L1962.93,894.44 L1964.88,894.87 L1966.83,895.29 L1968.79,895.71 L1970.75,896.11 L1972.71,896.50 L1974.67,896.89 L1976.63,897.26 L1978.60,897.62 L1980.57,897.97 L1982.54,898.31 L1984.51,898.64 L1986.49,898.96 L1988.47,899.27 L1990.45,899.56 L1992.43,899.85 L1994.42,900.12 L1996.41,900.38 L1998.40,900.62 L2000.39,900.86 L2002.39,901.08 L2004.39,901.29 L2006.39,901.48 L2008.40,901.67 L2010.40,901.84 L2012.42,901.99 L2014.43,902.13 L2016.44,902.26 L2018.46,902.38 L2020.49,902.48 L2022.51,902.56 L2024.54,902.63 L2026.57,902.69 L2028.61,902.73 L2030.64,902.75 L2032.69,902.77 L2034.73,902.76 L2036.78,902.74 L2038.83,902.70 L2040.88,902.65 L2042.94,902.58 L2045.00,902.50" fill="none" stroke="#e41a1c" stroke-width="2.4" stroke-linejoin="round" stroke-dasharray="8.4 4.1"/>
<path d="M1559.50,646.80 L1561.51,646.73 L1563.52,646.70 L1565.52,646.71 L1567.51,646.75 L1569.50,646.84 L1571.49,646.96 L1573.46,647.11 L1575.44,647.31 L1577.40,647.53 L1579.36,647.79 L1581.32,648.08 L1583.27,648.41 L1585.22,648.76 L1587.16,649.15 L1589.09,649.56 L1591.02,650.01 L1592.95,650.48 L1594.87,650.98 L1596.79,651.50 L1598.70,652.05 L1600.60,652.63 L1602.51,653.23 L1604.40,653.85 L1606.30,654.49 L1608.19,655.16 L1610.07,655.85 L1611.95,656.56 L1613.83,657.28 L1615.70,658.03 L1617.57,658.79 L1619.43,659.57 L1621.29,660.37 L1623.14,661.18 L1625.00,662.00 L1626.84,662.84 L1628.69,663.70 L1630.53,664.56 L1632.37,665.44 L1634.20,666.32 L1636.03,667.22 L1637.86,668.12 L1639.68,669.04 L1641.50,669.96 L1643.32,670.88 L1645.13,671.82 L1646.95,672.75 L1648.75,673.70 L1650.56,674.64 L1652.36,675.59 L1654.16,676.54 L1655.96,677.49 L1657.75,678.44 L1659.54,679.40 L1661.33,680.35 L1663.12,681.31 L1664.90,682.26 L1666.69,683.22 L1668.46,684.17 L1670.24,685.12 L1672.02,686.07 L1673.79,687.02 L1675.56,687.97 L1677.33,688.91 L1679.10,689.85 L1680.86,690.78 L1682.63,691.71 L1684.39,692.64 L1686.15,693.56 L1687.91,694.48 L1689.66,695.39 L1691.42,696.30 L1693.17,697.19 L1694.93,698.08 L1696.68,698.97 L1698.43,699.85 L1700.18,700.72 L1701.93,701.59 L1703.68,702.46 L1705.42,703.33 L1707.17,704.20 L1708.91,705.07 L1710.66,705.96 L1712.40,706.84 L1714.14,707.74 L1715.89,708.65 L1717.63,709.57 L1719.37,710.51 L1721.11,711.45 L1722.85,712.41 L1724.59,713.38 L1726.33,714.35 L1728.07,715.34 L1729.81,716.33 L1731.54,717.34 L1733.28,718.35 L1735.02,719.36 L1736.75,720.38 L1738.49,721.41 L1740.22,722.44 L1741.96,723.48 L1743.69,724.51 L1745.42,725.55 L1747.15,726.60 L1748.88,727.64 L1750.61,728.68 L1752.34,729.73 L1754.07,730.77 L1755.80,731.81 L1757.53,732.85 L1759.25,733.89 L1760.98,734.92 L1762.70,735.95 L1764.43,736.98 L1766.15,738.00 L1767.87,739.01 L1769.59,740.02 L1771.31,741.02 L1773.03,742.02 L1774.75,743.02 L1776.47,744.02 L1778.18,745.02 L1779.90,746.02 L1781.61,747.02 L1783.33,748.03 L1785.04,749.05 L1786.75,750.07 L1788.46,751.11 L1790.17,752.15 L1791.88,753.20 L1793.58,754.27 L1795.29,755.35 L1797.00,756.45 L1798.70,757.57 L1800.40,758.70 L1800.40,758.70 L1802.35,758.94 L1804.29,759.21 L1806.23,759.52 L1808.16,759.86 L1810.09,760.23 L1812.02,760.63 L1813.95,761.06 L1815.87,761.52 L1817.79,762.01 L1819.71,762.52 L1821.62,763.06 L1823.53,763.62 L1825.44,764.20 L1827.35,764.80 L1829.25,765.42 L1831.16,766.05 L1833.06,766.70 L1834.96,767.37 L1836.86,768.05 L1838.76,768.75 L1840.65,769.45 L1842.55,770.17 L1844.44,770.89 L1846.34,771.63 L1848.23,772.36 L1850.12,773.11 L1852.01,773.85 L1853.90,774.60 L1855.80,775.35 L1857.69,776.10 L1859.58,776.85 L1861.47,777.59 L1863.36,778.34 L1865.25,779.07 L1867.15,779.80 L1869.04,780.52 L1870.93,781.24 L1872.83,781.94 L1874.72,782.64 L1876.62,783.34 L1878.52,784.02 L1880.41,784.70 L1882.31,785.37 L1884.21,786.03 L1886.11,786.69 L1888.01,787.34 L1889.92,787.98 L1891.82,788.61 L1893.72,789.24 L1895.63,789.86 L1897.53,790.47 L1899.44,791.08 L1901.35,791.68 L1903.26,792.27 L1905.17,792.85 L1907.08,793.42 L1908.99,793.99 L1910.91,794.55 L1912.82,795.11 L1914.74,795.66 L1916.65,796.19 L1918.57,796.73 L1920.49,797.25 L1922.41,797.77 L1924.33,798.28 L1926.26,798.78 L1928.18,799.28 L1930.11,799.77 L1932.04,800.25 L1933.97,800.72 L1935.90,801.19 L1937.83,801.65 L1939.76,802.10 L1941.70,802.55 L1943.64,802.98 L1945.57,803.41 L1947.51,803.84 L1949.46,804.25 L1951.40,804.66 L1953.34,805.06 L1955.29,805.46 L1957.24,805.85 L1959.19,806.23 L1961.14,806.60 L1963.09,806.97 L1965.05,807.32 L1967.01,807.68 L1968.97,808.02 L1970.93,808.36 L1972.89,808.69 L1974.85,809.01 L1976.82,809.32 L1978.79,809.63 L1980.76,809.93 L1982.73,810.23 L1984.71,810.51 L1986.68,810.79 L1988.66,811.07 L1990.64,811.33 L1992.63,811.59 L1994.61,811.84 L1996.60,812.08 L1998.59,812.32 L2000.58,812.55 L2002.57,812.77 L2004.57,812.99 L2006.57,813.20 L2008.57,813.40 L2010.57,813.59 L2012.58,813.78 L2014.58,813.96 L2016.59,814.13 L2018.61,814.30 L2020.62,814.45 L2022.64,814.61 L2024.66,814.75 L2026.68,814.89 L2028.71,815.02 L2030.73,815.14 L2032.76,815.25 L2034.80,815.36 L2036.83,815.46 L2038.87,815.56 L2040.91,815.65 L2042.95,815.73 L2045.00,815.80" fill="none" stroke="#377eb8" stroke-width="2.4" stroke-linejoin="round"/>
<path d="M1559.50,645.70 L1561.46,645.72 L1563.42,645.75 L1565.39,645.78 L1567.37,645.82 L1569.35,645.86 L1571.34,645.91 L1573.33,645.97 L1575.33,646.03 L1577.33,646.10 L1579.34,646.18 L1581.35,646.27 L1583.37,646.36 L1585.39,646.47 L1587.41,646.58 L1589.44,646.70 L1591.47,646.83 L1593.50,646.97 L1595.53,647.12 L1597.56,647.27 L1599.60,647.44 L1601.63,647.62 L1603.67,647.82 L1605.71,648.02 L1607.74,648.23 L1609.78,648.46 L1611.81,648.69 L1613.85,648.94 L1615.88,649.21 L1617.91,649.48 L1619.94,649.77 L1621.97,650.07 L1623.99,650.39 L1626.01,650.72 L1628.03,651.06 L1630.04,651.42 L1632.05,651.79 L1634.06,652.18 L1636.06,652.58 L1638.05,653.00 L1640.04,653.43 L1642.03,653.88 L1644.01,654.35 L1645.98,654.84 L1647.95,655.34 L1649.90,655.86 L1651.86,656.39 L1653.80,656.94 L1655.74,657.52 L1657.66,658.11 L1659.58,658.72 L1661.49,659.34 L1663.39,659.99 L1665.29,660.66 L1667.17,661.34 L1669.04,662.05 L1670.90,662.78 L1672.75,663.52 L1674.59,664.29 L1676.41,665.08 L1678.23,665.89 L1680.03,666.72 L1681.82,667.58 L1683.60,668.45 L1685.37,669.35 L1687.12,670.28 L1688.86,671.22 L1690.58,672.19 L1692.29,673.18 L1693.98,674.20 L1695.66,675.24 L1697.33,676.30 L1698.97,677.39 L1700.60,678.50 L1702.22,679.64 L1703.82,680.80 L1705.40,681.98 L1706.96,683.19 L1708.51,684.41 L1710.04,685.66 L1711.55,686.94 L1713.04,688.23 L1714.51,689.55 L1715.97,690.88 L1717.40,692.24 L1718.81,693.62 L1720.21,695.02 L1721.58,696.44 L1722.93,697.88 L1724.26,699.33 L1725.57,700.81 L1726.86,702.31 L1728.12,703.83 L1729.36,705.37 L1730.58,706.92 L1731.78,708.49 L1732.95,710.08 L1734.10,711.69 L1735.22,713.32 L1736.32,714.96 L1737.39,716.62 L1738.44,718.30 L1739.47,720.00 L1740.47,721.71 L1741.44,723.43 L1742.39,725.17 L1743.32,726.93 L1744.22,728.70 L1745.11,730.49 L1745.97,732.28 L1746.82,734.09 L1747.64,735.91 L1748.45,737.75 L1749.24,739.59 L1750.02,741.44 L1750.78,743.31 L1751.53,745.18 L1752.26,747.06 L1752.98,748.96 L1753.68,750.85 L1754.38,752.76 L1755.07,754.67 L1755.74,756.59 L1756.41,758.52 L1757.07,760.45 L1757.72,762.38 L1758.37,764.32 L1759.01,766.26 L1759.64,768.21 L1760.28,770.16 L1760.91,772.11 L1761.53,774.06 L1762.16,776.01 L1762.78,777.97 L1763.41,779.92 L1764.04,781.87 L1764.67,783.82 L1765.30,785.77 L1765.94,787.72 L1766.58,789.67 L1767.22,791.61 L1767.87,793.55 L1768.53,795.48 L1769.20,797.41 L1769.87,799.34 L1770.56,801.25 L1771.25,803.17 L1771.96,805.07 L1772.68,806.97 L1773.41,808.86 L1774.15,810.74 L1774.91,812.61 L1775.69,814.48 L1776.48,816.33 L1777.29,818.17 L1778.11,820.01 L1778.95,821.83 L1779.82,823.63 L1780.70,825.43 L1781.61,827.21 L1782.53,828.98 L1783.48,830.74 L1784.45,832.48 L1785.45,834.20 L1786.47,835.91 L1787.52,837.60 L1788.59,839.28 L1789.70,840.94 L1790.83,842.58 L1791.99,844.20 L1793.18,845.80 L1794.40,847.39 L1795.65,848.95 L1796.94,850.50 L1798.26,852.02 L1799.61,853.52 L1801.00,855.00 L1801.00,855.00 L1802.90,855.63 L1804.80,856.26 L1806.71,856.90 L1808.61,857.54 L1810.51,858.18 L1812.41,858.82 L1814.32,859.47 L1816.22,860.11 L1818.12,860.76 L1820.02,861.40 L1821.93,862.05 L1823.83,862.70 L1825.73,863.35 L1827.64,864.00 L1829.54,864.65 L1831.45,865.30 L1833.35,865.95 L1835.26,866.60 L1837.17,867.25 L1839.07,867.90 L1840.98,868.55 L1842.89,869.20 L1844.79,869.85 L1846.70,870.50 L1848.61,871.15 L1850.52,871.80 L1852.43,872.44 L1854.34,873.09 L1856.25,873.73 L1858.16,874.38 L1860.08,875.02 L1861.99,875.66 L1863.90,876.30 L1865.82,876.93 L1867.73,877.57 L1869.65,878.20 L1871.56,878.83 L1873.48,879.46 L1875.40,880.08 L1877.32,880.71 L1879.24,881.33 L1881.16,881.95 L1883.08,882.56 L1885.00,883.18 L1886.92,883.78 L1888.85,884.39 L1890.77,884.99 L1892.70,885.59 L1894.62,886.19 L1896.55,886.78 L1898.48,887.37 L1900.41,887.96 L1902.34,888.54 L1904.27,889.11 L1906.20,889.69 L1908.13,890.25 L1910.07,890.82 L1912.00,891.38 L1913.94,891.93 L1915.88,892.48 L1917.81,893.03 L1919.75,893.57 L1921.69,894.10 L1923.64,894.63 L1925.58,895.16 L1927.52,895.67 L1929.47,896.19 L1931.42,896.70 L1933.36,897.20 L1935.31,897.69 L1937.26,898.18 L1939.22,898.67 L1941.17,899.14 L1943.12,899.61 L1945.08,900.08 L1947.04,900.53 L1949.00,900.99 L1950.96,901.43 L1952.92,901.87 L1954.88,902.30 L1956.85,902.72 L1958.81,903.13 L1960.78,903.54 L1962.75,903.94 L1964.72,904.33 L1966.69,904.72 L1968.67,905.10 L1970.64,905.47 L1972.62,905.83 L1974.60,906.18 L1976.58,906.52 L1978.56,906.86 L1980.54,907.18 L1982.53,907.50 L1984.51,907.81 L1986.50,908.11 L1988.49,908.40 L1990.49,908.69 L1992.48,908.96 L1994.47,909.22 L1996.47,909.48 L1998.47,909.72 L2000.47,909.95 L2002.48,910.18 L2004.48,910.39 L2006.49,910.60 L2008.50,910.79 L2010.51,910.97 L2012.52,911.15 L2014.53,911.31 L2016.55,911.46 L2018.57,911.60 L2020.59,911.73 L2022.61,911.85 L2024.64,911.96 L2026.66,912.06 L2028.69,912.14 L2030.72,912.22 L2032.76,912.28 L2034.79,912.33 L2036.83,912.37 L2038.87,912.39 L2040.91,912.41 L2042.95,912.41 L2045.00,912.40" fill="none" stroke="#377eb8" stroke-width="2.4" stroke-linejoin="round" stroke-dasharray="8.4 4.1"/>
<path d="M1559.50,648.00 L1561.51,647.93 L1563.52,647.90 L1565.52,647.91 L1567.51,647.95 L1569.50,648.04 L1571.49,648.16 L1573.46,648.31 L1575.44,648.51 L1577.40,648.73 L1579.36,648.99 L1581.32,649.28 L1583.27,649.61 L1585.22,649.96 L1587.16,650.35 L1589.09,650.76 L1591.02,651.21 L1592.95,651.68 L1594.87,652.18 L1596.79,652.70 L1598.70,653.25 L1600.60,653.83 L1602.51,654.43 L1604.40,655.05 L1606.30,655.69 L1608.19,656.36 L1610.07,657.05 L1611.95,657.76 L1613.83,658.48 L1615.70,659.23 L1617.57,659.99 L1619.43,660.77 L1621.29,661.57 L1623.14,662.38 L1625.00,663.20 L1626.84,664.04 L1628.69,664.90 L1630.53,665.76 L1632.37,666.64 L1634.20,667.52 L1636.03,668.42 L1637.86,669.32 L1639.68,670.24 L1641.50,671.16 L1643.32,672.08 L1645.13,673.02 L1646.95,673.95 L1648.75,674.90 L1650.56,675.84 L1652.36,676.79 L1654.16,677.74 L1655.96,678.69 L1657.75,679.64 L1659.54,680.60 L1661.33,681.55 L1663.12,682.51 L1664.90,683.46 L1666.69,684.42 L1668.46,685.37 L1670.24,686.32 L1672.02,687.27 L1673.79,688.22 L1675.56,689.17 L1677.33,690.11 L1679.10,691.05 L1680.86,691.98 L1682.63,692.91 L1684.39,693.84 L1686.15,694.76 L1687.91,695.68 L1689.66,696.59 L1691.42,697.50 L1693.17,698.39 L1694.93,699.28 L1696.68,700.17 L1698.43,701.05 L1700.18,701.92 L1701.93,702.79 L1703.68,703.66 L1705.42,704.53 L1707.17,705.40 L1708.91,706.27 L1710.66,707.16 L1712.40,708.04 L1714.14,708.94 L1715.89,709.85 L1717.63,710.77 L1719.37,711.71 L1721.11,712.65 L1722.85,713.61 L1724.59,714.58 L1726.33,715.55 L1728.07,716.54 L1729.81,717.53 L1731.54,718.54 L1733.28,719.55 L1735.02,720.56 L1736.75,721.58 L1738.49,722.61 L1740.22,723.64 L1741.96,724.68 L1743.69,725.71 L1745.42,726.75 L1747.15,727.80 L1748.88,728.84 L1750.61,729.88 L1752.34,730.93 L1754.07,731.97 L1755.80,733.01 L1757.53,734.05 L1759.25,735.09 L1760.98,736.12 L1762.70,737.15 L1764.43,738.18 L1766.15,739.20 L1767.87,740.21 L1769.59,741.22 L1771.31,742.22 L1773.03,743.22 L1774.75,744.22 L1776.47,745.22 L1778.18,746.22 L1779.90,747.22 L1781.61,748.22 L1783.33,749.23 L1785.04,750.25 L1786.75,751.27 L1788.46,752.31 L1790.17,753.35 L1791.88,754.40 L1793.58,755.47 L1795.29,756.55 L1797.00,757.65 L1798.70,758.77 L1800.40,759.90 L1800.40,759.90 L1802.35,760.14 L1804.29,760.41 L1806.23,760.72 L1808.16,761.06 L1810.09,761.43 L1812.02,761.83 L1813.95,762.26 L1815.87,762.72 L1817.79,763.21 L1819.71,763.72 L1821.62,764.26 L1823.53,764.82 L1825.44,765.40 L1827.35,766.00 L1829.25,766.62 L1831.16,767.25 L1833.06,767.90 L1834.96,768.57 L1836.86,769.25 L1838.76,769.95 L1840.65,770.65 L1842.55,771.37 L1844.44,772.09 L1846.34,772.83 L1848.23,773.56 L1850.12,774.31 L1852.01,775.05 L1853.90,775.80 L1855.80,776.55 L1857.69,777.30 L1859.58,778.05 L1861.47,778.79 L1863.36,779.54 L1865.25,780.27 L1867.15,781.00 L1869.04,781.72 L1870.93,782.44 L1872.83,783.14 L1874.72,783.84 L1876.62,784.54 L1878.52,785.22 L1880.41,785.90 L1882.31,786.57 L1884.21,787.23 L1886.11,787.89 L1888.01,788.54 L1889.92,789.18 L1891.82,789.81 L1893.72,790.44 L1895.63,791.06 L1897.53,791.67 L1899.44,792.28 L1901.35,792.88 L1903.26,793.47 L1905.17,794.05 L1907.08,794.62 L1908.99,795.19 L1910.91,795.75 L1912.82,796.31 L1914.74,796.86 L1916.65,797.39 L1918.57,797.93 L1920.49,798.45 L1922.41,798.97 L1924.33,799.48 L1926.26,799.98 L1928.18,800.48 L1930.11,800.97 L1932.04,801.45 L1933.97,801.92 L1935.90,802.39 L1937.83,802.85 L1939.76,803.30 L1941.70,803.75 L1943.64,804.18 L1945.57,804.61 L1947.51,805.04 L1949.46,805.45 L1951.40,805.86 L1953.34,806.26 L1955.29,806.66 L1957.24,807.05 L1959.19,807.43 L1961.14,807.80 L1963.09,808.17 L1965.05,808.52 L1967.01,808.88 L1968.97,809.22 L1970.93,809.56 L1972.89,809.89 L1974.85,810.21 L1976.82,810.52 L1978.79,810.83 L1980.76,811.13 L1982.73,811.43 L1984.71,811.71 L1986.68,811.99 L1988.66,812.27 L1990.64,812.53 L1992.63,812.79 L1994.61,813.04 L1996.60,813.28 L1998.59,813.52 L2000.58,813.75 L2002.57,813.97 L2004.57,814.19 L2006.57,814.40 L2008.57,814.60 L2010.57,814.79 L2012.58,814.98 L2014.58,815.16 L2016.59,815.33 L2018.61,815.50 L2020.62,815.65 L2022.64,815.81 L2024.66,815.95 L2026.68,816.09 L2028.71,816.22 L2030.73,816.34 L2032.76,816.45 L2034.80,816.56 L2036.83,816.66 L2038.87,816.76 L2040.91,816.85 L2042.95,816.93 L2045.00,817.00" fill="none" stroke="#4daf4a" stroke-width="2.4" stroke-linejoin="round"/>
<path d="M1559.50,651.80 L1561.51,651.74 L1563.53,651.68 L1565.55,651.64 L1567.58,651.61 L1569.61,651.59 L1571.64,651.58 L1573.67,651.58 L1575.71,651.60 L1577.74,651.62 L1579.78,651.66 L1581.82,651.71 L1583.86,651.77 L1585.90,651.84 L1587.95,651.93 L1589.99,652.03 L1592.03,652.15 L1594.07,652.27 L1596.11,652.41 L1598.15,652.56 L1600.19,652.73 L1602.23,652.91 L1604.27,653.11 L1606.30,653.32 L1608.34,653.54 L1610.37,653.78 L1612.40,654.03 L1614.42,654.30 L1616.44,654.58 L1618.46,654.88 L1620.48,655.19 L1622.49,655.52 L1624.49,655.86 L1626.50,656.22 L1628.49,656.60 L1630.48,656.99 L1632.47,657.40 L1634.45,657.83 L1636.43,658.27 L1638.40,658.73 L1640.36,659.21 L1642.32,659.70 L1644.27,660.21 L1646.21,660.74 L1648.15,661.29 L1650.08,661.85 L1652.00,662.43 L1653.91,663.03 L1655.81,663.65 L1657.71,664.29 L1659.60,664.95 L1661.47,665.62 L1663.34,666.32 L1665.20,667.03 L1667.05,667.77 L1668.89,668.52 L1670.71,669.29 L1672.53,670.08 L1674.34,670.90 L1676.13,671.73 L1677.91,672.58 L1679.69,673.46 L1681.44,674.35 L1683.19,675.27 L1684.93,676.21 L1686.65,677.17 L1688.36,678.15 L1690.05,679.15 L1691.73,680.17 L1693.40,681.22 L1695.05,682.28 L1696.69,683.37 L1698.32,684.49 L1699.93,685.62 L1701.52,686.78 L1703.10,687.95 L1704.66,689.15 L1706.21,690.37 L1707.74,691.61 L1709.26,692.87 L1710.75,694.15 L1712.24,695.45 L1713.70,696.77 L1715.15,698.11 L1716.57,699.47 L1717.98,700.85 L1719.38,702.25 L1720.75,703.67 L1722.10,705.10 L1723.44,706.56 L1724.76,708.03 L1726.05,709.52 L1727.33,711.03 L1728.59,712.55 L1729.82,714.09 L1731.04,715.65 L1732.23,717.23 L1733.41,718.82 L1734.56,720.44 L1735.69,722.06 L1736.80,723.70 L1737.88,725.36 L1738.95,727.04 L1739.99,728.73 L1741.01,730.43 L1742.00,732.15 L1742.98,733.88 L1743.94,735.63 L1744.88,737.39 L1745.80,739.16 L1746.70,740.94 L1747.58,742.74 L1748.45,744.55 L1749.31,746.36 L1750.15,748.19 L1750.97,750.03 L1751.78,751.87 L1752.58,753.73 L1753.37,755.59 L1754.14,757.46 L1754.91,759.34 L1755.66,761.22 L1756.41,763.12 L1757.15,765.01 L1757.88,766.91 L1758.60,768.82 L1759.31,770.73 L1760.02,772.64 L1760.73,774.56 L1761.43,776.48 L1762.13,778.41 L1762.83,780.33 L1763.52,782.26 L1764.21,784.18 L1764.90,786.11 L1765.59,788.04 L1766.29,789.97 L1766.98,791.89 L1767.68,793.82 L1768.38,795.74 L1769.08,797.66 L1769.79,799.57 L1770.50,801.49 L1771.22,803.40 L1771.94,805.30 L1772.67,807.20 L1773.41,809.10 L1774.16,810.98 L1774.92,812.87 L1775.68,814.74 L1776.46,816.61 L1777.25,818.47 L1778.06,820.32 L1778.87,822.16 L1779.70,824.00 L1780.54,825.82 L1781.40,827.64 L1782.27,829.44 L1783.16,831.23 L1784.07,833.01 L1784.99,834.78 L1785.94,836.53 L1786.90,838.27 L1787.88,840.00 L1788.89,841.72 L1789.91,843.42 L1790.96,845.10 L1792.03,846.77 L1793.12,848.42 L1794.24,850.06 L1795.38,851.68 L1796.55,853.28 L1797.75,854.86 L1798.97,856.43 L1800.22,857.97 L1801.50,859.50 L1801.50,859.50 L1803.37,860.24 L1805.23,860.98 L1807.10,861.72 L1808.97,862.45 L1810.84,863.18 L1812.72,863.91 L1814.59,864.63 L1816.47,865.35 L1818.34,866.07 L1820.22,866.78 L1822.10,867.49 L1823.99,868.20 L1825.87,868.90 L1827.75,869.60 L1829.64,870.29 L1831.53,870.98 L1833.42,871.67 L1835.31,872.35 L1837.20,873.03 L1839.09,873.71 L1840.99,874.38 L1842.88,875.05 L1844.78,875.71 L1846.68,876.37 L1848.58,877.03 L1850.48,877.68 L1852.38,878.32 L1854.29,878.97 L1856.19,879.61 L1858.10,880.24 L1860.01,880.87 L1861.92,881.50 L1863.83,882.12 L1865.74,882.74 L1867.66,883.35 L1869.57,883.96 L1871.49,884.57 L1873.41,885.17 L1875.33,885.76 L1877.25,886.35 L1879.17,886.94 L1881.09,887.52 L1883.02,888.10 L1884.95,888.67 L1886.87,889.24 L1888.80,889.80 L1890.73,890.36 L1892.66,890.91 L1894.60,891.46 L1896.53,892.00 L1898.47,892.54 L1900.40,893.08 L1902.34,893.61 L1904.28,894.13 L1906.22,894.65 L1908.16,895.16 L1910.10,895.67 L1912.05,896.18 L1913.99,896.67 L1915.94,897.17 L1917.89,897.66 L1919.84,898.14 L1921.79,898.62 L1923.74,899.09 L1925.69,899.55 L1927.65,900.02 L1929.60,900.47 L1931.56,900.92 L1933.52,901.37 L1935.48,901.81 L1937.44,902.24 L1939.40,902.67 L1941.36,903.09 L1943.33,903.51 L1945.29,903.92 L1947.26,904.33 L1949.23,904.72 L1951.20,905.12 L1953.17,905.51 L1955.14,905.89 L1957.11,906.27 L1959.08,906.64 L1961.06,907.00 L1963.03,907.36 L1965.01,907.71 L1966.99,908.06 L1968.97,908.40 L1970.95,908.73 L1972.93,909.06 L1974.91,909.38 L1976.90,909.70 L1978.88,910.01 L1980.87,910.31 L1982.86,910.61 L1984.84,910.90 L1986.83,911.18 L1988.82,911.46 L1990.82,911.73 L1992.81,912.00 L1994.80,912.26 L1996.80,912.51 L1998.79,912.75 L2000.79,912.99 L2002.79,913.22 L2004.79,913.45 L2006.79,913.67 L2008.79,913.88 L2010.79,914.08 L2012.80,914.28 L2014.80,914.47 L2016.81,914.66 L2018.82,914.84 L2020.82,915.01 L2022.83,915.17 L2024.84,915.33 L2026.85,915.48 L2028.87,915.62 L2030.88,915.75 L2032.89,915.88 L2034.91,916.00 L2036.92,916.12 L2038.94,916.22 L2040.96,916.32 L2042.98,916.41 L2045.00,916.50" fill="none" stroke="#4daf4a" stroke-width="2.4" stroke-linejoin="round" stroke-dasharray="8.4 4.1"/>
<path d="M1559.50,647.40 L1561.51,647.33 L1563.52,647.30 L1565.52,647.31 L1567.51,647.35 L1569.50,647.44 L1571.49,647.56 L1573.46,647.71 L1575.44,647.91 L1577.40,648.13 L1579.36,648.39 L1581.32,648.68 L1583.27,649.01 L1585.22,649.36 L1587.16,649.75 L1589.09,650.16 L1591.02,650.61 L1592.95,651.08 L1594.87,651.58 L1596.79,652.10 L1598.70,652.65 L1600.60,653.23 L1602.51,653.83 L1604.40,654.45 L1606.30,655.09 L1608.19,655.76 L1610.07,656.45 L1611.95,657.16 L1613.83,657.88 L1615.70,658.63 L1617.57,659.39 L1619.43,660.17 L1621.29,660.97 L1623.14,661.78 L1625.00,662.60 L1626.84,663.44 L1628.69,664.30 L1630.53,665.16 L1632.37,666.04 L1634.20,666.92 L1636.03,667.82 L1637.86,668.72 L1639.68,669.64 L1641.50,670.56 L1643.32,671.48 L1645.13,672.42 L1646.95,673.35 L1648.75,674.30 L1650.56,675.24 L1652.36,676.19 L1654.16,677.14 L1655.96,678.09 L1657.75,679.04 L1659.54,680.00 L1661.33,680.95 L1663.12,681.91 L1664.90,682.86 L1666.69,683.82 L1668.46,684.77 L1670.24,685.72 L1672.02,686.67 L1673.79,687.62 L1675.56,688.57 L1677.33,689.51 L1679.10,690.45 L1680.86,691.38 L1682.63,692.31 L1684.39,693.24 L1686.15,694.16 L1687.91,695.08 L1689.66,695.99 L1691.42,696.90 L1693.17,697.79 L1694.93,698.68 L1696.68,699.57 L1698.43,700.45 L1700.18,701.32 L1701.93,702.19 L1703.68,703.06 L1705.42,703.93 L1707.17,704.80 L1708.91,705.67 L1710.66,706.56 L1712.40,707.44 L1714.14,708.34 L1715.89,709.25 L1717.63,710.17 L1719.37,711.11 L1721.11,712.05 L1722.85,713.01 L1724.59,713.98 L1726.33,714.95 L1728.07,715.94 L1729.81,716.93 L1731.54,717.94 L1733.28,718.95 L1735.02,719.96 L1736.75,720.98 L1738.49,722.01 L1740.22,723.04 L1741.96,724.08 L1743.69,725.11 L1745.42,726.15 L1747.15,727.20 L1748.88,728.24 L1750.61,729.28 L1752.34,730.33 L1754.07,731.37 L1755.80,732.41 L1757.53,733.45 L1759.25,734.49 L1760.98,735.52 L1762.70,736.55 L1764.43,737.58 L1766.15,738.60 L1767.87,739.61 L1769.59,740.62 L1771.31,741.62 L1773.03,742.62 L1774.75,743.62 L1776.47,744.62 L1778.18,745.62 L1779.90,746.62 L1781.61,747.62 L1783.33,748.63 L1785.04,749.65 L1786.75,750.67 L1788.46,751.71 L1790.17,752.75 L1791.88,753.80 L1793.58,754.87 L1795.29,755.95 L1797.00,757.05 L1798.70,758.17 L1800.40,759.30 L1800.40,759.30 L1802.35,759.54 L1804.29,759.81 L1806.23,760.12 L1808.16,760.46 L1810.09,760.83 L1812.02,761.23 L1813.95,761.66 L1815.87,762.12 L1817.79,762.61 L1819.71,763.12 L1821.62,763.66 L1823.53,764.22 L1825.44,764.80 L1827.35,765.40 L1829.25,766.02 L1831.16,766.65 L1833.06,767.30 L1834.96,767.97 L1836.86,768.65 L1838.76,769.35 L1840.65,770.05 L1842.55,770.77 L1844.44,771.49 L1846.34,772.23 L1848.23,772.96 L1850.12,773.71 L1852.01,774.45 L1853.90,775.20 L1855.80,775.95 L1857.69,776.70 L1859.58,777.45 L1861.47,778.19 L1863.36,778.94 L1865.25,779.67 L1867.15,780.40 L1869.04,781.12 L1870.93,781.84 L1872.83,782.54 L1874.72,783.24 L1876.62,783.94 L1878.52,784.62 L1880.41,785.30 L1882.31,785.97 L1884.21,786.63 L1886.11,787.29 L1888.01,787.94 L1889.92,788.58 L1891.82,789.21 L1893.72,789.84 L1895.63,790.46 L1897.53,791.07 L1899.44,791.68 L1901.35,792.28 L1903.26,792.87 L1905.17,793.45 L1907.08,794.02 L1908.99,794.59 L1910.91,795.15 L1912.82,795.71 L1914.74,796.26 L1916.65,796.79 L1918.57,797.33 L1920.49,797.85 L1922.41,798.37 L1924.33,798.88 L1926.26,799.38 L1928.18,799.88 L1930.11,800.37 L1932.04,800.85 L1933.97,801.32 L1935.90,801.79 L1937.83,802.25 L1939.76,802.70 L1941.70,803.15 L1943.64,803.58 L1945.57,804.01 L1947.51,804.44 L1949.46,804.85 L1951.40,805.26 L1953.34,805.66 L1955.29,806.06 L1957.24,806.45 L1959.19,806.83 L1961.14,807.20 L1963.09,807.57 L1965.05,807.92 L1967.01,808.28 L1968.97,808.62 L1970.93,808.96 L1972.89,809.29 L1974.85,809.61 L1976.82,809.92 L1978.79,810.23 L1980.76,810.53 L1982.73,810.83 L1984.71,811.11 L1986.68,811.39 L1988.66,811.67 L1990.64,811.93 L1992.63,812.19 L1994.61,812.44 L1996.60,812.68 L1998.59,812.92 L2000.58,813.15 L2002.57,813.37 L2004.57,813.59 L2006.57,813.80 L2008.57,814.00 L2010.57,814.19 L2012.58,814.38 L2014.58,814.56 L2016.59,814.73 L2018.61,814.90 L2020.62,815.05 L2022.64,815.21 L2024.66,815.35 L2026.68,815.49 L2028.71,815.62 L2030.73,815.74 L2032.76,815.85 L2034.80,815.96 L2036.83,816.06 L2038.87,816.16 L2040.91,816.25 L2042.95,816.33 L2045.00,816.40" fill="none" stroke="#984ea3" stroke-width="2.4" stroke-linejoin="round"/>
<path d="M1559.90,744.10 L1561.96,744.17 L1564.01,744.24 L1566.05,744.31 L1568.09,744.38 L1570.13,744.45 L1572.17,744.52 L1574.20,744.59 L1576.22,744.66 L1578.24,744.74 L1580.26,744.81 L1582.28,744.89 L1584.29,744.97 L1586.30,745.05 L1588.30,745.13 L1590.30,745.22 L1592.30,745.31 L1594.30,745.40 L1596.29,745.50 L1598.28,745.60 L1600.27,745.70 L1602.26,745.81 L1604.24,745.92 L1606.22,746.04 L1608.20,746.16 L1610.18,746.28 L1612.16,746.42 L1614.14,746.55 L1616.11,746.70 L1618.08,746.85 L1620.05,747.00 L1622.02,747.17 L1623.99,747.34 L1625.96,747.51 L1627.93,747.70 L1629.90,747.89 L1631.86,748.09 L1633.83,748.30 L1635.80,748.51 L1637.76,748.74 L1639.73,748.97 L1641.70,749.21 L1643.66,749.47 L1645.63,749.73 L1647.60,750.00 L1649.57,750.28 L1651.54,750.57 L1653.51,750.87 L1655.48,751.19 L1657.45,751.51 L1659.43,751.84 L1661.40,752.19 L1663.38,752.55 L1665.36,752.92 L1667.34,753.30 L1669.32,753.70 L1671.30,754.11 L1673.29,754.53 L1675.28,754.96 L1677.27,755.41 L1679.26,755.87 L1681.26,756.34 L1683.26,756.83 L1685.26,757.34 L1687.26,757.85 L1689.27,758.39 L1691.28,758.94 L1693.29,759.50 L1695.30,760.08 L1697.31,760.67 L1699.32,761.29 L1701.33,761.91 L1703.33,762.56 L1705.33,763.22 L1707.32,763.90 L1709.31,764.59 L1711.29,765.31 L1713.26,766.04 L1715.22,766.79 L1717.17,767.55 L1719.11,768.34 L1721.04,769.14 L1722.96,769.97 L1724.87,770.81 L1726.76,771.67 L1728.63,772.56 L1730.49,773.46 L1732.33,774.38 L1734.16,775.33 L1735.96,776.29 L1737.75,777.28 L1739.51,778.28 L1741.26,779.31 L1742.98,780.36 L1744.68,781.43 L1746.35,782.53 L1748.00,783.64 L1749.63,784.78 L1751.22,785.94 L1752.79,787.13 L1754.33,788.34 L1755.84,789.57 L1757.32,790.83 L1758.77,792.11 L1760.19,793.41 L1761.57,794.74 L1762.92,796.09 L1764.24,797.47 L1765.52,798.88 L1766.76,800.31 L1767.96,801.77 L1769.13,803.25 L1770.26,804.76 L1771.35,806.29 L1772.41,807.84 L1773.44,809.42 L1774.43,811.02 L1775.38,812.65 L1776.30,814.29 L1777.19,815.96 L1778.05,817.65 L1778.88,819.36 L1779.68,821.08 L1780.44,822.83 L1781.18,824.59 L1781.89,826.37 L1782.58,828.17 L1783.23,829.99 L1783.86,831.82 L1784.47,833.66 L1785.05,835.52 L1785.60,837.39 L1786.13,839.28 L1786.64,841.18 L1787.13,843.10 L1787.59,845.02 L1788.04,846.96 L1788.46,848.90 L1788.87,850.86 L1789.25,852.82 L1789.62,854.80 L1789.97,856.78 L1790.31,858.77 L1790.63,860.77 L1790.93,862.77 L1791.22,864.78 L1791.50,866.80 L1791.77,868.82 L1792.04,870.84 L1792.29,872.87 L1792.55,874.90 L1792.80,876.93 L1793.05,878.96 L1793.29,881.00 L1793.55,883.04 L1793.80,885.07 L1794.06,887.11 L1794.33,889.14 L1794.60,891.18 L1794.89,893.21 L1795.19,895.24 L1795.50,897.26 L1795.82,899.28 L1796.16,901.30 L1796.53,903.31 L1796.91,905.31 L1797.31,907.31 L1797.73,909.30 L1798.18,911.29 L1798.66,913.27 L1799.17,915.23 L1799.70,917.19 L1800.27,919.14 L1800.86,921.08 L1801.50,923.00 L1801.50,923.00 L1803.40,923.60 L1805.31,924.20 L1807.21,924.80 L1809.11,925.41 L1811.01,926.02 L1812.92,926.63 L1814.82,927.24 L1816.72,927.86 L1818.62,928.48 L1820.53,929.10 L1822.43,929.72 L1824.34,930.34 L1826.24,930.96 L1828.14,931.59 L1830.05,932.21 L1831.95,932.84 L1833.86,933.47 L1835.76,934.10 L1837.67,934.72 L1839.57,935.35 L1841.48,935.98 L1843.39,936.61 L1845.29,937.24 L1847.20,937.87 L1849.11,938.49 L1851.02,939.12 L1852.93,939.75 L1854.84,940.37 L1856.74,940.99 L1858.65,941.62 L1860.57,942.24 L1862.48,942.86 L1864.39,943.48 L1866.30,944.09 L1868.21,944.71 L1870.13,945.32 L1872.04,945.93 L1873.96,946.53 L1875.87,947.14 L1877.79,947.74 L1879.71,948.34 L1881.62,948.94 L1883.54,949.53 L1885.46,950.12 L1887.38,950.71 L1889.30,951.29 L1891.22,951.87 L1893.15,952.44 L1895.07,953.01 L1896.99,953.58 L1898.92,954.14 L1900.84,954.70 L1902.77,955.25 L1904.70,955.80 L1906.63,956.35 L1908.56,956.88 L1910.49,957.42 L1912.42,957.94 L1914.35,958.47 L1916.28,958.98 L1918.22,959.49 L1920.15,960.00 L1922.09,960.50 L1924.03,960.99 L1925.97,961.48 L1927.91,961.96 L1929.85,962.44 L1931.79,962.91 L1933.74,963.37 L1935.68,963.82 L1937.63,964.27 L1939.57,964.72 L1941.52,965.16 L1943.47,965.59 L1945.42,966.01 L1947.38,966.43 L1949.33,966.84 L1951.28,967.24 L1953.24,967.64 L1955.20,968.03 L1957.16,968.41 L1959.12,968.79 L1961.08,969.16 L1963.04,969.52 L1965.01,969.88 L1966.97,970.23 L1968.94,970.57 L1970.91,970.90 L1972.88,971.23 L1974.86,971.54 L1976.83,971.85 L1978.81,972.16 L1980.78,972.45 L1982.76,972.74 L1984.74,973.02 L1986.72,973.29 L1988.71,973.56 L1990.69,973.81 L1992.68,974.06 L1994.67,974.30 L1996.66,974.53 L1998.65,974.76 L2000.65,974.97 L2002.64,975.18 L2004.64,975.38 L2006.64,975.57 L2008.64,975.75 L2010.64,975.92 L2012.65,976.09 L2014.66,976.25 L2016.67,976.39 L2018.68,976.53 L2020.69,976.66 L2022.70,976.78 L2024.72,976.89 L2026.74,976.99 L2028.76,977.09 L2030.78,977.17 L2032.81,977.25 L2034.83,977.31 L2036.86,977.37 L2038.89,977.42 L2040.93,977.45 L2042.96,977.48 L2045.00,977.50" fill="none" stroke="#984ea3" stroke-width="2.4" stroke-linejoin="round" stroke-dasharray="8.4 4.1"/>
<line x1="193.2" y1="95.1" x2="193.2" y2="515.3" stroke="#c4c4c4" stroke-width="1.2"/>
<line x1="193.2" y1="95.1" x2="705.8" y2="95.1" stroke="#b4b4b4" stroke-width="1.4"/>
<line x1="705.8" y1="95.1" x2="705.8" y2="515.3" stroke="#6a6a6a" stroke-width="1.6"/>
<line x1="193.2" y1="515.3" x2="705.8" y2="515.3" stroke="#555" stroke-width="1.6"/>
<line x1="203.06" y1="515.3" x2="203.06" y2="520.50" stroke="#222" stroke-width="1.5"/>
<text x="203.06" y="551.90" font-family='"Liberation Serif", serif' font-size="36.3" text-anchor="middle" >0.0</text>
<line x1="301.63" y1="515.3" x2="301.63" y2="520.50" stroke="#222" stroke-width="1.5"/>
<text x="301.63" y="551.90" font-family='"Liberation Serif", serif' font-size="36.3" text-anchor="middle" >0.2</text>
<line x1="400.21" y1="515.3" x2="400.21" y2="520.50" stroke="#222" stroke-width="1.5"/>
<text x="400.21" y="551.90" font-family='"Liberation Serif", serif' font-size="36.3" text-anchor="middle" >0.4</text>
<line x1="498.79" y1="515.3" x2="498.79" y2="520.50" stroke="#222" stroke-width="1.5"/>
<text x="498.79" y="551.90" font-family='"Liberation Serif", serif' font-size="36.3" text-anchor="middle" >0.6</text>
<line x1="597.37" y1="515.3" x2="597.37" y2="520.50" stroke="#222" stroke-width="1.5"/>
<text x="597.37" y="551.90" font-family='"Liberation Serif", serif' font-size="36.3" text-anchor="middle" >0.8</text>
<line x1="695.94" y1="515.3" x2="695.94" y2="520.50" stroke="#222" stroke-width="1.5"/>
<text x="695.94" y="551.90" font-family='"Liberation Serif", serif' font-size="36.3" text-anchor="middle" >1.0</text>
<line x1="868.6" y1="95.1" x2="868.6" y2="515.3" stroke="#555" stroke-width="1.6"/>
<line x1="868.6" y1="95.1" x2="1380.4" y2="95.1" stroke="#b4b4b4" stroke-width="1.4"/>
<line x1="1380.4" y1="95.1" x2="1380.4" y2="515.3" stroke="#444" stroke-width="1.6"/>
<line x1="868.6" y1="515.3" x2="1380.4" y2="515.3" stroke="#555" stroke-width="1.6"/>
<line x1="878.44" y1="515.3" x2="878.44" y2="520.50" stroke="#222" stroke-width="1.5"/>
<text x="878.44" y="551.90" font-family='"Liberation Serif", serif' font-size="36.3" text-anchor="middle" >0.0</text>
<line x1="976.87" y1="515.3" x2="976.87" y2="520.50" stroke="#222" stroke-width="1.5"/>
<text x="976.87" y="551.90" font-family='"Liberation Serif", serif' font-size="36.3" text-anchor="middle" >0.2</text>
<line x1="1075.29" y1="515.3" x2="1075.29" y2="520.50" stroke="#222" stroke-width="1.5"/>
<text x="1075.29" y="551.90" font-family='"Liberation Serif", serif' font-size="36.3" text-anchor="middle" >0.4</text>
<line x1="1173.71" y1="515.3" x2="1173.71" y2="520.50" stroke="#222" stroke-width="1.5"/>
<text x="1173.71" y="551.90" font-family='"Liberation Serif", serif' font-size="36.3" text-anchor="middle" >0.6</text>
<line x1="1272.13" y1="515.3" x2="1272.13" y2="520.50" stroke="#222" stroke-width="1.5"/>
<text x="1272.13" y="551.90" font-family='"Liberation Serif", serif' font-size="36.3" text-anchor="middle" >0.8</text>
<line x1="1370.56" y1="515.3" x2="1370.56" y2="520.50" stroke="#222" stroke-width="1.5"/>
<text x="1370.56" y="551.90" font-family='"Liberation Serif", serif' font-size="36.3" text-anchor="middle" >1.0</text>
<line x1="1543.7" y1="95.1" x2="1543.7" y2="515.3" stroke="#444" stroke-width="1.6"/>
<line x1="1543.7" y1="95.1" x2="2054.9" y2="95.1" stroke="#b4b4b4" stroke-width="1.4"/>
<line x1="2054.9" y1="95.1" x2="2054.9" y2="515.3" stroke="#6a6a6a" stroke-width="1.6"/>
<line x1="1543.7" y1="515.3" x2="2054.9" y2="515.3" stroke="#555" stroke-width="1.6"/>
<line x1="1553.53" y1="515.3" x2="1553.53" y2="520.50" stroke="#222" stroke-width="1.5"/>
<text x="1553.53" y="551.90" font-family='"Liberation Serif", serif' font-size="36.3" text-anchor="middle" >0.0</text>
<line x1="1651.84" y1="515.3" x2="1651.84" y2="520.50" stroke="#222" stroke-width="1.5"/>
<text x="1651.84" y="551.90" font-family='"Liberation Serif", serif' font-size="36.3" text-anchor="middle" >0.2</text>
<line x1="1750.15" y1="515.3" x2="1750.15" y2="520.50" stroke="#222" stroke-width="1.5"/>
<text x="1750.15" y="551.90" font-family='"Liberation Serif", serif' font-size="36.3" text-anchor="middle" >0.4</text>
<line x1="1848.45" y1="515.3" x2="1848.45" y2="520.50" stroke="#222" stroke-width="1.5"/>
<text x="1848.45" y="551.90" font-family='"Liberation Serif", serif' font-size="36.3" text-anchor="middle" >0.6</text>
<line x1="1946.76" y1="515.3" x2="1946.76" y2="520.50" stroke="#222" stroke-width="1.5"/>
<text x="1946.76" y="551.90" font-family='"Liberation Serif", serif' font-size="36.3" text-anchor="middle" >0.8</text>
<line x1="2045.07" y1="515.3" x2="2045.07" y2="520.50" stroke="#222" stroke-width="1.5"/>
<text x="2045.07" y="551.90" font-family='"Liberation Serif", serif' font-size="36.3" text-anchor="middle" >1.0</text>
<line x1="193.2" y1="611.1" x2="193.2" y2="994.9" stroke="#c4c4c4" stroke-width="1.2"/>
<line x1="193.2" y1="611.1" x2="705.8" y2="611.1" stroke="#777" stroke-width="1.5"/>
<line x1="705.8" y1="611.1" x2="705.8" y2="994.9" stroke="#6a6a6a" stroke-width="1.6"/>
<line x1="193.2" y1="994.9" x2="705.8" y2="994.9" stroke="#555" stroke-width="1.6"/>
<line x1="203.06" y1="994.9" x2="203.06" y2="1000.10" stroke="#222" stroke-width="1.5"/>
<text x="203.06" y="1031.50" font-family='"Liberation Serif", serif' font-size="36.3" text-anchor="middle" >0.0</text>
<line x1="301.63" y1="994.9" x2="301.63" y2="1000.10" stroke="#222" stroke-width="1.5"/>
<text x="301.63" y="1031.50" font-family='"Liberation Serif", serif' font-size="36.3" text-anchor="middle" >0.2</text>
<line x1="400.21" y1="994.9" x2="400.21" y2="1000.10" stroke="#222" stroke-width="1.5"/>
<text x="400.21" y="1031.50" font-family='"Liberation Serif", serif' font-size="36.3" text-anchor="middle" >0.4</text>
<line x1="498.79" y1="994.9" x2="498.79" y2="1000.10" stroke="#222" stroke-width="1.5"/>
<text x="498.79" y="1031.50" font-family='"Liberation Serif", serif' font-size="36.3" text-anchor="middle" >0.6</text>
<line x1="597.37" y1="994.9" x2="597.37" y2="1000.10" stroke="#222" stroke-width="1.5"/>
<text x="597.37" y="1031.50" font-family='"Liberation Serif", serif' font-size="36.3" text-anchor="middle" >0.8</text>
<line x1="695.94" y1="994.9" x2="695.94" y2="1000.10" stroke="#222" stroke-width="1.5"/>
<text x="695.94" y="1031.50" font-family='"Liberation Serif", serif' font-size="36.3" text-anchor="middle" >1.0</text>
<line x1="868.6" y1="611.1" x2="868.6" y2="994.9" stroke="#555" stroke-width="1.6"/>
<line x1="868.6" y1="611.1" x2="1380.4" y2="611.1" stroke="#777" stroke-width="1.5"/>
<line x1="1380.4" y1="611.1" x2="1380.4" y2="994.9" stroke="#444" stroke-width="1.6"/>
<line x1="868.6" y1="994.9" x2="1380.4" y2="994.9" stroke="#555" stroke-width="1.6"/>
<line x1="878.44" y1="994.9" x2="878.44" y2="1000.10" stroke="#222" stroke-width="1.5"/>
<text x="878.44" y="1031.50" font-family='"Liberation Serif", serif' font-size="36.3" text-anchor="middle" >0.0</text>
<line x1="976.87" y1="994.9" x2="976.87" y2="1000.10" stroke="#222" stroke-width="1.5"/>
<text x="976.87" y="1031.50" font-family='"Liberation Serif", serif' font-size="36.3" text-anchor="middle" >0.2</text>
<line x1="1075.29" y1="994.9" x2="1075.29" y2="1000.10" stroke="#222" stroke-width="1.5"/>
<text x="1075.29" y="1031.50" font-family='"Liberation Serif", serif' font-size="36.3" text-anchor="middle" >0.4</text>
<line x1="1173.71" y1="994.9" x2="1173.71" y2="1000.10" stroke="#222" stroke-width="1.5"/>
<text x="1173.71" y="1031.50" font-family='"Liberation Serif", serif' font-size="36.3" text-anchor="middle" >0.6</text>
<line x1="1272.13" y1="994.9" x2="1272.13" y2="1000.10" stroke="#222" stroke-width="1.5"/>
<text x="1272.13" y="1031.50" font-family='"Liberation Serif", serif' font-size="36.3" text-anchor="middle" >0.8</text>
<line x1="1370.56" y1="994.9" x2="1370.56" y2="1000.10" stroke="#222" stroke-width="1.5"/>
<text x="1370.56" y="1031.50" font-family='"Liberation Serif", serif' font-size="36.3" text-anchor="middle" >1.0</text>
<line x1="1543.7" y1="611.1" x2="1543.7" y2="994.9" stroke="#444" stroke-width="1.6"/>
<line x1="1543.7" y1="611.1" x2="2054.9" y2="611.1" stroke="#777" stroke-width="1.5"/>
<line x1="2054.9" y1="611.1" x2="2054.9" y2="994.9" stroke="#6a6a6a" stroke-width="1.6"/>
<line x1="1543.7" y1="994.9" x2="2054.9" y2="994.9" stroke="#555" stroke-width="1.6"/>
<line x1="1553.53" y1="994.9" x2="1553.53" y2="1000.10" stroke="#222" stroke-width="1.5"/>
<text x="1553.53" y="1031.50" font-family='"Liberation Serif", serif' font-size="36.3" text-anchor="middle" >0.0</text>
<line x1="1651.84" y1="994.9" x2="1651.84" y2="1000.10" stroke="#222" stroke-width="1.5"/>
<text x="1651.84" y="1031.50" font-family='"Liberation Serif", serif' font-size="36.3" text-anchor="middle" >0.2</text>
<line x1="1750.15" y1="994.9" x2="1750.15" y2="1000.10" stroke="#222" stroke-width="1.5"/>
<text x="1750.15" y="1031.50" font-family='"Liberation Serif", serif' font-size="36.3" text-anchor="middle" >0.4</text>
<line x1="1848.45" y1="994.9" x2="1848.45" y2="1000.10" stroke="#222" stroke-width="1.5"/>
<text x="1848.45" y="1031.50" font-family='"Liberation Serif", serif' font-size="36.3" text-anchor="middle" >0.6</text>
<line x1="1946.76" y1="994.9" x2="1946.76" y2="1000.10" stroke="#222" stroke-width="1.5"/>
<text x="1946.76" y="1031.50" font-family='"Liberation Serif", serif' font-size="36.3" text-anchor="middle" >0.8</text>
<line x1="2045.07" y1="994.9" x2="2045.07" y2="1000.10" stroke="#222" stroke-width="1.5"/>
<text x="2045.07" y="1031.50" font-family='"Liberation Serif", serif' font-size="36.3" text-anchor="middle" >1.0</text>
<line x1="187.90" y1="473.50" x2="193.2" y2="473.50" stroke="#222" stroke-width="1.5"/>
<text x="181.80" y="485.30" font-family='"Liberation Serif", serif' font-size="36.3" text-anchor="end" >0.05</text>
<line x1="187.90" y1="347.37" x2="193.2" y2="347.37" stroke="#222" stroke-width="1.5"/>
<text x="181.80" y="359.16" font-family='"Liberation Serif", serif' font-size="36.3" text-anchor="end" >0.20</text>
<line x1="187.90" y1="221.23" x2="193.2" y2="221.23" stroke="#222" stroke-width="1.5"/>
<text x="181.80" y="233.03" font-family='"Liberation Serif", serif' font-size="36.3" text-anchor="end" >0.35</text>
<line x1="187.90" y1="95.10" x2="193.2" y2="95.10" stroke="#222" stroke-width="1.5"/>
<text x="181.80" y="106.90" font-family='"Liberation Serif", serif' font-size="36.3" text-anchor="end" >0.50</text>
<line x1="187.90" y1="957.00" x2="193.2" y2="957.00" stroke="#222" stroke-width="1.5"/>
<text x="181.80" y="968.80" font-family='"Liberation Serif", serif' font-size="36.3" text-anchor="end" >0.05</text>
<line x1="187.90" y1="841.70" x2="193.2" y2="841.70" stroke="#222" stroke-width="1.5"/>
<text x="181.80" y="853.50" font-family='"Liberation Serif", serif' font-size="36.3" text-anchor="end" >0.20</text>
<line x1="187.90" y1="726.40" x2="193.2" y2="726.40" stroke="#222" stroke-width="1.5"/>
<text x="181.80" y="738.20" font-family='"Liberation Serif", serif' font-size="36.3" text-anchor="end" >0.35</text>
<line x1="187.90" y1="611.10" x2="193.2" y2="611.10" stroke="#222" stroke-width="1.5"/>
<text x="181.80" y="622.90" font-family='"Liberation Serif", serif' font-size="36.3" text-anchor="end" >0.50</text>
<line x1="863.30" y1="515.30" x2="868.6" y2="515.30" stroke="#222" stroke-width="1.5"/>
<text x="857.20" y="527.10" font-family='"Liberation Serif", serif' font-size="36.3" text-anchor="end" >0</text>
<line x1="863.30" y1="410.24" x2="868.6" y2="410.24" stroke="#222" stroke-width="1.5"/>
<text x="857.20" y="422.03" font-family='"Liberation Serif", serif' font-size="36.3" text-anchor="end" >1500</text>
<line x1="863.30" y1="305.17" x2="868.6" y2="305.17" stroke="#222" stroke-width="1.5"/>
<text x="857.20" y="316.97" font-family='"Liberation Serif", serif' font-size="36.3" text-anchor="end" >3000</text>
<line x1="863.30" y1="200.11" x2="868.6" y2="200.11" stroke="#222" stroke-width="1.5"/>
<text x="857.20" y="211.91" font-family='"Liberation Serif", serif' font-size="36.3" text-anchor="end" >4500</text>
<line x1="863.30" y1="95.05" x2="868.6" y2="95.05" stroke="#222" stroke-width="1.5"/>
<text x="857.20" y="106.85" font-family='"Liberation Serif", serif' font-size="36.3" text-anchor="end" >6000</text>
<line x1="863.30" y1="994.90" x2="868.6" y2="994.90" stroke="#222" stroke-width="1.5"/>
<text x="857.20" y="1006.70" font-family='"Liberation Serif", serif' font-size="36.3" text-anchor="end" >0</text>
<line x1="863.30" y1="898.95" x2="868.6" y2="898.95" stroke="#222" stroke-width="1.5"/>
<text x="857.20" y="910.75" font-family='"Liberation Serif", serif' font-size="36.3" text-anchor="end" >1500</text>
<line x1="863.30" y1="803.00" x2="868.6" y2="803.00" stroke="#222" stroke-width="1.5"/>
<text x="857.20" y="814.80" font-family='"Liberation Serif", serif' font-size="36.3" text-anchor="end" >3000</text>
<line x1="863.30" y1="707.05" x2="868.6" y2="707.05" stroke="#222" stroke-width="1.5"/>
<text x="857.20" y="718.85" font-family='"Liberation Serif", serif' font-size="36.3" text-anchor="end" >4500</text>
<line x1="863.30" y1="611.10" x2="868.6" y2="611.10" stroke="#222" stroke-width="1.5"/>
<text x="857.20" y="622.90" font-family='"Liberation Serif", serif' font-size="36.3" text-anchor="end" >6000</text>
<line x1="1538.40" y1="480.80" x2="1543.7" y2="480.80" stroke="#222" stroke-width="1.5"/>
<text x="1532.30" y="492.60" font-family='"Liberation Serif", serif' font-size="36.3" text-anchor="end" >-0.10</text>
<line x1="1538.40" y1="368.63" x2="1543.7" y2="368.63" stroke="#222" stroke-width="1.5"/>
<text x="1532.30" y="380.43" font-family='"Liberation Serif", serif' font-size="36.3" text-anchor="end" >-0.05</text>
<line x1="1538.40" y1="256.47" x2="1543.7" y2="256.47" stroke="#222" stroke-width="1.5"/>
<text x="1532.30" y="268.26" font-family='"Liberation Serif", serif' font-size="36.3" text-anchor="end" >0.00</text>
<line x1="1538.40" y1="144.30" x2="1543.7" y2="144.30" stroke="#222" stroke-width="1.5"/>
<text x="1532.30" y="156.10" font-family='"Liberation Serif", serif' font-size="36.3" text-anchor="end" >0.05</text>
<line x1="1538.40" y1="971.50" x2="1543.7" y2="971.50" stroke="#222" stroke-width="1.5"/>
<text x="1532.30" y="983.30" font-family='"Liberation Serif", serif' font-size="36.3" text-anchor="end" >-1.15</text>
<line x1="1538.40" y1="885.35" x2="1543.7" y2="885.35" stroke="#222" stroke-width="1.5"/>
<text x="1532.30" y="897.15" font-family='"Liberation Serif", serif' font-size="36.3" text-anchor="end" >-1.10</text>
<line x1="1538.40" y1="799.20" x2="1543.7" y2="799.20" stroke="#222" stroke-width="1.5"/>
<text x="1532.30" y="811.00" font-family='"Liberation Serif", serif' font-size="36.3" text-anchor="end" >-1.05</text>
<line x1="1538.40" y1="713.05" x2="1543.7" y2="713.05" stroke="#222" stroke-width="1.5"/>
<text x="1532.30" y="724.85" font-family='"Liberation Serif", serif' font-size="36.3" text-anchor="end" >-1.00</text>
<line x1="1538.40" y1="626.90" x2="1543.7" y2="626.90" stroke="#222" stroke-width="1.5"/>
<text x="1532.30" y="638.70" font-family='"Liberation Serif", serif' font-size="36.3" text-anchor="end" >-0.95</text>
<text x="359.00" y="32.80" font-family='"Liberation Serif", serif' font-size="44" text-anchor="start" >Porosity</text>
<text x="829.40" y="39.20" font-family='"Liberation Serif", serif' font-size="47" text-anchor="start" >Li</text>
<text x="870.0" y="18.0" font-family='"DejaVu Sans", sans-serif' font-size="25.4">+</text>
<text x="901.10" y="39.20" font-family='"Liberation Serif", serif' font-size="47.3" text-anchor="start" >concentration in electrolyte</text>
<text x="1605.60" y="42.30" font-family='"Liberation Serif", serif' font-size="47" text-anchor="start" >Electrolyte potential</text>
<text x="0" y="0" transform="translate(33.50,477.00) rotate(-90)" font-family='"Liberation Serif", serif' font-size="44" >End of 0.3C charge</text>
<text x="0" y="0" transform="translate(34.30,998.70) rotate(-90)" font-family='"Liberation Serif", serif' font-size="47.3" >End of 1C discharge</text>
<text x="60.50" y="78.70" font-family='"Liberation Serif", serif' font-size="40.3" text-anchor="start" >(a)</text>
<text x="734.90" y="77.40" font-family='"Liberation Serif", serif' font-size="40.5" text-anchor="start" >(b)</text>
<text x="1414.30" y="78.10" font-family='"Liberation Serif", serif' font-size="37" text-anchor="start" >(c)</text>
<text x="60.50" y="596.70" font-family='"Liberation Serif", serif' font-size="40.7" text-anchor="start" >(d)</text>
<text x="735.20" y="595.20" font-family='"Liberation Serif", serif' font-size="40.6" text-anchor="start" >(e)</text>
<text x="1411.60" y="603.80" font-family='"Liberation Serif", serif' font-size="37.5" text-anchor="start" >(d)</text>
<text x="449.50" y="1071.20" font-family='"Liberation Serif", serif' font-size="36.3" text-anchor="middle" >Dimensionless cell thickness</text>
<text x="1124.50" y="1071.20" font-family='"Liberation Serif", serif' font-size="36.3" text-anchor="middle" >Dimensionless cell thickness</text>
<text x="1799.30" y="1071.20" font-family='"Liberation Serif", serif' font-size="36.3" text-anchor="middle" >Dimensionless cell thickness</text>
<text x="0" y="0" transform="translate(104.45,314.82) rotate(-90)" font-family='"DejaVu Serif", serif' font-style="italic" font-size="37">ε</text>
<text x="0" y="0" transform="translate(104.45,812.62) rotate(-90)" font-family='"DejaVu Serif", serif' font-style="italic" font-size="37">ε</text>
<text x="0" y="0" transform="translate(1442.00,480.80) rotate(-90)" font-family='"Liberation Serif", serif' font-size="36.1" >Electrolyte potential [V]</text>
<text x="0" y="0" transform="translate(1441.70,978.50) rotate(-90)" font-family='"Liberation Serif", serif' font-size="36.1" >Electrolyte potential [V]</text>
<g transform="translate(770.50,440.70) rotate(-90)" font-family='"Liberation Serif", serif' font-size="36.3"><text x="0" y="0">c(Li</text><text x="65.1" y="-13.9" font-family='"DejaVu Sans", sans-serif' font-size="25.4">+</text><text x="92.1" y="0">)</text><text x="114.1" y="0">[mol</text><text x="181.3" y="0">·</text><text x="195.0" y="0">m</text><text x="221.7" y="-13.5" font-family='"DejaVu Sans", sans-serif' font-size="25">−</text><text x="243.3" y="-13.7" font-size="28.5">3</text><text x="260.3" y="0">]</text></g>
<g transform="translate(770.50,938.00) rotate(-90)" font-family='"Liberation Serif", serif' font-size="36.3"><text x="0" y="0">c(Li</text><text x="65.1" y="-13.9" font-family='"DejaVu Sans", sans-serif' font-size="25.4">+</text><text x="92.1" y="0">)</text><text x="114.1" y="0">[mol</text><text x="181.3" y="0">·</text><text x="195.0" y="0">m</text><text x="221.7" y="-13.5" font-family='"DejaVu Sans", sans-serif' font-size="25">−</text><text x="243.3" y="-13.7" font-size="28.5">3</text><text x="260.3" y="0">]</text></g>
<text x="276.00" y="178.00" font-family='"Liberation Serif", serif' font-size="36.3" text-anchor="start" >Neg</text>
<text x="576.20" y="178.00" font-family='"Liberation Serif", serif' font-size="36.3" text-anchor="start" >Pos</text>
<text x="351.00" y="263.10" font-family='"Liberation Serif", serif' font-size="36.3" text-anchor="start" >Sep</text>
<line x1="396.3" y1="232.7" x2="462.0" y2="152.0" stroke="#000" stroke-width="2"/>
<polygon points="472.2,139.6 455.8,147.1 467.7,155.3" fill="#000" stroke="#000" stroke-width="1" stroke-linejoin="miter"/>
<text x="951.90" y="166.20" font-family='"Liberation Serif", serif' font-size="38.2" text-anchor="start" >First</text>
<text x="1070.30" y="166.20" font-family='"Liberation Serif", serif' font-size="37.6" text-anchor="start" >Last</text>
<line x1="964.2" y1="200.30" x2="1026.0" y2="200.30" stroke="#e41a1c" stroke-width="2.4"/>
<line x1="1074.3" y1="200.30" x2="1134.4" y2="200.30" stroke="#e41a1c" stroke-width="2.4" stroke-dasharray="15.7 6.5"/>
<text x="1166.80" y="213.10" font-family='"Liberation Serif", serif' font-size="36.8" text-anchor="start" >0% more</text>
<line x1="964.2" y1="240.55" x2="1026.0" y2="240.55" stroke="#377eb8" stroke-width="2.4"/>
<line x1="1074.3" y1="240.55" x2="1134.4" y2="240.55" stroke="#377eb8" stroke-width="2.4" stroke-dasharray="15.7 6.5"/>
<text x="1166.80" y="253.50" font-family='"Liberation Serif", serif' font-size="36.8" text-anchor="start" >6% more</text>
<line x1="964.2" y1="280.80" x2="1026.0" y2="280.80" stroke="#4daf4a" stroke-width="2.4"/>
<line x1="1074.3" y1="280.80" x2="1134.4" y2="280.80" stroke="#4daf4a" stroke-width="2.4" stroke-dasharray="15.7 6.5"/>
<text x="1166.80" y="293.90" font-family='"Liberation Serif", serif' font-size="36.8" text-anchor="start" >9% more</text>
<line x1="964.2" y1="321.05" x2="1026.0" y2="321.05" stroke="#984ea3" stroke-width="2.4"/>
<line x1="1074.3" y1="321.05" x2="1134.4" y2="321.05" stroke="#984ea3" stroke-width="2.4" stroke-dasharray="15.7 6.5"/>
<text x="1166.80" y="334.30" font-family='"Liberation Serif", serif' font-size="36.8" text-anchor="start" >w/o dry-out</text>
</svg></body></html>
